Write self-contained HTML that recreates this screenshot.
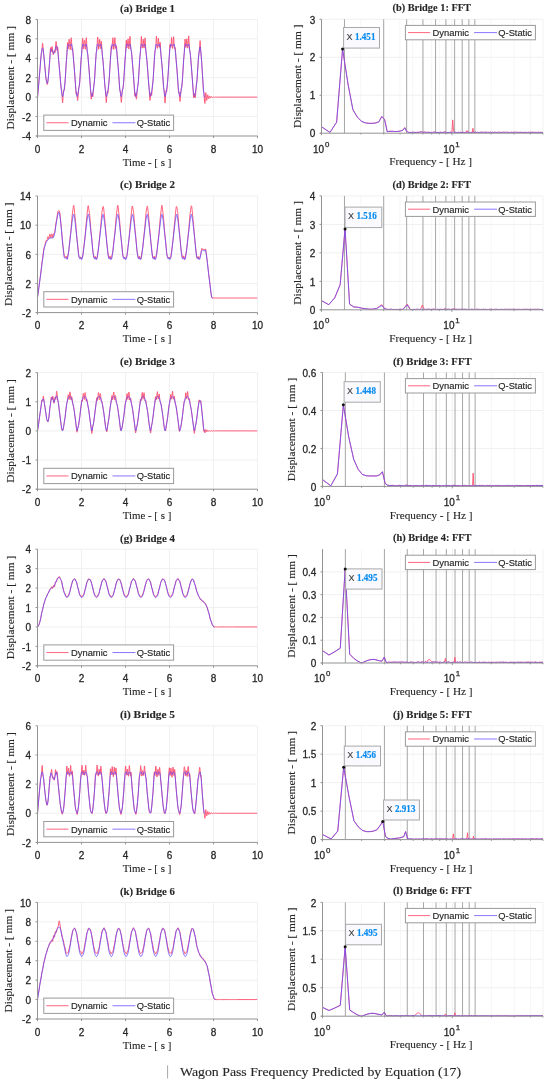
<!DOCTYPE html>
<html><head><meta charset="utf-8"><title>Bridge responses</title>
<style>html,body{margin:0;padding:0;background:#fff;}svg{display:block;}</style>
</head><body>
<svg width="550" height="1085" viewBox="0 0 550 1085">
<rect x="0" y="0" width="550" height="1085" fill="#ffffff"/>
<line x1="81.50" y1="19.40" x2="81.50" y2="136.00" stroke="#f0f0f0" stroke-width="1.0" />
<line x1="125.50" y1="19.40" x2="125.50" y2="136.00" stroke="#f0f0f0" stroke-width="1.0" />
<line x1="169.50" y1="19.40" x2="169.50" y2="136.00" stroke="#f0f0f0" stroke-width="1.0" />
<line x1="213.50" y1="19.40" x2="213.50" y2="136.00" stroke="#f0f0f0" stroke-width="1.0" />
<line x1="257.50" y1="19.40" x2="257.50" y2="136.00" stroke="#f0f0f0" stroke-width="1.0" />
<line x1="37.50" y1="116.57" x2="257.50" y2="116.57" stroke="#f0f0f0" stroke-width="1.0" />
<line x1="37.50" y1="97.13" x2="257.50" y2="97.13" stroke="#f0f0f0" stroke-width="1.0" />
<line x1="37.50" y1="77.70" x2="257.50" y2="77.70" stroke="#f0f0f0" stroke-width="1.0" />
<line x1="37.50" y1="58.27" x2="257.50" y2="58.27" stroke="#f0f0f0" stroke-width="1.0" />
<line x1="37.50" y1="38.83" x2="257.50" y2="38.83" stroke="#f0f0f0" stroke-width="1.0" />
<line x1="37.50" y1="19.40" x2="257.50" y2="19.40" stroke="#f0f0f0" stroke-width="1.0" />
<clipPath id="c1"><rect x="37.50" y="18.40" width="220.00" height="118.10"/></clipPath>
<polyline points="37.50,97.13 38.16,90.85 40.20,66.44 41.02,55.46 41.35,53.10 41.46,52.93 41.68,53.05 41.73,52.98 41.84,52.46 42.34,44.85 42.51,43.37 42.56,43.24 42.67,43.44 42.89,45.07 43.55,53.87 44.16,58.48 45.86,77.73 46.19,79.87 46.69,81.77 47.12,84.04 47.34,84.57 47.51,84.18 47.73,82.74 48.55,75.16 49.55,63.24 50.26,51.04 50.59,47.68 50.65,47.56 50.70,47.60 50.76,47.82 51.09,51.08 51.25,51.85 51.41,51.17 51.85,46.96 51.97,46.55 52.02,46.48 52.13,46.60 52.41,47.98 52.95,53.61 53.17,54.64 53.34,54.29 53.84,51.69 54.28,50.66 54.39,50.61 54.49,50.76 54.88,52.51 54.99,52.71 55.10,52.39 55.21,51.45 55.76,43.15 55.92,41.86 56.09,41.38 56.26,41.82 56.37,42.80 56.75,49.00 56.91,50.42 56.97,50.47 57.08,50.03 57.35,47.58 57.52,46.78 57.58,46.75 57.63,46.88 57.80,48.02 58.67,60.66 59.72,71.47 60.77,85.22 61.15,88.63 61.59,90.15 61.76,91.23 61.98,94.04 62.36,101.32 62.47,102.62 62.58,103.02 62.80,101.28 63.24,93.37 63.46,90.86 63.57,90.29 63.68,90.09 64.06,90.64 64.23,90.43 64.45,89.11 64.67,86.74 65.28,78.60 66.10,65.12 66.65,57.59 67.25,46.48 67.53,42.94 67.64,42.41 67.75,42.69 68.14,47.77 68.30,48.76 68.47,47.40 68.91,40.36 69.07,39.38 69.18,39.23 69.29,39.39 69.56,41.36 70.00,48.65 70.17,49.79 70.28,49.35 70.39,48.01 70.89,39.69 71.05,38.30 71.22,37.70 71.33,37.86 71.38,38.17 71.49,39.34 71.88,47.83 72.04,49.91 72.15,50.15 72.48,48.59 72.59,48.50 72.75,49.24 72.97,51.38 73.69,61.49 74.90,76.08 76.00,93.31 76.17,94.27 76.28,94.37 76.72,92.60 76.77,92.56 76.83,92.66 76.88,92.89 77.43,99.50 77.54,100.31 77.65,100.51 77.76,100.07 77.93,98.40 78.58,88.99 78.81,87.65 79.30,86.23 79.69,83.02 80.90,62.09 81.12,59.19 81.66,54.24 82.27,42.74 82.60,38.62 82.71,38.16 82.77,38.28 82.88,39.34 83.26,47.37 83.42,48.91 83.59,48.10 84.09,41.75 84.31,40.50 84.47,40.16 84.64,40.64 84.75,41.63 85.13,47.87 85.30,49.26 85.41,48.97 85.52,47.75 86.01,39.54 86.17,38.01 86.29,37.68 86.40,38.10 86.56,40.07 87.11,51.35 87.28,52.65 87.55,53.25 87.72,53.97 88.10,57.51 90.30,85.79 91.02,97.64 91.18,98.99 91.23,99.11 91.29,99.06 91.51,97.62 91.84,93.99 92.00,93.10 92.06,93.08 92.17,93.40 92.66,96.69 92.78,96.84 92.83,96.74 93.00,95.73 93.71,86.42 94.37,81.79 94.59,79.29 96.02,54.76 96.24,52.62 96.35,52.16 96.62,51.77 96.79,50.58 97.45,39.24 97.61,37.55 97.78,37.01 98.00,38.99 98.44,48.18 98.60,49.24 98.77,48.29 99.21,43.11 99.65,39.50 99.71,39.38 99.76,39.43 99.87,40.08 100.31,47.49 100.48,48.62 100.64,47.55 101.08,41.99 101.30,41.24 101.41,41.34 101.52,41.93 102.23,54.48 102.90,59.98 103.39,65.11 104.60,82.84 104.88,85.76 105.42,89.66 106.09,100.82 106.30,102.61 106.47,101.63 106.91,94.06 107.13,91.76 107.24,91.40 107.35,91.50 107.68,92.87 107.84,93.13 108.01,92.61 108.23,90.69 109.39,76.46 111.20,46.59 111.31,46.05 111.36,46.08 111.70,48.65 111.80,49.05 111.86,48.94 112.63,39.50 112.79,38.08 112.91,37.74 113.02,38.15 113.12,39.44 113.56,48.17 113.67,49.20 113.73,49.38 113.78,49.35 114.00,47.68 114.72,38.48 114.89,37.60 115.05,38.78 115.44,46.53 115.60,48.30 115.66,48.45 115.77,48.25 116.04,46.54 116.26,45.88 116.37,45.92 116.48,46.24 116.65,47.39 117.36,58.70 118.13,66.50 118.52,71.28 119.67,89.38 119.89,91.02 120.00,91.23 120.33,91.13 120.55,92.07 121.10,100.89 121.21,102.06 121.32,102.46 121.43,102.04 121.54,100.90 122.20,90.57 122.42,89.35 122.53,89.21 122.75,89.30 122.86,89.26 123.03,88.80 123.47,84.80 124.78,63.70 125.45,55.25 126.27,40.41 126.32,40.20 126.44,40.67 126.82,46.67 126.93,47.77 127.04,47.98 127.26,46.51 127.92,39.48 128.03,38.88 128.08,38.83 128.14,38.99 128.31,40.73 128.69,47.74 128.80,48.78 128.91,49.02 129.19,47.03 129.84,37.35 130.01,36.26 130.18,37.66 130.50,46.01 130.72,49.42 130.83,50.03 131.22,50.44 131.44,51.16 131.83,54.25 132.38,62.15 133.81,80.17 134.74,95.00 134.91,96.07 134.96,96.16 135.01,96.12 135.45,93.42 135.56,93.13 135.62,93.16 135.84,94.45 136.22,98.55 136.39,99.19 136.50,98.96 136.67,97.72 137.38,87.99 137.60,86.56 138.09,84.46 138.37,82.02 139.58,60.63 139.75,58.46 140.24,54.42 140.52,51.32 141.23,38.05 141.40,36.38 141.56,37.83 141.94,46.15 142.17,48.04 142.22,48.06 142.33,47.73 142.55,46.30 143.10,40.05 143.27,39.27 143.43,40.31 143.87,47.24 143.98,48.03 144.04,48.15 144.15,47.94 144.47,45.09 144.92,38.53 145.03,37.83 145.13,38.16 145.80,51.03 145.96,52.71 146.62,57.13 146.95,60.39 148.38,79.84 149.09,87.65 149.75,98.82 149.87,99.97 149.92,100.29 150.03,100.45 150.19,99.63 150.58,94.35 150.80,92.67 150.85,92.58 150.96,92.77 151.46,95.50 151.52,95.57 151.57,95.52 151.62,95.36 151.79,94.24 152.45,85.68 153.06,80.62 153.28,77.92 154.76,52.53 154.93,51.06 155.04,50.63 155.31,50.26 155.42,49.87 155.69,47.85 155.92,45.05 156.30,37.85 156.41,36.55 156.46,36.26 156.52,36.26 156.69,37.97 157.07,46.00 157.18,47.42 157.34,48.34 157.45,48.35 157.56,48.04 157.79,46.57 158.39,38.36 158.44,38.26 158.56,38.81 159.00,45.80 159.21,47.30 159.27,47.33 159.38,47.10 159.60,46.05 160.04,42.43 160.15,42.18 160.26,42.76 160.97,55.28 162.13,66.72 163.45,86.27 163.62,87.66 164.06,89.49 164.22,90.87 164.83,101.31 164.94,102.67 165.05,103.11 165.27,101.19 165.65,94.12 165.87,91.44 165.98,90.86 166.09,90.71 166.47,91.68 166.58,91.75 166.64,91.68 166.86,90.56 167.08,88.26 168.02,75.95 169.22,57.02 169.88,44.92 169.94,44.55 170.00,44.40 170.05,44.44 170.38,46.73 170.55,47.35 170.60,47.38 170.71,47.27 170.88,46.75 171.09,44.74 171.48,38.35 171.65,37.42 171.81,38.82 172.31,47.23 172.47,48.32 172.58,48.53 172.69,48.43 172.96,46.42 173.41,38.16 173.57,36.70 173.73,37.73 174.12,44.64 174.40,47.72 174.56,48.49 174.72,48.69 175.17,47.59 175.28,47.92 175.38,48.83 176.05,59.15 177.31,73.90 178.41,91.36 178.52,92.33 178.69,92.93 178.80,92.88 179.12,92.04 179.23,92.14 179.29,92.37 179.46,93.93 179.84,99.97 180.06,101.50 180.17,101.20 180.33,99.56 181.00,89.75 181.21,88.46 181.60,87.90 181.82,87.07 182.26,82.76 183.42,63.07 184.30,52.67 184.79,41.56 184.96,39.25 185.01,39.05 185.06,39.12 185.18,39.86 185.67,46.27 185.83,47.26 186.00,47.53 186.22,46.15 186.66,39.35 186.77,38.75 186.83,38.80 186.99,40.24 187.43,46.47 187.59,47.62 187.71,48.03 187.81,48.16 187.98,47.59 188.09,46.46 188.53,37.43 188.69,35.90 188.86,37.35 189.41,48.26 189.74,51.40 189.91,52.23 190.29,53.40 190.51,55.28 192.71,84.05 193.43,95.93 193.59,97.52 193.70,97.86 193.87,97.26 194.25,93.93 194.42,93.28 194.58,93.76 195.08,97.68 195.19,97.87 195.24,97.80 195.41,96.84 196.12,86.92 196.89,81.43 197.11,79.03 198.38,58.34 198.65,55.86 199.37,51.05 199.86,42.52 199.97,41.12 200.08,40.62 200.25,41.95 200.74,50.97 201.73,62.59 203.27,88.77 203.49,90.83 203.60,91.23 203.88,91.70 203.98,92.39 204.48,100.61 204.54,99.52 204.70,102.37 204.87,103.44 204.97,103.10 205.08,102.03 205.53,94.80 205.69,93.05 205.80,92.61 205.91,92.79 206.02,93.50 206.57,99.65 206.68,100.23 206.79,100.38 207.01,99.46 207.50,95.40 207.62,94.94 207.72,94.80 207.94,95.40 208.44,98.32 208.66,98.81 208.88,98.43 209.32,96.51 209.48,96.05 209.59,95.93 209.81,96.17 210.37,97.80 210.59,97.99 210.81,97.75 211.30,96.67 211.52,96.51 211.74,96.67 212.23,97.45 212.46,97.58 212.68,97.47 213.17,96.92 213.39,96.81 213.61,96.88 214.16,97.31 214.38,97.36 215.31,96.97 216.25,97.25 217.19,97.05 218.12,97.19 219.11,97.09 220.04,97.16 220.98,97.11 257.50,97.13" fill="none" stroke="#ff4a6a" stroke-opacity="0.85" stroke-width="1.0" stroke-linejoin="round" clip-path="url(#c1)"/>
<polyline points="37.50,97.13 38.66,84.86 41.13,55.52 41.57,51.73 42.01,49.29 42.28,48.19 42.51,47.89 42.73,48.18 43.05,49.30 43.38,50.92 43.72,53.80 44.59,64.18 46.02,78.88 46.47,81.59 46.96,82.99 47.12,83.26 47.29,83.36 47.51,83.00 47.73,82.07 48.11,79.84 48.34,77.95 50.26,53.43 50.53,50.64 50.76,49.28 50.87,48.98 51.14,49.01 51.47,49.30 52.08,50.08 52.41,50.76 53.28,53.12 53.56,53.58 53.84,53.70 54.05,53.43 54.33,52.70 55.98,46.78 56.20,46.24 56.42,46.03 56.59,46.14 56.75,46.46 57.08,47.53 57.58,49.74 57.85,51.58 58.34,56.36 60.55,81.51 61.48,91.21 61.81,93.85 62.20,95.86 62.41,96.54 62.52,96.60 62.64,96.47 63.02,95.13 63.90,90.68 64.45,86.99 64.94,82.83 65.39,77.35 66.32,61.40 67.03,52.42 67.64,46.65 68.03,44.70 68.25,44.18 68.63,44.40 69.51,45.70 69.73,45.93 69.95,46.03 70.11,45.99 70.33,45.77 71.22,44.36 71.38,44.22 71.55,44.19 71.71,44.62 72.09,46.52 72.86,52.56 74.08,65.43 75.45,84.16 75.89,89.24 76.55,94.34 76.94,96.16 77.16,96.60 77.32,96.40 77.54,95.70 78.47,91.12 79.08,87.16 79.63,82.51 80.02,77.69 81.12,59.42 81.89,50.22 82.38,46.11 82.71,44.57 82.88,44.19 83.04,44.21 83.26,44.38 84.19,45.74 84.41,45.96 84.64,46.03 85.02,45.73 85.84,44.38 86.06,44.20 86.23,44.23 86.67,46.09 87.00,48.16 87.83,55.65 88.87,67.11 90.08,83.88 90.58,89.55 91.23,94.52 91.62,96.27 91.73,96.55 91.84,96.59 92.00,96.32 92.23,95.57 93.10,91.25 93.66,87.73 94.21,83.23 94.65,78.02 95.64,61.24 96.35,52.29 96.96,46.58 97.34,44.65 97.56,44.18 97.95,44.42 98.83,45.71 99.04,45.94 99.27,46.03 99.43,45.98 99.65,45.76 100.53,44.35 100.70,44.21 100.86,44.20 101.03,44.67 101.41,46.58 102.18,52.67 103.39,65.56 105.15,88.80 105.81,94.08 106.20,95.98 106.42,96.59 106.58,96.49 106.80,95.87 107.68,91.67 108.28,87.88 108.84,83.43 109.33,77.52 110.32,60.76 110.98,52.54 111.59,46.73 111.97,44.74 112.19,44.18 112.35,44.21 112.58,44.39 113.51,45.75 113.73,45.96 113.95,46.03 114.34,45.71 115.16,44.37 115.49,44.18 115.71,44.81 116.09,46.77 116.86,52.99 118.08,65.93 119.40,84.02 119.84,89.13 120.50,94.28 120.88,96.11 121.10,96.60 121.27,96.43 121.48,95.75 122.36,91.49 122.97,87.65 123.52,83.13 123.96,77.85 124.95,61.08 125.56,53.45 126.16,47.29 126.38,45.87 126.77,44.29 126.88,44.18 127.15,44.31 128.14,45.73 128.36,45.95 128.58,46.03 128.75,45.97 128.97,45.74 129.79,44.40 130.12,44.18 130.34,44.71 130.72,46.64 131.50,52.78 132.70,65.68 134.47,88.91 135.12,94.15 135.51,96.03 135.73,96.60 135.84,96.55 135.95,96.35 136.17,95.61 137.05,91.31 137.66,87.41 138.26,82.31 138.65,77.35 139.69,59.85 140.46,50.57 140.95,46.30 141.29,44.70 141.50,44.18 141.89,44.40 142.77,45.70 142.99,45.93 143.21,46.03 143.38,45.99 143.59,45.77 144.47,44.36 144.64,44.22 144.81,44.19 145.08,45.12 145.58,47.93 146.40,55.31 147.50,67.38 148.71,84.16 149.20,89.76 149.81,94.34 150.19,96.16 150.42,96.60 150.58,96.40 150.80,95.70 151.73,91.12 152.29,87.57 152.83,83.03 153.28,77.69 154.27,60.92 154.87,53.32 155.47,47.20 155.69,45.82 156.08,44.26 156.19,44.18 156.46,44.32 157.45,45.74 157.68,45.96 157.90,46.03 158.28,45.73 159.10,44.38 159.44,44.18 159.66,44.76 160.04,46.71 160.81,52.88 162.02,65.81 163.78,89.02 164.44,94.21 164.83,96.07 165.05,96.60 165.27,96.32 165.48,95.57 166.42,90.93 167.03,86.91 167.58,82.20 167.96,77.17 169.00,59.70 169.78,50.45 170.27,46.24 170.60,44.65 170.82,44.18 171.21,44.42 172.08,45.71 172.31,45.94 172.53,46.03 172.69,45.98 172.91,45.76 173.79,44.35 174.06,44.18 174.18,44.30 174.62,46.27 174.94,48.41 175.77,56.00 176.81,67.52 177.97,83.59 178.46,89.34 179.12,94.40 179.51,96.20 179.62,96.51 179.73,96.60 179.90,96.38 180.12,95.66 181.05,91.06 181.66,87.08 182.21,82.41 182.59,77.52 183.63,60.00 184.41,50.69 184.90,46.37 185.23,44.74 185.45,44.18 185.62,44.21 185.83,44.39 186.77,45.75 186.99,45.96 187.21,46.03 187.54,45.78 188.31,44.51 188.69,44.18 188.81,44.25 188.92,44.58 189.35,46.77 190.02,51.94 191.39,66.58 193.04,88.57 193.70,93.95 194.14,96.11 194.36,96.60 194.53,96.43 194.75,95.76 195.41,92.60 195.84,89.89 196.34,86.08 197.06,79.17 198.27,60.76 199.04,52.21 199.37,49.28 199.64,47.69 200.03,46.88 200.13,46.83 200.25,47.05 200.85,51.48 201.29,56.56 203.66,92.53 204.04,95.45 204.31,96.85 204.48,97.13 204.92,97.13" fill="none" stroke="#6248ff" stroke-opacity="0.75" stroke-width="1.0" stroke-linejoin="round" clip-path="url(#c1)"/>
<line x1="37.50" y1="19.40" x2="37.50" y2="137.50" stroke="#939393" stroke-width="1.0" />
<line x1="36.00" y1="136.00" x2="257.50" y2="136.00" stroke="#939393" stroke-width="1.0" />
<line x1="35.50" y1="136.00" x2="37.50" y2="136.00" stroke="#939393" stroke-width="1.0" />
<text x="31.00" y="140.20" font-family="'Liberation Sans', Arial, Helvetica, sans-serif" font-size="10" text-anchor="end" fill="#262626" stroke="#262626" stroke-width="0.28" >-4</text>
<line x1="35.50" y1="116.57" x2="37.50" y2="116.57" stroke="#939393" stroke-width="1.0" />
<text x="31.00" y="120.77" font-family="'Liberation Sans', Arial, Helvetica, sans-serif" font-size="10" text-anchor="end" fill="#262626" stroke="#262626" stroke-width="0.28" >-2</text>
<line x1="35.50" y1="97.13" x2="37.50" y2="97.13" stroke="#939393" stroke-width="1.0" />
<text x="31.00" y="101.33" font-family="'Liberation Sans', Arial, Helvetica, sans-serif" font-size="10" text-anchor="end" fill="#262626" stroke="#262626" stroke-width="0.28" >0</text>
<line x1="35.50" y1="77.70" x2="37.50" y2="77.70" stroke="#939393" stroke-width="1.0" />
<text x="31.00" y="81.90" font-family="'Liberation Sans', Arial, Helvetica, sans-serif" font-size="10" text-anchor="end" fill="#262626" stroke="#262626" stroke-width="0.28" >2</text>
<line x1="35.50" y1="58.27" x2="37.50" y2="58.27" stroke="#939393" stroke-width="1.0" />
<text x="31.00" y="62.47" font-family="'Liberation Sans', Arial, Helvetica, sans-serif" font-size="10" text-anchor="end" fill="#262626" stroke="#262626" stroke-width="0.28" >4</text>
<line x1="35.50" y1="38.83" x2="37.50" y2="38.83" stroke="#939393" stroke-width="1.0" />
<text x="31.00" y="43.03" font-family="'Liberation Sans', Arial, Helvetica, sans-serif" font-size="10" text-anchor="end" fill="#262626" stroke="#262626" stroke-width="0.28" >6</text>
<line x1="35.50" y1="19.40" x2="37.50" y2="19.40" stroke="#939393" stroke-width="1.0" />
<text x="31.00" y="23.60" font-family="'Liberation Sans', Arial, Helvetica, sans-serif" font-size="10" text-anchor="end" fill="#262626" stroke="#262626" stroke-width="0.28" >8</text>
<line x1="37.50" y1="136.00" x2="37.50" y2="138.00" stroke="#939393" stroke-width="1.0" />
<text x="37.50" y="152.50" font-family="'Liberation Sans', Arial, Helvetica, sans-serif" font-size="10" text-anchor="middle" fill="#262626" stroke="#262626" stroke-width="0.28" >0</text>
<line x1="81.50" y1="136.00" x2="81.50" y2="138.00" stroke="#939393" stroke-width="1.0" />
<text x="81.50" y="152.50" font-family="'Liberation Sans', Arial, Helvetica, sans-serif" font-size="10" text-anchor="middle" fill="#262626" stroke="#262626" stroke-width="0.28" >2</text>
<line x1="125.50" y1="136.00" x2="125.50" y2="138.00" stroke="#939393" stroke-width="1.0" />
<text x="125.50" y="152.50" font-family="'Liberation Sans', Arial, Helvetica, sans-serif" font-size="10" text-anchor="middle" fill="#262626" stroke="#262626" stroke-width="0.28" >4</text>
<line x1="169.50" y1="136.00" x2="169.50" y2="138.00" stroke="#939393" stroke-width="1.0" />
<text x="169.50" y="152.50" font-family="'Liberation Sans', Arial, Helvetica, sans-serif" font-size="10" text-anchor="middle" fill="#262626" stroke="#262626" stroke-width="0.28" >6</text>
<line x1="213.50" y1="136.00" x2="213.50" y2="138.00" stroke="#939393" stroke-width="1.0" />
<text x="213.50" y="152.50" font-family="'Liberation Sans', Arial, Helvetica, sans-serif" font-size="10" text-anchor="middle" fill="#262626" stroke="#262626" stroke-width="0.28" >8</text>
<line x1="257.50" y1="136.00" x2="257.50" y2="138.00" stroke="#939393" stroke-width="1.0" />
<text x="257.50" y="152.50" font-family="'Liberation Sans', Arial, Helvetica, sans-serif" font-size="10" text-anchor="middle" fill="#262626" stroke="#262626" stroke-width="0.28" >10</text>
<text x="147.50" y="11.80" font-family="'Liberation Serif', 'Times New Roman', serif" font-size="10.5" text-anchor="middle" fill="#262626" stroke="#262626" font-weight="bold" stroke-width="0.12" textLength="54.9" lengthAdjust="spacingAndGlyphs">(a) Bridge 1</text>
<text x="147.00" y="165.50" font-family="'Liberation Serif', 'Times New Roman', serif" font-size="11" text-anchor="middle" fill="#262626" stroke="#262626" stroke-width="0.12" textLength="48.6" lengthAdjust="spacingAndGlyphs">Time - [ s ]</text>
<text transform="translate(13.90,77.70) rotate(-90)" x="0" y="0" font-family="'Liberation Serif', 'Times New Roman', serif" font-size="11" text-anchor="middle" fill="#262626" stroke="#262626" stroke-width="0.12" textLength="103.6" lengthAdjust="spacingAndGlyphs">Displacement - [ mm ]</text>
<rect x="43.80" y="115.10" width="129.80" height="15.30" fill="#ffffff" stroke="#9a9a9a" stroke-width="1"/>
<line x1="46.40" y1="122.75" x2="68.50" y2="122.75" stroke="#ff4a6a" stroke-width="1.0" stroke-opacity="0.85"/>
<text x="71.00" y="126.15" font-family="'Liberation Sans', Arial, Helvetica, sans-serif" font-size="9.4" text-anchor="start" fill="#262626" stroke="#262626" stroke-width="0.15" textLength="36.4" lengthAdjust="spacingAndGlyphs">Dynamic</text>
<line x1="112.50" y1="122.75" x2="135.40" y2="122.75" stroke="#6248ff" stroke-width="1.0" stroke-opacity="0.75"/>
<text x="136.70" y="126.15" font-family="'Liberation Sans', Arial, Helvetica, sans-serif" font-size="9.4" text-anchor="start" fill="#262626" stroke="#262626" stroke-width="0.15" textLength="33.6" lengthAdjust="spacingAndGlyphs">Q-Static</text>
<line x1="81.50" y1="196.00" x2="81.50" y2="312.60" stroke="#f0f0f0" stroke-width="1.0" />
<line x1="125.50" y1="196.00" x2="125.50" y2="312.60" stroke="#f0f0f0" stroke-width="1.0" />
<line x1="169.50" y1="196.00" x2="169.50" y2="312.60" stroke="#f0f0f0" stroke-width="1.0" />
<line x1="213.50" y1="196.00" x2="213.50" y2="312.60" stroke="#f0f0f0" stroke-width="1.0" />
<line x1="257.50" y1="196.00" x2="257.50" y2="312.60" stroke="#f0f0f0" stroke-width="1.0" />
<line x1="37.50" y1="283.45" x2="257.50" y2="283.45" stroke="#f0f0f0" stroke-width="1.0" />
<line x1="37.50" y1="254.30" x2="257.50" y2="254.30" stroke="#f0f0f0" stroke-width="1.0" />
<line x1="37.50" y1="225.15" x2="257.50" y2="225.15" stroke="#f0f0f0" stroke-width="1.0" />
<line x1="37.50" y1="196.00" x2="257.50" y2="196.00" stroke="#f0f0f0" stroke-width="1.0" />
<clipPath id="c2"><rect x="37.50" y="195.00" width="220.00" height="118.10"/></clipPath>
<polyline points="37.50,297.30 38.93,287.16 39.98,278.69 40.80,273.20 41.90,262.76 42.78,257.37 43.61,250.20 43.99,247.85 44.87,245.59 45.59,241.84 45.86,240.81 46.08,240.50 46.25,240.54 46.63,240.87 46.80,240.82 46.91,240.64 47.12,239.91 47.67,237.17 47.89,236.65 48.01,236.65 48.17,236.96 48.67,238.66 48.77,238.80 48.88,238.75 49.11,238.00 49.60,234.80 49.82,234.03 49.93,234.01 50.09,234.45 50.59,237.28 50.81,237.88 50.92,237.82 51.03,237.51 51.58,234.32 51.80,233.75 51.91,233.82 52.08,234.35 52.62,237.27 52.79,237.60 52.95,237.48 53.78,233.45 54.00,233.10 54.33,233.24 54.49,233.16 54.77,232.27 55.87,223.17 56.75,219.04 57.69,212.28 57.96,211.20 58.29,210.64 58.51,210.56 58.90,210.55 59.12,210.70 59.34,211.04 59.66,212.11 59.99,214.03 61.70,231.56 62.86,244.82 64.34,256.39 64.61,257.44 64.78,257.71 64.94,257.77 65.22,257.46 65.83,256.19 65.99,256.07 66.10,256.10 66.38,256.58 66.87,258.46 67.09,258.75 67.20,258.62 67.36,258.05 67.92,254.86 68.52,252.30 68.85,250.09 69.84,239.79 70.78,232.35 72.09,216.12 73.36,206.31 73.58,205.34 73.64,205.29 73.75,205.44 74.08,207.50 75.56,221.68 76.77,236.72 77.65,244.53 78.64,254.52 78.92,256.21 79.19,257.19 79.30,257.33 79.41,257.33 79.69,256.94 79.85,256.85 80.02,256.96 80.23,257.29 80.51,257.03 80.62,257.05 81.00,258.55 81.12,258.73 81.66,257.69 81.78,257.59 82.10,257.56 82.33,257.19 82.66,256.06 82.98,254.25 83.92,245.63 84.91,238.04 85.95,225.76 87.66,208.55 87.99,206.15 88.16,205.66 88.27,205.68 88.54,206.88 89.75,215.56 90.91,230.28 91.84,238.77 92.72,249.49 93.10,252.74 94.09,256.92 94.59,258.09 94.75,258.28 94.92,258.28 95.30,256.59 95.41,256.42 95.80,257.46 96.08,257.77 96.68,258.93 96.84,258.72 97.06,257.67 98.83,245.38 99.76,235.40 100.70,226.84 101.91,212.25 102.73,207.36 102.95,206.57 103.06,206.42 103.17,206.47 103.34,206.87 103.55,207.92 104.00,211.20 106.97,244.49 108.50,256.67 108.73,257.89 108.84,258.20 108.95,258.27 109.66,256.93 109.94,255.99 110.04,255.90 110.54,258.66 110.65,258.91 110.87,259.03 111.15,258.73 111.48,257.90 112.03,255.21 112.52,253.36 112.85,251.32 113.84,241.20 114.83,233.41 116.09,217.79 117.47,206.27 117.64,205.37 117.75,205.14 117.80,205.17 117.97,205.73 118.13,206.89 119.61,220.44 120.83,235.71 121.71,243.39 122.70,254.00 123.03,255.86 123.36,256.87 123.52,257.02 123.79,256.86 123.96,256.90 124.40,257.65 124.78,257.21 125.17,258.33 125.28,258.41 125.72,257.63 125.89,257.59 126.22,257.87 126.44,257.63 126.77,256.40 127.09,254.37 127.86,247.44 128.97,238.92 129.90,228.13 131.60,210.29 132.05,206.83 132.21,206.16 132.38,205.98 132.54,206.35 132.70,207.17 133.53,212.27 133.81,214.52 134.96,229.08 135.90,237.79 136.72,247.92 137.16,251.84 138.20,257.03 138.53,258.00 138.81,258.30 138.97,258.24 139.08,258.09 139.42,256.41 139.53,256.11 139.58,256.11 140.02,257.68 140.57,258.79 140.79,259.03 140.95,258.79 141.12,258.03 141.67,254.04 142.77,247.25 143.76,236.83 144.75,228.03 145.91,213.68 146.18,211.58 146.90,207.33 147.12,206.35 147.28,206.11 147.44,206.38 147.67,207.42 148.10,211.00 149.75,228.61 150.91,242.27 152.56,256.26 152.78,257.57 153.00,258.13 153.11,258.06 153.60,257.04 153.83,256.80 154.10,256.16 154.21,256.20 154.65,258.72 154.76,259.01 154.87,259.03 155.15,258.73 155.64,257.59 156.58,254.09 156.91,252.06 157.90,242.12 158.88,234.41 160.15,219.00 161.53,206.73 161.69,205.61 161.85,205.12 162.02,205.41 162.19,206.39 163.62,218.68 164.83,234.05 165.70,241.72 166.75,253.36 166.97,254.73 167.35,256.17 167.63,256.73 168.07,257.03 168.51,257.94 168.62,257.90 168.95,257.18 169.39,258.07 169.72,257.63 169.88,257.59 170.33,258.20 170.44,258.20 170.66,257.72 170.93,256.33 172.91,240.83 173.90,229.85 174.72,221.72 175.66,210.97 176.16,207.32 176.38,206.48 176.54,206.32 176.76,206.80 176.98,207.85 177.58,211.34 177.86,213.55 178.96,227.26 179.95,236.84 180.88,248.08 181.33,251.58 182.31,257.15 182.54,258.00 182.70,258.24 182.87,258.31 183.14,258.01 183.31,257.52 183.58,256.06 183.69,255.87 183.80,256.11 184.19,257.96 184.68,258.95 184.84,259.04 185.01,258.90 185.23,257.98 185.78,254.18 186.44,250.81 186.77,248.59 187.76,238.23 188.75,229.79 189.96,214.70 191.12,206.78 191.28,206.00 191.44,205.77 191.56,205.95 191.72,206.66 192.05,209.29 193.70,226.18 194.85,240.11 196.29,253.21 196.83,257.15 197.00,257.74 197.17,257.89 197.66,256.97 197.83,256.85 197.99,256.86 198.21,256.50 198.32,256.47 198.81,258.88 198.93,259.01 199.09,258.82 199.81,257.41 200.63,254.83 200.91,253.50 201.51,249.51 201.68,248.88 201.90,248.44 202.00,248.39 202.17,248.50 202.67,249.58 202.94,249.85 203.10,249.80 203.55,249.26 203.77,249.14 203.98,249.27 204.48,249.98 204.70,250.08 204.92,249.87 205.42,248.85 205.58,249.00 205.80,249.97 206.13,252.17 207.56,263.47 208.71,274.31 209.59,281.01 210.86,292.16 211.46,296.05 211.74,297.21 212.02,297.89 212.23,298.03 257.50,298.03" fill="none" stroke="#ff4a6a" stroke-opacity="0.85" stroke-width="1.0" stroke-linejoin="round" clip-path="url(#c2)"/>
<polyline points="37.50,297.30 40.25,277.64 43.27,254.15 43.88,250.29 44.54,247.33 45.20,244.96 45.86,243.12 46.74,241.42 47.62,240.18 49.16,238.74 50.20,238.07 50.81,237.91 53.01,237.88 53.34,237.52 53.73,236.71 54.33,235.00 54.72,233.24 56.97,218.86 57.47,216.10 58.34,212.84 58.62,212.21 58.84,212.03 58.95,212.10 59.12,212.44 59.45,213.74 60.05,217.04 60.38,219.46 60.93,224.77 62.30,240.08 63.62,252.76 64.12,256.48 64.34,257.48 64.56,257.94 65.06,258.23 65.50,258.30 66.16,257.65 66.38,257.60 66.54,257.86 66.98,259.12 67.20,259.40 67.42,259.05 67.64,258.16 68.52,253.00 72.09,221.85 72.48,219.13 73.08,215.74 73.36,214.57 73.58,214.22 73.80,214.57 74.13,216.03 74.73,219.48 75.23,223.13 76.99,239.29 78.09,250.76 78.58,254.71 79.08,257.46 79.41,258.58 79.52,258.67 80.18,258.67 80.62,257.58 80.73,257.77 81.06,259.21 81.17,259.40 81.94,259.40 82.10,259.14 82.38,258.05 83.04,254.35 83.75,248.88 86.84,221.68 87.22,219.00 87.83,215.63 88.10,214.51 88.21,214.28 88.32,214.22 88.54,214.64 88.76,215.57 89.36,218.93 89.75,221.58 91.67,238.97 93.00,252.45 93.27,254.51 93.77,257.30 93.98,258.23 94.21,258.66 94.92,258.66 95.25,257.69 95.36,257.59 95.85,259.38 96.62,259.40 96.84,259.08 97.12,257.94 97.78,254.20 98.28,250.54 101.63,221.10 102.56,215.52 102.78,214.61 103.00,214.22 103.23,214.54 103.50,215.68 104.10,219.06 104.60,222.60 106.42,239.18 107.62,251.68 107.96,254.29 108.40,256.83 108.67,258.11 108.89,258.64 109.66,258.64 110.04,257.58 110.16,257.74 110.59,259.40 111.36,259.40 111.48,259.29 111.75,258.37 112.30,255.40 112.85,251.68 116.42,220.54 117.30,215.41 117.53,214.54 117.75,214.22 117.97,214.60 118.24,215.80 118.84,219.20 119.28,222.34 121.16,239.39 122.36,251.88 122.70,254.44 123.14,256.95 123.41,258.19 123.63,258.66 124.34,258.67 124.78,257.58 125.28,259.37 126.05,259.40 126.16,259.34 126.38,258.74 126.66,257.41 127.15,254.62 127.59,251.51 131.11,220.78 131.99,215.57 132.21,214.64 132.43,214.22 132.54,214.28 132.65,214.51 132.93,215.63 133.53,219.00 134.03,222.51 135.90,239.61 137.05,251.58 137.38,254.22 137.88,257.07 138.09,258.07 138.31,258.63 139.08,258.65 139.42,257.67 139.53,257.60 140.02,259.39 140.84,259.38 141.06,258.87 141.34,257.59 141.89,254.49 142.28,251.77 145.85,220.62 146.73,215.46 146.95,214.57 147.17,214.22 147.39,214.57 147.61,215.46 148.60,221.41 150.58,239.29 151.90,252.73 152.62,257.18 152.83,258.15 153.06,258.65 153.83,258.63 154.21,257.58 154.32,257.77 154.70,259.35 155.53,259.40 155.75,258.98 155.97,258.05 156.63,254.35 157.12,250.72 160.54,220.86 161.47,215.36 161.69,214.51 161.80,214.28 161.91,214.22 162.13,214.64 162.41,215.85 163.01,219.27 163.45,222.43 165.32,239.50 166.47,251.48 166.81,254.14 167.30,257.01 167.58,258.23 167.80,258.66 168.51,258.66 168.84,257.69 168.95,257.59 169.44,259.38 170.21,259.40 170.38,259.22 170.66,258.21 171.21,255.21 171.75,251.43 175.28,220.70 176.16,215.52 176.38,214.61 176.59,214.22 176.81,214.54 177.09,215.68 177.69,219.06 178.19,222.60 180.00,239.18 181.21,251.68 181.55,254.29 181.98,256.83 182.26,258.11 182.48,258.64 183.25,258.64 183.63,257.58 183.80,257.93 184.13,259.33 184.19,259.40 184.96,259.40 185.18,259.01 185.40,258.10 186.00,254.76 186.38,252.11 190.02,220.54 190.90,215.41 191.12,214.54 191.33,214.22 191.56,214.60 191.83,215.80 192.44,219.20 192.88,222.34 194.75,239.39 195.96,251.88 196.34,254.78 196.94,257.99 197.22,258.66 197.94,258.67 198.38,257.58 198.87,259.37 199.69,259.39 199.86,259.08 200.03,258.44 201.34,251.58 201.56,250.82 201.79,250.42 202.12,250.01 202.44,249.95 202.83,250.16 203.66,250.87 204.09,251.02 204.37,250.87 205.19,249.99 205.42,249.94 205.53,250.15 206.24,253.98 206.84,258.25 208.60,273.55 211.08,293.76 211.46,296.05 211.85,297.55 212.12,298.00 212.62,298.03" fill="none" stroke="#6248ff" stroke-opacity="0.75" stroke-width="1.0" stroke-linejoin="round" clip-path="url(#c2)"/>
<line x1="37.50" y1="196.00" x2="37.50" y2="314.10" stroke="#939393" stroke-width="1.0" />
<line x1="36.00" y1="312.60" x2="257.50" y2="312.60" stroke="#939393" stroke-width="1.0" />
<line x1="35.50" y1="312.60" x2="37.50" y2="312.60" stroke="#939393" stroke-width="1.0" />
<text x="31.00" y="316.80" font-family="'Liberation Sans', Arial, Helvetica, sans-serif" font-size="10" text-anchor="end" fill="#262626" stroke="#262626" stroke-width="0.28" >-2</text>
<line x1="35.50" y1="283.45" x2="37.50" y2="283.45" stroke="#939393" stroke-width="1.0" />
<text x="31.00" y="287.65" font-family="'Liberation Sans', Arial, Helvetica, sans-serif" font-size="10" text-anchor="end" fill="#262626" stroke="#262626" stroke-width="0.28" >2</text>
<line x1="35.50" y1="254.30" x2="37.50" y2="254.30" stroke="#939393" stroke-width="1.0" />
<text x="31.00" y="258.50" font-family="'Liberation Sans', Arial, Helvetica, sans-serif" font-size="10" text-anchor="end" fill="#262626" stroke="#262626" stroke-width="0.28" >6</text>
<line x1="35.50" y1="225.15" x2="37.50" y2="225.15" stroke="#939393" stroke-width="1.0" />
<text x="31.00" y="229.35" font-family="'Liberation Sans', Arial, Helvetica, sans-serif" font-size="10" text-anchor="end" fill="#262626" stroke="#262626" stroke-width="0.28" >10</text>
<line x1="35.50" y1="196.00" x2="37.50" y2="196.00" stroke="#939393" stroke-width="1.0" />
<text x="31.00" y="200.20" font-family="'Liberation Sans', Arial, Helvetica, sans-serif" font-size="10" text-anchor="end" fill="#262626" stroke="#262626" stroke-width="0.28" >14</text>
<line x1="37.50" y1="312.60" x2="37.50" y2="314.60" stroke="#939393" stroke-width="1.0" />
<text x="37.50" y="329.10" font-family="'Liberation Sans', Arial, Helvetica, sans-serif" font-size="10" text-anchor="middle" fill="#262626" stroke="#262626" stroke-width="0.28" >0</text>
<line x1="81.50" y1="312.60" x2="81.50" y2="314.60" stroke="#939393" stroke-width="1.0" />
<text x="81.50" y="329.10" font-family="'Liberation Sans', Arial, Helvetica, sans-serif" font-size="10" text-anchor="middle" fill="#262626" stroke="#262626" stroke-width="0.28" >2</text>
<line x1="125.50" y1="312.60" x2="125.50" y2="314.60" stroke="#939393" stroke-width="1.0" />
<text x="125.50" y="329.10" font-family="'Liberation Sans', Arial, Helvetica, sans-serif" font-size="10" text-anchor="middle" fill="#262626" stroke="#262626" stroke-width="0.28" >4</text>
<line x1="169.50" y1="312.60" x2="169.50" y2="314.60" stroke="#939393" stroke-width="1.0" />
<text x="169.50" y="329.10" font-family="'Liberation Sans', Arial, Helvetica, sans-serif" font-size="10" text-anchor="middle" fill="#262626" stroke="#262626" stroke-width="0.28" >6</text>
<line x1="213.50" y1="312.60" x2="213.50" y2="314.60" stroke="#939393" stroke-width="1.0" />
<text x="213.50" y="329.10" font-family="'Liberation Sans', Arial, Helvetica, sans-serif" font-size="10" text-anchor="middle" fill="#262626" stroke="#262626" stroke-width="0.28" >8</text>
<line x1="257.50" y1="312.60" x2="257.50" y2="314.60" stroke="#939393" stroke-width="1.0" />
<text x="257.50" y="329.10" font-family="'Liberation Sans', Arial, Helvetica, sans-serif" font-size="10" text-anchor="middle" fill="#262626" stroke="#262626" stroke-width="0.28" >10</text>
<text x="147.50" y="188.40" font-family="'Liberation Serif', 'Times New Roman', serif" font-size="10.5" text-anchor="middle" fill="#262626" stroke="#262626" font-weight="bold" stroke-width="0.12" textLength="54.9" lengthAdjust="spacingAndGlyphs">(c) Bridge 2</text>
<text x="147.00" y="342.10" font-family="'Liberation Serif', 'Times New Roman', serif" font-size="11" text-anchor="middle" fill="#262626" stroke="#262626" stroke-width="0.12" textLength="48.6" lengthAdjust="spacingAndGlyphs">Time - [ s ]</text>
<text transform="translate(11.90,254.30) rotate(-90)" x="0" y="0" font-family="'Liberation Serif', 'Times New Roman', serif" font-size="11" text-anchor="middle" fill="#262626" stroke="#262626" stroke-width="0.12" textLength="103.6" lengthAdjust="spacingAndGlyphs">Displacement - [ mm ]</text>
<rect x="43.80" y="291.70" width="129.80" height="15.30" fill="#ffffff" stroke="#9a9a9a" stroke-width="1"/>
<line x1="46.40" y1="299.35" x2="68.50" y2="299.35" stroke="#ff4a6a" stroke-width="1.0" stroke-opacity="0.85"/>
<text x="71.00" y="302.75" font-family="'Liberation Sans', Arial, Helvetica, sans-serif" font-size="9.4" text-anchor="start" fill="#262626" stroke="#262626" stroke-width="0.15" textLength="36.4" lengthAdjust="spacingAndGlyphs">Dynamic</text>
<line x1="112.50" y1="299.35" x2="135.40" y2="299.35" stroke="#6248ff" stroke-width="1.0" stroke-opacity="0.75"/>
<text x="136.70" y="302.75" font-family="'Liberation Sans', Arial, Helvetica, sans-serif" font-size="9.4" text-anchor="start" fill="#262626" stroke="#262626" stroke-width="0.15" textLength="33.6" lengthAdjust="spacingAndGlyphs">Q-Static</text>
<line x1="81.50" y1="372.60" x2="81.50" y2="489.20" stroke="#f0f0f0" stroke-width="1.0" />
<line x1="125.50" y1="372.60" x2="125.50" y2="489.20" stroke="#f0f0f0" stroke-width="1.0" />
<line x1="169.50" y1="372.60" x2="169.50" y2="489.20" stroke="#f0f0f0" stroke-width="1.0" />
<line x1="213.50" y1="372.60" x2="213.50" y2="489.20" stroke="#f0f0f0" stroke-width="1.0" />
<line x1="257.50" y1="372.60" x2="257.50" y2="489.20" stroke="#f0f0f0" stroke-width="1.0" />
<line x1="37.50" y1="460.05" x2="257.50" y2="460.05" stroke="#f0f0f0" stroke-width="1.0" />
<line x1="37.50" y1="430.90" x2="257.50" y2="430.90" stroke="#f0f0f0" stroke-width="1.0" />
<line x1="37.50" y1="401.75" x2="257.50" y2="401.75" stroke="#f0f0f0" stroke-width="1.0" />
<line x1="37.50" y1="372.60" x2="257.50" y2="372.60" stroke="#f0f0f0" stroke-width="1.0" />
<clipPath id="c3"><rect x="37.50" y="371.60" width="220.00" height="118.10"/></clipPath>
<polyline points="37.50,430.90 38.71,423.30 39.92,414.08 40.85,408.04 41.62,401.15 41.79,400.42 41.95,400.14 42.12,400.22 42.51,401.03 42.62,401.05 42.67,400.94 43.27,396.25 43.33,396.16 43.38,396.20 43.55,396.96 44.38,403.72 45.09,407.69 46.52,418.15 46.85,419.54 47.73,421.60 47.95,421.86 48.11,421.62 48.28,421.03 48.88,417.43 49.88,408.27 50.42,404.52 50.98,398.59 51.20,397.28 51.36,396.99 51.53,397.16 51.97,399.53 52.13,399.91 52.30,399.16 52.62,396.35 52.73,395.98 52.84,396.07 53.12,397.63 53.73,402.48 53.89,403.25 54.00,403.41 54.05,403.35 54.28,402.27 54.72,398.19 54.94,397.12 55.10,397.01 55.32,397.34 55.76,399.27 55.87,399.44 55.92,399.32 56.09,397.80 56.42,392.70 56.64,391.18 56.75,391.35 56.91,392.43 57.69,400.79 57.85,401.34 58.12,401.15 58.23,401.25 58.45,402.42 59.28,410.35 60.77,421.85 61.59,428.88 61.86,429.86 61.98,429.87 62.25,429.58 62.41,429.53 62.58,429.64 62.97,430.15 63.19,429.77 63.41,428.77 64.18,422.86 65.06,417.62 66.16,407.60 66.54,404.75 66.81,403.30 67.20,402.51 67.36,401.78 68.03,395.19 68.14,394.80 68.25,394.69 68.47,395.08 68.69,396.34 69.02,399.20 69.12,399.60 69.18,399.55 69.34,398.37 69.73,393.05 69.95,391.87 70.11,392.19 70.33,393.51 71.00,399.91 71.05,400.01 71.16,399.77 71.55,396.92 71.66,396.59 71.77,396.68 72.04,398.15 72.81,404.13 72.97,404.84 73.42,405.93 73.69,407.21 74.19,410.46 75.89,423.50 76.61,430.60 76.77,431.68 76.94,432.23 77.10,431.90 77.65,428.28 77.81,427.77 78.25,427.05 78.58,425.50 79.96,415.37 81.39,402.81 81.72,400.60 81.83,400.24 81.94,400.17 82.33,401.23 82.49,400.86 83.04,394.72 83.20,393.65 83.37,393.29 83.54,393.48 83.70,394.29 84.14,398.87 84.31,399.52 84.47,398.56 84.91,393.19 85.02,392.64 85.08,392.54 85.19,392.60 85.41,393.44 85.57,394.63 86.12,400.59 86.17,400.80 86.23,400.87 86.29,400.83 86.73,399.17 86.84,399.18 86.94,399.44 87.28,401.13 87.94,406.04 88.81,410.22 90.19,421.59 91.02,426.54 91.67,432.86 91.84,433.44 92.06,432.43 92.66,426.81 92.89,425.77 93.44,423.88 93.82,421.55 95.20,410.18 95.85,405.68 96.62,398.41 96.79,397.71 96.90,397.61 96.96,397.66 97.12,398.29 97.40,400.09 97.50,400.43 97.56,400.40 97.73,399.44 98.16,394.15 98.33,393.04 98.50,392.57 98.60,392.52 98.66,392.60 98.83,393.34 99.27,398.55 99.43,399.52 99.59,398.89 100.09,394.08 100.25,393.66 100.36,393.75 100.48,394.10 100.70,395.60 101.25,401.59 101.41,402.08 101.74,401.58 101.91,401.57 102.07,401.98 102.29,403.00 104.00,414.12 105.37,425.96 105.65,427.34 106.09,428.53 106.53,431.23 106.75,431.88 106.85,431.74 107.02,430.97 107.79,424.70 108.89,418.58 110.04,408.19 110.38,406.04 110.92,403.43 111.70,396.55 111.92,395.56 112.03,395.47 112.08,395.58 112.58,399.55 112.69,399.87 112.74,399.78 113.34,393.77 113.67,392.08 113.78,392.00 113.84,392.09 113.95,392.64 114.39,398.41 114.55,399.65 114.61,399.72 114.72,399.36 115.22,395.74 115.33,395.53 115.44,395.57 115.66,396.25 116.37,402.81 116.53,403.45 116.92,403.86 117.09,404.28 117.64,407.15 119.40,420.11 120.39,429.27 120.55,430.16 120.77,430.44 120.94,430.27 121.32,429.30 121.71,429.15 121.87,428.92 122.20,427.66 122.97,421.76 123.85,416.12 125.28,403.44 125.50,402.38 125.61,402.22 125.89,402.18 126.05,401.63 126.98,393.92 127.09,393.62 127.15,393.64 127.26,394.08 127.70,398.94 127.86,399.50 128.03,398.62 128.58,393.28 128.75,392.34 128.91,391.97 129.02,392.26 129.13,393.10 129.51,398.46 129.68,399.87 129.74,400.04 129.79,400.06 129.84,399.96 130.18,398.41 130.34,397.97 130.45,397.90 130.56,397.98 130.72,398.37 130.95,399.55 131.55,404.64 132.16,406.79 132.59,409.03 133.92,419.52 134.69,424.75 135.40,431.82 135.56,432.85 135.68,432.99 135.84,432.19 136.39,427.71 136.56,427.05 137.05,425.97 137.44,423.89 139.53,407.47 140.35,399.82 140.46,399.24 140.57,399.09 140.95,400.72 141.06,400.89 141.18,400.65 142.00,393.42 142.22,392.32 142.33,392.54 142.44,393.39 142.77,397.82 142.94,399.12 142.99,399.23 143.10,398.98 143.76,393.79 143.93,392.90 144.04,392.64 144.09,392.67 144.25,393.59 144.64,398.94 144.86,400.72 144.92,400.86 145.03,400.89 145.35,400.36 145.58,400.33 145.80,400.63 145.96,401.26 146.62,406.29 147.67,411.92 148.98,423.18 149.81,427.60 150.36,432.57 150.53,433.14 150.63,432.95 150.75,432.34 151.46,426.00 152.23,422.67 152.62,420.23 153.88,409.41 154.59,404.81 155.42,397.07 155.58,396.54 155.69,396.75 156.08,399.49 156.19,399.89 156.25,399.92 156.30,399.83 156.58,398.14 157.18,392.51 157.29,391.79 157.40,391.60 157.56,392.58 157.95,397.90 158.12,399.01 158.17,399.07 158.22,399.01 158.33,398.59 159.05,394.15 159.16,393.95 159.27,394.22 159.93,401.45 160.15,402.22 160.54,402.46 160.81,402.92 161.14,404.28 162.79,415.62 164.17,427.52 164.38,428.48 164.77,428.97 165.27,430.62 165.38,430.88 165.48,430.94 165.65,430.57 165.81,429.71 166.58,423.72 167.58,418.00 168.79,407.04 169.06,405.28 169.50,403.52 169.72,402.26 170.60,394.68 170.71,394.42 170.82,394.75 171.26,398.74 171.37,399.15 171.48,399.10 171.81,397.33 172.36,391.87 172.53,391.19 172.69,392.14 173.08,397.66 173.24,398.97 173.35,399.20 173.46,399.05 174.12,396.40 174.23,396.15 174.34,396.26 174.50,397.22 175.11,403.02 175.28,403.70 175.88,405.40 176.21,406.87 178.30,422.41 179.12,430.34 179.29,431.16 179.46,431.47 179.62,431.14 180.06,428.87 180.22,428.47 180.72,427.76 181.00,426.49 182.54,415.40 183.96,402.57 184.19,401.52 184.30,401.39 184.57,401.43 184.68,401.29 184.96,400.28 185.23,398.29 185.72,392.99 185.83,392.73 185.94,393.16 186.38,397.93 186.50,398.54 186.55,398.68 186.66,398.68 186.99,397.28 187.48,392.20 187.65,391.52 187.81,392.45 188.20,397.68 188.42,399.40 188.53,399.72 188.69,399.82 188.92,399.60 189.30,398.70 189.41,398.70 189.52,399.00 190.23,404.69 191.33,409.88 192.66,420.69 193.48,425.99 194.14,432.55 194.31,433.41 194.42,433.24 194.53,432.59 195.13,427.16 195.30,426.43 195.84,424.84 196.18,423.00 197.77,410.11 198.43,405.59 198.93,401.05 199.09,400.05 199.20,399.86 199.31,400.05 199.64,401.40 199.81,401.71 199.92,401.74 200.08,401.59 200.52,400.73 200.63,400.64 200.74,400.77 200.91,401.48 202.83,420.15 203.71,430.48 203.88,431.33 204.04,431.56 204.21,431.26 204.48,430.09 204.54,431.66 204.70,432.57 204.87,432.92 204.97,432.81 205.08,432.47 205.53,430.15 205.69,429.59 205.80,429.45 205.91,429.51 206.02,429.74 206.57,431.70 206.79,431.94 207.01,431.64 207.50,430.34 207.72,430.15 207.94,430.34 208.44,431.28 208.66,431.44 208.88,431.31 209.32,430.70 209.59,430.52 209.81,430.59 210.37,431.11 210.59,431.18 211.30,430.75 211.52,430.70 212.46,431.04 213.39,430.80 214.38,430.97 215.31,430.85 216.25,430.94 217.19,430.87 257.50,430.90" fill="none" stroke="#ff4a6a" stroke-opacity="0.85" stroke-width="1.0" stroke-linejoin="round" clip-path="url(#c3)"/>
<polyline points="37.50,430.90 38.82,422.30 40.25,411.80 41.46,403.71 42.01,400.98 42.67,399.24 42.95,398.92 43.05,398.92 43.22,399.06 43.61,399.86 44.05,401.21 44.48,403.65 46.63,418.52 46.91,419.72 47.29,420.80 47.56,421.38 47.84,421.61 48.01,421.45 48.23,420.81 48.83,417.91 50.15,405.81 51.03,400.61 51.58,398.24 51.80,397.72 51.97,397.55 52.13,397.58 52.30,397.79 53.17,400.09 53.73,401.94 53.89,402.28 54.05,402.34 54.22,402.12 54.44,401.55 55.92,396.59 56.20,395.99 56.42,395.82 56.59,395.89 56.75,396.12 57.08,396.91 57.74,399.25 58.02,400.58 58.45,403.62 60.93,423.30 61.81,428.57 62.25,430.39 62.47,430.89 62.58,430.84 62.69,430.62 62.91,429.79 63.79,425.37 64.39,421.85 65.17,416.59 66.16,408.06 66.87,403.10 67.25,400.92 67.75,399.25 68.47,397.61 68.96,396.95 69.68,396.55 70.06,396.51 70.39,396.70 70.89,397.23 71.22,397.83 71.93,399.99 72.97,404.06 73.69,407.69 74.30,411.34 76.44,427.81 76.94,430.40 77.05,430.77 77.16,430.90 77.38,430.52 77.59,429.64 78.47,425.20 79.08,421.64 79.80,416.77 80.78,408.23 81.78,401.59 82.10,400.12 82.55,398.87 83.09,397.65 83.59,396.97 84.19,396.60 84.69,396.51 85.08,396.73 85.62,397.36 86.29,398.99 87.33,402.77 88.05,406.10 88.76,410.11 91.02,427.29 91.51,430.05 91.78,430.90 92.00,430.58 92.23,429.74 93.66,422.12 94.42,416.94 95.53,407.59 96.24,402.68 96.68,400.40 97.50,398.13 97.89,397.41 98.28,396.94 98.88,396.59 99.38,396.52 99.76,396.76 100.25,397.32 100.86,398.75 101.74,401.82 102.29,404.11 102.90,407.14 103.72,412.20 105.70,427.52 106.20,430.21 106.36,430.80 106.47,430.90 106.69,430.49 106.91,429.58 107.79,425.14 108.40,421.57 109.11,416.68 110.16,407.74 110.81,403.17 111.25,400.72 111.92,398.70 112.63,397.28 112.96,396.91 113.51,396.60 113.95,396.50 114.23,396.61 114.94,397.38 115.44,398.52 116.48,402.16 117.20,405.32 118.29,411.65 120.39,427.74 120.88,430.36 121.10,430.90 121.32,430.55 121.54,429.69 122.42,425.26 123.03,421.71 123.74,416.85 124.78,407.90 125.72,401.65 126.00,400.36 126.27,399.49 126.77,398.23 127.20,397.39 127.65,396.88 128.14,396.61 128.53,396.50 128.91,396.63 129.46,397.19 129.79,397.76 130.12,398.62 131.17,402.28 131.88,405.48 132.70,410.04 135.01,427.59 135.51,430.26 135.68,430.82 135.78,430.89 136.00,430.45 136.22,429.53 137.10,425.08 137.71,421.50 138.43,416.59 139.42,408.06 140.13,403.10 140.57,400.68 141.23,398.67 141.94,397.26 142.28,396.90 142.71,396.64 143.10,396.51 143.43,396.55 143.76,396.80 144.20,397.31 144.69,398.39 145.74,401.99 146.45,405.10 147.56,411.34 149.70,427.81 150.19,430.40 150.31,430.77 150.42,430.90 150.63,430.52 150.85,429.64 151.73,425.20 152.34,421.64 153.06,416.77 154.10,407.82 154.76,403.24 155.20,400.77 155.81,398.87 156.52,397.37 156.85,396.97 157.18,396.74 157.62,396.54 158.00,396.52 158.33,396.73 158.83,397.28 159.33,398.33 160.37,401.91 161.08,404.99 162.24,411.57 164.33,427.66 164.83,430.31 165.05,430.90 165.27,430.58 165.48,429.74 166.37,425.31 166.97,421.78 167.69,416.94 168.73,407.98 169.39,403.38 169.83,400.87 170.38,399.07 171.09,397.50 171.59,396.89 172.14,396.59 172.53,396.50 172.91,396.66 173.41,397.18 173.90,398.13 175.00,401.82 175.71,404.89 176.87,411.42 179.02,427.88 179.46,430.21 179.68,430.89 179.79,430.85 179.90,430.64 180.12,429.84 181.00,425.43 181.60,421.92 182.37,416.68 183.42,407.74 184.08,403.17 184.52,400.72 185.12,398.84 185.78,397.44 186.28,396.87 186.83,396.58 187.21,396.50 187.59,396.69 188.09,397.22 188.58,398.21 189.69,401.95 190.34,404.78 191.50,411.27 193.65,427.74 194.14,430.36 194.36,430.90 194.58,430.55 194.80,429.69 196.23,422.05 197.00,416.84 197.99,408.24 198.81,403.26 199.09,402.06 199.37,401.34 199.69,400.90 199.97,400.67 200.13,400.63 200.30,400.81 200.58,401.65 200.96,403.38 201.34,405.88 203.33,425.68 203.66,428.34 203.88,429.39 204.26,430.64 204.43,430.88 204.92,430.90" fill="none" stroke="#6248ff" stroke-opacity="0.75" stroke-width="1.0" stroke-linejoin="round" clip-path="url(#c3)"/>
<line x1="37.50" y1="372.60" x2="37.50" y2="490.70" stroke="#939393" stroke-width="1.0" />
<line x1="36.00" y1="489.20" x2="257.50" y2="489.20" stroke="#939393" stroke-width="1.0" />
<line x1="35.50" y1="489.20" x2="37.50" y2="489.20" stroke="#939393" stroke-width="1.0" />
<text x="31.00" y="493.40" font-family="'Liberation Sans', Arial, Helvetica, sans-serif" font-size="10" text-anchor="end" fill="#262626" stroke="#262626" stroke-width="0.28" >-2</text>
<line x1="35.50" y1="460.05" x2="37.50" y2="460.05" stroke="#939393" stroke-width="1.0" />
<text x="31.00" y="464.25" font-family="'Liberation Sans', Arial, Helvetica, sans-serif" font-size="10" text-anchor="end" fill="#262626" stroke="#262626" stroke-width="0.28" >-1</text>
<line x1="35.50" y1="430.90" x2="37.50" y2="430.90" stroke="#939393" stroke-width="1.0" />
<text x="31.00" y="435.10" font-family="'Liberation Sans', Arial, Helvetica, sans-serif" font-size="10" text-anchor="end" fill="#262626" stroke="#262626" stroke-width="0.28" >0</text>
<line x1="35.50" y1="401.75" x2="37.50" y2="401.75" stroke="#939393" stroke-width="1.0" />
<text x="31.00" y="405.95" font-family="'Liberation Sans', Arial, Helvetica, sans-serif" font-size="10" text-anchor="end" fill="#262626" stroke="#262626" stroke-width="0.28" >1</text>
<line x1="35.50" y1="372.60" x2="37.50" y2="372.60" stroke="#939393" stroke-width="1.0" />
<text x="31.00" y="376.80" font-family="'Liberation Sans', Arial, Helvetica, sans-serif" font-size="10" text-anchor="end" fill="#262626" stroke="#262626" stroke-width="0.28" >2</text>
<line x1="37.50" y1="489.20" x2="37.50" y2="491.20" stroke="#939393" stroke-width="1.0" />
<text x="37.50" y="505.70" font-family="'Liberation Sans', Arial, Helvetica, sans-serif" font-size="10" text-anchor="middle" fill="#262626" stroke="#262626" stroke-width="0.28" >0</text>
<line x1="81.50" y1="489.20" x2="81.50" y2="491.20" stroke="#939393" stroke-width="1.0" />
<text x="81.50" y="505.70" font-family="'Liberation Sans', Arial, Helvetica, sans-serif" font-size="10" text-anchor="middle" fill="#262626" stroke="#262626" stroke-width="0.28" >2</text>
<line x1="125.50" y1="489.20" x2="125.50" y2="491.20" stroke="#939393" stroke-width="1.0" />
<text x="125.50" y="505.70" font-family="'Liberation Sans', Arial, Helvetica, sans-serif" font-size="10" text-anchor="middle" fill="#262626" stroke="#262626" stroke-width="0.28" >4</text>
<line x1="169.50" y1="489.20" x2="169.50" y2="491.20" stroke="#939393" stroke-width="1.0" />
<text x="169.50" y="505.70" font-family="'Liberation Sans', Arial, Helvetica, sans-serif" font-size="10" text-anchor="middle" fill="#262626" stroke="#262626" stroke-width="0.28" >6</text>
<line x1="213.50" y1="489.20" x2="213.50" y2="491.20" stroke="#939393" stroke-width="1.0" />
<text x="213.50" y="505.70" font-family="'Liberation Sans', Arial, Helvetica, sans-serif" font-size="10" text-anchor="middle" fill="#262626" stroke="#262626" stroke-width="0.28" >8</text>
<line x1="257.50" y1="489.20" x2="257.50" y2="491.20" stroke="#939393" stroke-width="1.0" />
<text x="257.50" y="505.70" font-family="'Liberation Sans', Arial, Helvetica, sans-serif" font-size="10" text-anchor="middle" fill="#262626" stroke="#262626" stroke-width="0.28" >10</text>
<text x="147.50" y="365.00" font-family="'Liberation Serif', 'Times New Roman', serif" font-size="10.5" text-anchor="middle" fill="#262626" stroke="#262626" font-weight="bold" stroke-width="0.12" textLength="54.9" lengthAdjust="spacingAndGlyphs">(e) Bridge 3</text>
<text x="147.00" y="518.70" font-family="'Liberation Serif', 'Times New Roman', serif" font-size="11" text-anchor="middle" fill="#262626" stroke="#262626" stroke-width="0.12" textLength="48.6" lengthAdjust="spacingAndGlyphs">Time - [ s ]</text>
<text transform="translate(13.90,430.90) rotate(-90)" x="0" y="0" font-family="'Liberation Serif', 'Times New Roman', serif" font-size="11" text-anchor="middle" fill="#262626" stroke="#262626" stroke-width="0.12" textLength="103.6" lengthAdjust="spacingAndGlyphs">Displacement - [ mm ]</text>
<rect x="43.80" y="468.30" width="129.80" height="15.30" fill="#ffffff" stroke="#9a9a9a" stroke-width="1"/>
<line x1="46.40" y1="475.95" x2="68.50" y2="475.95" stroke="#ff4a6a" stroke-width="1.0" stroke-opacity="0.85"/>
<text x="71.00" y="479.35" font-family="'Liberation Sans', Arial, Helvetica, sans-serif" font-size="9.4" text-anchor="start" fill="#262626" stroke="#262626" stroke-width="0.15" textLength="36.4" lengthAdjust="spacingAndGlyphs">Dynamic</text>
<line x1="112.50" y1="475.95" x2="135.40" y2="475.95" stroke="#6248ff" stroke-width="1.0" stroke-opacity="0.75"/>
<text x="136.70" y="479.35" font-family="'Liberation Sans', Arial, Helvetica, sans-serif" font-size="9.4" text-anchor="start" fill="#262626" stroke="#262626" stroke-width="0.15" textLength="33.6" lengthAdjust="spacingAndGlyphs">Q-Static</text>
<line x1="81.50" y1="549.20" x2="81.50" y2="665.80" stroke="#f0f0f0" stroke-width="1.0" />
<line x1="125.50" y1="549.20" x2="125.50" y2="665.80" stroke="#f0f0f0" stroke-width="1.0" />
<line x1="169.50" y1="549.20" x2="169.50" y2="665.80" stroke="#f0f0f0" stroke-width="1.0" />
<line x1="213.50" y1="549.20" x2="213.50" y2="665.80" stroke="#f0f0f0" stroke-width="1.0" />
<line x1="257.50" y1="549.20" x2="257.50" y2="665.80" stroke="#f0f0f0" stroke-width="1.0" />
<line x1="37.50" y1="646.37" x2="257.50" y2="646.37" stroke="#f0f0f0" stroke-width="1.0" />
<line x1="37.50" y1="626.93" x2="257.50" y2="626.93" stroke="#f0f0f0" stroke-width="1.0" />
<line x1="37.50" y1="607.50" x2="257.50" y2="607.50" stroke="#f0f0f0" stroke-width="1.0" />
<line x1="37.50" y1="588.07" x2="257.50" y2="588.07" stroke="#f0f0f0" stroke-width="1.0" />
<line x1="37.50" y1="568.63" x2="257.50" y2="568.63" stroke="#f0f0f0" stroke-width="1.0" />
<line x1="37.50" y1="549.20" x2="257.50" y2="549.20" stroke="#f0f0f0" stroke-width="1.0" />
<clipPath id="c4"><rect x="37.50" y="548.20" width="220.00" height="118.10"/></clipPath>
<polyline points="37.50,626.79 37.94,626.00 38.55,625.70 38.71,625.53 39.09,624.57 39.87,621.53 40.69,618.73 41.73,612.60 42.73,609.32 43.72,604.23 43.99,603.32 44.70,601.63 45.70,597.91 45.91,597.50 46.41,597.05 46.69,596.60 47.40,594.27 47.67,593.59 47.89,593.32 48.39,593.03 48.61,592.69 49.60,589.66 49.88,589.36 50.37,589.42 50.65,589.21 51.53,586.93 51.63,586.84 51.80,586.94 52.35,588.28 52.52,588.47 52.62,588.43 52.84,587.89 53.34,585.73 53.51,585.34 53.62,585.29 53.78,585.53 54.22,586.90 54.33,587.04 54.44,587.01 54.66,586.34 55.21,582.87 55.48,581.79 55.59,581.64 55.70,581.62 56.15,582.11 56.26,582.10 56.37,581.98 56.59,581.37 57.08,579.20 57.35,578.35 57.58,578.07 58.07,578.07 58.29,577.93 58.95,576.66 59.23,576.43 59.39,576.54 59.55,576.86 60.33,579.10 60.55,579.42 61.04,579.86 61.37,580.54 61.76,581.96 62.47,585.67 64.06,591.95 64.39,592.76 64.94,593.42 65.17,593.83 65.88,596.04 66.16,596.57 66.43,596.64 66.93,596.20 67.14,596.11 67.86,596.39 68.03,596.27 68.19,596.01 69.02,593.60 69.89,591.46 71.00,586.27 71.88,583.72 72.75,580.38 73.08,579.79 73.25,579.70 73.86,579.66 74.52,578.78 74.73,578.64 74.90,578.73 75.06,578.99 75.83,581.07 76.44,581.80 76.77,582.59 77.76,587.45 78.69,590.10 79.47,593.75 79.74,594.71 79.96,595.05 80.45,595.14 80.68,595.29 81.44,596.86 81.72,597.10 82.00,596.85 82.71,595.44 82.93,595.29 83.42,595.20 83.70,594.80 84.69,590.50 85.68,587.60 86.67,582.76 86.94,582.09 87.60,581.15 88.32,579.15 88.48,578.86 88.65,578.74 88.87,578.82 89.53,579.56 90.14,579.54 90.30,579.62 90.63,580.19 91.51,583.37 92.39,585.89 93.49,591.07 94.31,593.18 95.20,595.83 95.36,596.12 95.58,596.26 96.13,596.06 96.35,596.10 96.90,596.68 97.12,596.77 97.28,596.66 97.45,596.39 98.16,594.44 98.83,593.53 99.10,592.88 99.38,591.80 100.15,587.81 101.08,585.15 102.07,580.81 102.34,580.36 102.84,580.23 103.06,580.08 103.83,578.62 104.00,578.47 104.16,578.51 104.38,578.84 105.04,580.46 105.26,580.73 105.75,580.96 106.03,581.53 107.08,586.45 107.73,588.12 108.01,589.05 108.73,592.76 109.05,593.99 109.33,594.45 109.72,594.60 109.94,594.84 110.65,596.59 110.81,596.87 110.98,596.99 111.25,596.82 111.92,595.85 112.14,595.78 112.52,595.82 112.74,595.70 113.07,595.08 113.90,591.92 114.78,589.36 115.88,584.18 116.75,582.02 117.58,579.55 117.91,579.12 118.08,579.12 118.68,579.42 119.28,579.08 119.50,579.08 119.84,579.58 120.60,581.91 121.48,584.02 122.59,589.19 123.47,591.77 124.34,595.13 124.56,595.56 124.73,595.73 125.28,595.73 125.50,595.83 126.16,596.87 126.38,597.02 126.55,596.93 126.71,596.68 127.48,594.83 127.70,594.63 128.08,594.47 128.36,593.96 128.63,592.93 129.46,588.79 130.12,587.14 130.40,586.19 131.33,581.66 131.66,580.98 132.10,580.80 132.32,580.55 132.98,578.94 133.25,578.51 133.42,578.50 133.58,578.66 134.30,580.00 134.52,580.17 135.01,580.30 135.29,580.71 136.28,584.98 137.27,587.86 138.26,592.74 138.53,593.42 139.25,594.47 139.96,596.41 140.13,596.65 140.30,596.73 140.46,596.66 141.06,596.11 141.29,596.11 141.83,596.31 142.17,595.93 143.05,593.30 143.87,591.23 144.97,586.06 145.91,583.34 146.73,580.29 147.12,579.65 147.83,579.61 148.49,578.81 148.77,578.70 149.09,579.17 149.75,581.06 150.42,581.98 150.75,582.79 151.73,587.66 152.67,590.33 153.66,594.70 153.94,595.15 154.48,595.25 154.70,595.43 155.42,596.88 155.69,597.10 155.97,596.83 156.69,595.37 156.91,595.20 157.40,595.10 157.68,594.68 158.67,590.27 159.66,587.40 160.65,582.55 160.92,581.90 161.58,581.05 162.24,579.22 162.57,578.70 162.84,578.78 163.50,579.60 163.72,579.67 164.11,579.64 164.28,579.72 164.60,580.28 165.48,583.58 166.37,586.11 167.52,591.49 168.34,593.49 169.17,595.91 169.33,596.20 169.56,596.34 170.10,596.10 170.33,596.12 171.04,596.71 171.26,596.60 171.43,596.33 172.14,594.35 172.80,593.34 173.08,592.67 174.12,587.61 175.06,584.92 176.05,580.69 176.32,580.26 176.87,580.12 177.04,580.01 177.81,578.62 177.97,578.49 178.13,578.54 178.35,578.88 179.02,580.55 179.23,580.83 179.73,581.11 180.00,581.70 181.00,586.46 181.93,589.05 182.70,592.95 182.97,594.01 183.25,594.54 183.69,594.70 183.91,594.92 184.62,596.63 184.79,596.91 184.96,597.02 185.23,596.83 185.89,595.78 186.11,595.67 186.60,595.64 186.83,595.40 186.99,595.05 187.87,591.64 188.81,588.93 189.91,583.85 190.79,581.84 191.56,579.45 191.78,579.07 192.00,578.97 192.66,579.46 193.31,579.71 193.65,580.29 194.53,583.74 194.80,584.49 195.35,585.61 195.57,586.28 196.62,591.16 196.89,591.85 197.55,592.93 198.32,595.63 198.59,596.31 198.81,596.58 199.25,596.83 199.47,597.10 200.25,599.20 200.52,599.66 200.74,599.74 201.23,599.52 201.46,599.61 201.68,599.92 202.17,600.96 202.44,601.28 202.67,601.28 203.10,600.99 203.33,601.01 203.60,601.39 204.09,602.61 204.37,603.08 204.59,603.20 205.08,603.14 205.31,603.31 205.58,603.87 206.30,605.93 207.12,607.09 207.45,608.10 208.22,611.45 208.94,613.18 209.21,614.08 209.98,618.08 210.31,619.42 210.53,619.96 211.19,621.12 212.18,624.65 212.40,625.02 212.90,625.36 213.12,625.63 213.77,627.10 214.00,627.39 214.32,627.35 214.88,626.67 215.15,626.52 215.37,626.63 215.87,627.18 216.08,627.29 216.31,627.22 216.80,626.75 217.07,626.63 217.35,626.73 217.84,627.14 218.06,627.20 218.28,627.13 218.83,626.75 219.06,626.71 219.99,627.13 220.98,626.76 221.97,627.08 222.91,626.81 223.90,627.04 224.88,626.84 225.82,627.01 226.81,626.86 227.80,626.99 228.79,626.88 229.73,626.98 230.72,626.89 231.71,626.97 232.64,626.90 233.63,626.96 257.50,626.93" fill="none" stroke="#ff4a6a" stroke-opacity="0.85" stroke-width="1.0" stroke-linejoin="round" clip-path="url(#c4)"/>
<polyline points="37.50,626.93 37.99,626.41 38.55,625.45 39.26,623.80 39.76,622.41 40.36,619.90 41.73,613.08 43.77,604.50 44.87,600.63 46.14,597.34 49.16,591.06 50.15,589.25 50.70,588.49 51.20,588.03 51.74,587.67 53.28,586.90 54.11,586.19 54.60,585.26 55.81,582.18 57.41,578.95 58.18,577.76 58.51,577.48 58.84,577.38 59.12,577.44 59.39,577.61 59.99,578.31 60.66,579.47 61.53,581.40 61.98,583.06 63.02,588.64 63.46,590.40 64.72,594.04 65.55,596.01 66.32,597.22 66.65,597.49 66.98,597.59 67.36,597.45 67.81,597.02 68.41,596.11 68.96,595.06 69.51,593.26 71.82,583.71 72.31,581.94 72.65,581.09 73.42,579.76 73.91,579.15 74.30,578.94 74.73,579.08 75.18,579.57 76.00,580.99 76.33,581.78 76.88,583.72 79.19,593.27 79.74,595.07 80.23,596.01 80.90,596.99 81.33,597.43 81.78,597.59 82.16,597.45 82.60,597.01 83.26,596.00 83.75,595.03 84.31,593.22 86.61,583.67 87.11,581.90 87.44,581.07 88.21,579.74 88.71,579.14 89.09,578.94 89.53,579.09 89.97,579.58 90.79,581.01 91.12,581.81 91.67,583.77 93.98,593.31 94.53,595.10 95.09,596.12 95.69,597.01 96.13,597.44 96.57,597.59 96.96,597.44 97.40,596.99 98.05,595.98 98.55,595.01 99.10,593.17 101.35,583.85 101.91,581.87 102.23,581.05 102.95,579.81 103.45,579.18 103.83,578.95 104.05,578.95 104.27,579.05 104.71,579.52 105.59,581.03 105.92,581.84 106.47,583.81 108.73,593.14 109.33,595.12 109.88,596.13 110.48,597.02 110.92,597.45 111.31,597.59 111.75,597.43 112.25,596.90 113.12,595.48 113.46,594.67 113.95,592.91 116.26,583.37 116.92,581.26 117.64,579.96 118.19,579.22 118.68,578.94 119.12,579.10 119.50,579.54 120.00,580.34 120.44,581.16 120.77,582.05 123.52,593.18 124.07,595.01 124.51,595.88 125.23,596.97 125.67,597.41 126.10,597.59 126.49,597.46 126.93,597.03 127.53,596.13 128.08,595.09 128.63,593.30 130.95,583.76 131.50,581.80 131.83,581.01 132.65,579.61 133.09,579.11 133.53,578.93 133.92,579.11 134.41,579.71 135.18,581.07 135.51,581.91 136.06,583.90 138.31,593.23 138.87,595.04 139.85,596.76 140.30,597.28 140.68,597.55 141.12,597.54 141.62,597.15 142.22,596.29 142.88,595.06 143.43,593.26 145.74,583.71 146.23,581.94 146.56,581.09 147.39,579.67 147.83,579.15 148.27,578.93 148.66,579.08 149.09,579.57 149.92,580.99 150.19,581.62 150.75,583.50 153.44,594.44 153.71,595.20 154.05,595.82 154.65,596.78 155.15,597.34 155.42,597.53 155.69,597.59 156.19,597.36 156.80,596.62 157.62,595.17 158.22,593.22 160.54,583.67 161.03,581.90 161.36,581.07 162.19,579.66 162.62,579.14 163.06,578.93 163.45,579.09 163.89,579.58 164.71,581.01 165.05,581.81 165.59,583.77 167.91,593.31 168.45,595.10 169.12,596.29 169.78,597.20 170.27,597.55 170.49,597.59 170.77,597.51 171.21,597.13 171.70,596.43 172.31,595.39 172.63,594.54 175.38,583.41 175.94,581.56 176.32,580.75 177.04,579.56 177.47,579.09 177.86,578.93 178.25,579.09 178.69,579.60 179.51,581.03 179.84,581.84 180.39,583.81 182.65,593.14 183.25,595.12 183.85,596.22 184.46,597.09 184.96,597.51 185.40,597.57 185.78,597.33 186.22,596.79 186.99,595.49 187.27,594.88 187.81,593.05 190.07,583.90 190.62,581.95 190.95,581.11 191.78,579.57 192.21,579.05 192.60,578.95 192.93,579.24 193.31,579.97 194.63,583.60 196.94,591.78 197.38,593.01 198.48,595.60 199.53,597.69 200.46,599.11 201.23,599.91 203.05,601.25 203.98,602.16 205.19,603.64 206.24,605.33 207.12,607.51 208.44,611.67 210.25,618.76 210.97,621.05 212.29,624.43 213.06,626.02 213.39,626.50 213.72,626.81 214.00,626.93 214.49,626.93" fill="none" stroke="#6248ff" stroke-opacity="0.75" stroke-width="1.0" stroke-linejoin="round" clip-path="url(#c4)"/>
<line x1="37.50" y1="549.20" x2="37.50" y2="667.30" stroke="#939393" stroke-width="1.0" />
<line x1="36.00" y1="665.80" x2="257.50" y2="665.80" stroke="#939393" stroke-width="1.0" />
<line x1="35.50" y1="665.80" x2="37.50" y2="665.80" stroke="#939393" stroke-width="1.0" />
<text x="31.00" y="670.00" font-family="'Liberation Sans', Arial, Helvetica, sans-serif" font-size="10" text-anchor="end" fill="#262626" stroke="#262626" stroke-width="0.28" >-2</text>
<line x1="35.50" y1="646.37" x2="37.50" y2="646.37" stroke="#939393" stroke-width="1.0" />
<text x="31.00" y="650.57" font-family="'Liberation Sans', Arial, Helvetica, sans-serif" font-size="10" text-anchor="end" fill="#262626" stroke="#262626" stroke-width="0.28" >-1</text>
<line x1="35.50" y1="626.93" x2="37.50" y2="626.93" stroke="#939393" stroke-width="1.0" />
<text x="31.00" y="631.13" font-family="'Liberation Sans', Arial, Helvetica, sans-serif" font-size="10" text-anchor="end" fill="#262626" stroke="#262626" stroke-width="0.28" >0</text>
<line x1="35.50" y1="607.50" x2="37.50" y2="607.50" stroke="#939393" stroke-width="1.0" />
<text x="31.00" y="611.70" font-family="'Liberation Sans', Arial, Helvetica, sans-serif" font-size="10" text-anchor="end" fill="#262626" stroke="#262626" stroke-width="0.28" >1</text>
<line x1="35.50" y1="588.07" x2="37.50" y2="588.07" stroke="#939393" stroke-width="1.0" />
<text x="31.00" y="592.27" font-family="'Liberation Sans', Arial, Helvetica, sans-serif" font-size="10" text-anchor="end" fill="#262626" stroke="#262626" stroke-width="0.28" >2</text>
<line x1="35.50" y1="568.63" x2="37.50" y2="568.63" stroke="#939393" stroke-width="1.0" />
<text x="31.00" y="572.83" font-family="'Liberation Sans', Arial, Helvetica, sans-serif" font-size="10" text-anchor="end" fill="#262626" stroke="#262626" stroke-width="0.28" >3</text>
<line x1="35.50" y1="549.20" x2="37.50" y2="549.20" stroke="#939393" stroke-width="1.0" />
<text x="31.00" y="553.40" font-family="'Liberation Sans', Arial, Helvetica, sans-serif" font-size="10" text-anchor="end" fill="#262626" stroke="#262626" stroke-width="0.28" >4</text>
<line x1="37.50" y1="665.80" x2="37.50" y2="667.80" stroke="#939393" stroke-width="1.0" />
<text x="37.50" y="682.30" font-family="'Liberation Sans', Arial, Helvetica, sans-serif" font-size="10" text-anchor="middle" fill="#262626" stroke="#262626" stroke-width="0.28" >0</text>
<line x1="81.50" y1="665.80" x2="81.50" y2="667.80" stroke="#939393" stroke-width="1.0" />
<text x="81.50" y="682.30" font-family="'Liberation Sans', Arial, Helvetica, sans-serif" font-size="10" text-anchor="middle" fill="#262626" stroke="#262626" stroke-width="0.28" >2</text>
<line x1="125.50" y1="665.80" x2="125.50" y2="667.80" stroke="#939393" stroke-width="1.0" />
<text x="125.50" y="682.30" font-family="'Liberation Sans', Arial, Helvetica, sans-serif" font-size="10" text-anchor="middle" fill="#262626" stroke="#262626" stroke-width="0.28" >4</text>
<line x1="169.50" y1="665.80" x2="169.50" y2="667.80" stroke="#939393" stroke-width="1.0" />
<text x="169.50" y="682.30" font-family="'Liberation Sans', Arial, Helvetica, sans-serif" font-size="10" text-anchor="middle" fill="#262626" stroke="#262626" stroke-width="0.28" >6</text>
<line x1="213.50" y1="665.80" x2="213.50" y2="667.80" stroke="#939393" stroke-width="1.0" />
<text x="213.50" y="682.30" font-family="'Liberation Sans', Arial, Helvetica, sans-serif" font-size="10" text-anchor="middle" fill="#262626" stroke="#262626" stroke-width="0.28" >8</text>
<line x1="257.50" y1="665.80" x2="257.50" y2="667.80" stroke="#939393" stroke-width="1.0" />
<text x="257.50" y="682.30" font-family="'Liberation Sans', Arial, Helvetica, sans-serif" font-size="10" text-anchor="middle" fill="#262626" stroke="#262626" stroke-width="0.28" >10</text>
<text x="147.50" y="541.60" font-family="'Liberation Serif', 'Times New Roman', serif" font-size="10.5" text-anchor="middle" fill="#262626" stroke="#262626" font-weight="bold" stroke-width="0.12" textLength="54.9" lengthAdjust="spacingAndGlyphs">(g) Bridge 4</text>
<text x="147.00" y="695.30" font-family="'Liberation Serif', 'Times New Roman', serif" font-size="11" text-anchor="middle" fill="#262626" stroke="#262626" stroke-width="0.12" textLength="48.6" lengthAdjust="spacingAndGlyphs">Time - [ s ]</text>
<text transform="translate(13.90,607.50) rotate(-90)" x="0" y="0" font-family="'Liberation Serif', 'Times New Roman', serif" font-size="11" text-anchor="middle" fill="#262626" stroke="#262626" stroke-width="0.12" textLength="103.6" lengthAdjust="spacingAndGlyphs">Displacement - [ mm ]</text>
<rect x="43.80" y="644.90" width="129.80" height="15.30" fill="#ffffff" stroke="#9a9a9a" stroke-width="1"/>
<line x1="46.40" y1="652.55" x2="68.50" y2="652.55" stroke="#ff4a6a" stroke-width="1.0" stroke-opacity="0.85"/>
<text x="71.00" y="655.95" font-family="'Liberation Sans', Arial, Helvetica, sans-serif" font-size="9.4" text-anchor="start" fill="#262626" stroke="#262626" stroke-width="0.15" textLength="36.4" lengthAdjust="spacingAndGlyphs">Dynamic</text>
<line x1="112.50" y1="652.55" x2="135.40" y2="652.55" stroke="#6248ff" stroke-width="1.0" stroke-opacity="0.75"/>
<text x="136.70" y="655.95" font-family="'Liberation Sans', Arial, Helvetica, sans-serif" font-size="9.4" text-anchor="start" fill="#262626" stroke="#262626" stroke-width="0.15" textLength="33.6" lengthAdjust="spacingAndGlyphs">Q-Static</text>
<line x1="81.50" y1="725.80" x2="81.50" y2="842.40" stroke="#f0f0f0" stroke-width="1.0" />
<line x1="125.50" y1="725.80" x2="125.50" y2="842.40" stroke="#f0f0f0" stroke-width="1.0" />
<line x1="169.50" y1="725.80" x2="169.50" y2="842.40" stroke="#f0f0f0" stroke-width="1.0" />
<line x1="213.50" y1="725.80" x2="213.50" y2="842.40" stroke="#f0f0f0" stroke-width="1.0" />
<line x1="257.50" y1="725.80" x2="257.50" y2="842.40" stroke="#f0f0f0" stroke-width="1.0" />
<line x1="37.50" y1="813.25" x2="257.50" y2="813.25" stroke="#f0f0f0" stroke-width="1.0" />
<line x1="37.50" y1="784.10" x2="257.50" y2="784.10" stroke="#f0f0f0" stroke-width="1.0" />
<line x1="37.50" y1="754.95" x2="257.50" y2="754.95" stroke="#f0f0f0" stroke-width="1.0" />
<line x1="37.50" y1="725.80" x2="257.50" y2="725.80" stroke="#f0f0f0" stroke-width="1.0" />
<clipPath id="c5"><rect x="37.50" y="724.80" width="220.00" height="118.10"/></clipPath>
<polyline points="37.50,813.25 40.41,780.49 40.63,778.67 40.74,778.24 41.02,777.73 41.24,776.43 41.57,772.92 42.01,766.47 42.17,765.33 42.34,766.43 42.89,775.94 43.00,776.52 43.27,776.91 43.44,777.37 43.72,779.01 44.54,788.43 45.20,794.66 45.75,798.96 46.63,804.14 46.85,805.03 47.07,805.38 47.23,805.21 47.45,804.32 48.11,800.27 48.34,798.42 49.98,777.01 50.15,776.21 50.20,776.16 50.48,776.30 50.65,775.79 51.53,769.35 51.58,769.30 51.63,769.40 51.74,770.12 52.19,776.17 52.41,777.87 52.57,778.23 52.73,778.20 52.95,777.92 53.34,777.05 53.45,776.97 53.51,777.01 53.67,777.50 54.05,779.76 54.22,780.21 54.33,780.16 54.44,779.84 54.72,778.18 55.38,770.71 55.54,769.64 55.59,769.62 55.70,770.10 56.03,773.64 56.20,774.60 56.26,774.66 56.37,774.47 56.97,771.82 57.08,771.72 57.14,771.83 57.35,773.51 58.07,783.43 59.01,792.00 60.16,803.83 60.44,805.73 61.15,809.22 61.81,813.25 62.03,814.10 62.20,814.30 62.30,814.21 62.47,813.76 63.02,811.05 63.52,809.36 63.95,806.02 65.17,791.02 66.27,775.62 66.81,766.08 66.87,765.99 66.98,766.69 67.36,772.53 67.58,774.28 67.64,774.39 67.75,774.34 67.97,773.52 68.47,769.04 68.63,768.31 68.74,768.66 68.85,769.67 69.29,775.41 69.40,776.10 69.45,776.28 69.56,776.36 69.78,775.66 69.95,774.44 70.44,766.85 70.56,765.67 70.61,765.41 70.67,765.42 70.83,766.96 71.16,772.56 71.38,774.44 71.55,774.72 71.77,774.21 72.26,770.88 72.37,771.10 72.43,771.52 73.31,785.55 75.28,806.94 75.61,809.25 76.33,811.09 76.94,814.04 77.16,814.66 77.32,814.41 77.48,813.54 78.53,806.06 78.86,803.08 79.74,792.14 80.45,780.55 80.68,778.49 81.06,776.37 81.28,774.51 81.89,765.58 82.00,765.26 82.10,765.89 82.55,772.45 82.82,774.54 82.93,774.83 83.04,774.90 83.20,774.48 83.65,770.78 83.75,770.18 83.86,770.08 84.03,770.86 84.47,774.66 84.58,775.12 84.75,775.28 84.97,774.69 85.13,773.37 85.57,766.30 85.73,765.18 85.90,766.22 86.29,772.41 86.50,774.56 86.84,775.74 86.94,775.88 87.16,775.94 87.28,776.14 87.44,777.15 88.48,791.71 90.30,809.61 90.52,810.98 90.74,811.79 90.91,812.01 91.29,811.92 91.40,812.00 91.90,813.39 92.00,813.57 92.11,813.57 92.39,812.63 92.78,809.78 94.21,794.83 94.65,788.64 95.41,774.50 95.58,773.89 96.24,774.68 96.41,774.20 96.57,772.52 96.96,766.06 97.12,765.09 97.28,766.39 97.78,773.91 98.00,775.54 98.22,776.15 98.33,775.93 98.44,775.28 98.88,770.24 99.04,769.29 99.10,769.27 99.21,769.65 99.76,773.77 99.98,774.46 100.09,774.47 100.15,774.33 100.36,772.42 100.70,767.27 100.80,766.34 100.86,766.21 100.91,766.30 101.08,767.78 101.63,775.71 102.46,782.81 103.17,791.70 104.16,802.33 105.42,811.91 105.65,813.06 105.86,813.51 105.98,813.48 106.14,813.26 107.19,811.17 107.46,810.03 107.68,808.24 109.17,790.71 109.77,781.39 110.32,770.65 110.54,768.79 110.71,769.38 111.20,773.79 111.36,774.59 111.48,774.69 111.70,773.07 112.08,767.10 112.19,766.53 112.25,766.59 112.91,774.51 113.12,776.11 113.23,776.57 113.34,776.72 113.51,776.08 113.62,774.97 114.00,768.69 114.17,767.16 114.23,767.04 114.28,767.11 114.39,767.73 114.94,773.27 115.10,774.45 115.27,774.90 115.49,773.51 115.88,768.35 115.98,767.93 116.04,768.12 116.98,782.29 119.06,805.22 119.45,807.98 120.00,810.14 120.66,813.86 120.83,814.40 120.94,814.53 121.10,814.31 121.21,813.87 121.76,810.43 122.25,808.26 122.64,805.17 123.69,792.15 124.40,781.64 124.90,776.91 125.34,767.99 125.50,766.12 125.56,766.05 125.61,766.18 125.72,766.89 126.27,772.72 126.55,774.88 126.66,775.08 126.77,774.62 127.15,769.97 127.26,769.17 127.32,769.01 127.37,769.03 127.53,769.93 128.03,774.35 128.31,775.89 128.47,776.30 128.58,776.02 128.69,775.10 129.13,767.13 129.24,765.87 129.35,765.54 129.51,766.58 130.06,773.10 130.34,775.45 130.45,775.64 130.56,775.19 130.89,772.30 130.95,772.13 131.00,772.15 131.11,772.80 132.21,789.11 134.13,808.94 134.47,810.45 134.96,811.20 135.18,811.72 135.68,814.01 135.84,814.44 136.00,814.24 136.22,813.06 137.49,802.64 138.37,791.99 139.20,778.17 139.42,776.35 139.53,776.12 139.80,776.19 139.96,775.55 140.46,767.44 140.57,766.18 140.68,765.72 140.79,765.99 140.95,767.29 141.56,774.54 141.78,776.07 141.83,776.07 141.94,775.59 142.33,771.56 142.55,770.54 142.66,770.62 142.83,771.17 143.16,772.79 143.54,775.32 143.65,775.60 143.70,775.51 143.87,774.02 144.25,767.15 144.37,766.14 144.42,765.95 144.53,766.14 145.46,776.39 145.63,777.25 145.69,777.33 145.85,777.33 145.96,777.51 146.12,778.55 147.17,792.47 148.77,808.01 149.20,811.34 149.43,812.30 149.59,812.59 149.70,812.60 149.97,812.32 150.14,812.27 150.63,812.92 150.80,812.92 151.08,812.12 151.35,810.42 153.06,791.78 154.10,773.38 154.32,772.02 154.43,771.78 154.48,771.80 154.65,772.59 154.93,775.17 155.04,775.53 155.09,775.40 155.25,773.75 155.64,767.04 155.81,766.00 155.92,766.29 156.03,767.12 156.74,775.90 156.85,776.76 156.96,777.03 157.12,776.23 157.56,770.75 157.79,769.35 157.90,769.21 158.00,769.32 158.22,770.19 158.67,774.61 158.83,775.44 159.00,774.41 159.44,767.87 159.55,767.32 159.60,767.31 159.71,767.69 160.04,770.81 160.59,779.19 161.14,784.02 162.84,803.27 163.18,805.97 164.22,812.65 164.38,813.45 164.60,813.91 164.77,813.87 164.94,813.52 165.48,811.49 165.98,810.12 166.37,807.57 167.74,791.00 168.45,780.71 169.00,770.53 169.28,767.94 169.33,767.84 169.39,767.89 169.56,768.85 170.00,774.30 170.16,775.52 170.21,775.52 170.33,774.82 170.77,768.52 170.88,767.96 170.93,767.93 170.98,768.04 171.31,770.33 171.87,776.22 171.97,776.99 172.08,777.20 172.31,775.58 172.75,768.73 172.96,767.21 173.08,767.09 173.19,767.32 173.35,768.35 173.79,774.47 173.96,775.74 174.01,775.75 174.12,775.13 174.56,769.70 174.62,769.46 174.67,769.42 174.72,769.58 175.00,772.45 175.77,784.50 177.81,806.53 178.13,808.75 178.74,810.59 179.40,814.01 179.56,814.57 179.68,814.68 179.90,814.06 180.44,810.13 180.94,807.41 181.38,803.67 182.31,791.89 183.03,780.76 183.58,777.00 184.02,768.90 184.19,767.24 184.30,766.78 184.35,766.69 184.46,766.73 184.68,767.74 185.29,775.66 185.34,775.82 185.45,775.50 185.83,771.37 185.94,770.66 186.11,770.37 186.33,770.85 186.60,772.05 187.05,775.89 187.21,776.57 187.32,776.14 187.43,774.93 187.87,767.70 187.98,766.77 188.15,766.36 188.31,766.74 188.47,767.93 188.92,774.61 189.08,776.15 189.13,776.28 189.25,775.96 189.58,773.83 189.63,773.80 189.69,773.92 189.80,774.60 190.95,790.63 192.82,809.45 193.15,811.08 193.37,811.48 193.70,811.61 193.87,811.80 194.53,814.03 194.63,813.99 194.75,813.69 194.96,812.45 196.01,802.96 197.00,792.12 197.99,779.19 198.21,777.95 198.32,777.91 198.54,778.11 198.65,777.75 199.31,769.29 199.53,767.70 199.69,767.29 199.86,767.86 199.97,768.96 200.46,776.24 200.58,776.42 200.91,775.38 201.02,775.66 201.12,776.45 202.28,793.37 203.44,807.58 203.98,812.71 204.26,814.33 204.37,814.56 204.48,814.48 204.70,817.44 204.87,818.30 204.97,818.03 205.08,817.17 205.53,811.39 205.69,809.99 205.80,809.64 205.91,809.77 206.02,810.35 206.57,815.26 206.68,815.73 206.79,815.85 207.01,815.11 207.50,811.86 207.62,811.50 207.72,811.38 207.94,811.86 208.44,814.20 208.66,814.59 208.88,814.28 209.32,812.75 209.59,812.29 209.81,812.48 210.37,813.79 210.59,813.94 210.81,813.74 211.30,812.88 211.52,812.75 211.74,812.88 212.23,813.50 212.46,813.61 212.68,813.52 213.17,813.08 213.39,813.00 213.61,813.05 214.16,813.39 214.38,813.43 215.31,813.12 216.25,813.34 217.19,813.18 218.12,813.30 219.11,813.22 220.04,813.28 257.50,813.25" fill="none" stroke="#ff4a6a" stroke-opacity="0.85" stroke-width="1.0" stroke-linejoin="round" clip-path="url(#c5)"/>
<polyline points="37.50,813.25 39.59,789.81 40.80,777.97 41.35,773.98 41.79,772.39 41.95,772.00 42.12,771.86 42.34,772.08 42.62,772.83 43.05,774.59 43.27,775.95 44.43,787.43 45.48,796.94 45.97,800.76 46.25,802.26 46.69,803.98 46.96,804.75 47.18,804.97 47.34,804.75 47.56,803.91 48.17,800.00 49.33,785.65 50.20,776.64 50.70,773.31 50.92,772.89 51.09,772.98 51.25,773.24 53.28,778.76 53.67,779.49 54.00,779.72 54.16,779.56 54.39,778.96 55.98,772.61 56.26,771.98 56.42,771.86 56.53,771.96 56.91,773.63 57.74,779.80 59.72,799.46 60.33,804.59 60.98,808.90 61.43,811.12 61.64,811.87 61.98,812.62 62.25,813.09 62.47,813.25 62.58,813.20 62.74,812.86 63.08,811.50 63.52,809.09 63.84,806.47 65.06,792.70 66.10,777.22 66.65,773.06 66.81,772.40 67.03,772.15 67.64,771.87 67.81,771.86 67.97,771.99 68.25,772.51 68.96,774.37 69.29,774.75 69.45,774.68 69.68,774.35 70.44,772.36 70.78,771.88 71.11,771.94 71.44,772.26 71.93,773.06 72.09,773.52 72.37,775.10 72.70,778.05 73.86,791.70 75.40,807.18 75.72,809.28 76.22,811.43 76.77,812.82 76.99,813.16 77.16,813.25 77.32,813.05 77.48,812.57 78.03,809.88 78.58,805.64 79.74,792.27 80.68,778.09 80.90,775.91 81.33,772.89 81.50,772.33 81.66,772.17 82.16,771.90 82.55,771.91 82.88,772.46 83.59,774.32 83.81,774.67 83.97,774.75 84.14,774.65 84.31,774.39 85.08,772.41 85.35,771.94 85.52,771.86 85.79,771.96 86.34,772.63 86.61,773.12 86.78,773.66 87.22,776.76 88.54,792.05 90.08,807.43 90.41,809.45 90.91,811.55 91.40,812.78 91.62,813.14 91.78,813.25 91.90,813.19 92.06,812.83 92.45,811.16 92.83,809.02 93.22,805.85 94.37,792.56 95.36,777.70 95.69,774.81 96.02,772.74 96.13,772.38 96.35,772.14 96.79,771.90 97.17,771.89 97.50,772.41 98.28,774.39 98.50,774.70 98.66,774.75 98.99,774.32 99.92,772.03 100.20,771.86 100.59,772.09 101.03,772.69 101.35,773.36 101.79,776.07 103.17,791.81 104.33,803.85 104.77,807.67 105.09,809.61 105.59,811.66 106.14,812.94 106.30,813.17 106.47,813.25 106.64,813.03 106.80,812.53 107.35,809.82 107.90,805.53 109.05,792.12 109.99,777.96 110.27,775.40 110.65,772.84 110.81,772.31 110.98,772.16 111.48,771.89 111.75,771.86 111.86,771.92 112.19,772.48 112.91,774.35 113.12,774.68 113.29,774.75 113.46,774.64 113.67,774.25 114.55,772.07 114.78,771.86 115.00,771.90 115.44,772.32 115.93,773.14 116.15,773.98 116.37,775.44 116.81,779.72 117.85,792.16 118.96,803.64 119.45,807.91 119.84,810.03 120.28,811.76 120.77,812.90 120.94,813.15 121.10,813.25 121.27,813.08 121.43,812.61 121.98,809.94 122.59,805.21 123.69,792.41 124.46,780.45 124.78,776.46 125.34,772.70 125.50,772.27 125.89,771.99 126.38,771.86 126.60,772.02 127.53,774.30 127.86,774.74 128.03,774.71 128.25,774.41 129.07,772.31 129.41,771.87 129.74,771.95 130.06,772.29 130.56,773.10 130.72,773.61 131.00,775.27 131.28,777.72 132.43,791.34 133.97,806.92 134.30,809.11 134.80,811.32 135.18,812.42 135.51,813.05 135.73,813.25 135.84,813.20 136.00,812.86 136.33,811.50 136.78,809.09 137.10,806.47 138.31,792.70 139.31,777.83 139.80,773.71 140.13,772.30 140.73,771.91 141.01,771.86 141.18,771.93 141.50,772.51 142.22,774.37 142.55,774.75 142.71,774.68 142.94,774.35 143.70,772.36 144.04,771.88 144.37,771.94 144.69,772.26 145.19,773.06 145.35,773.52 145.63,775.10 145.96,778.05 147.12,791.70 148.66,807.18 148.98,809.28 149.48,811.43 150.03,812.82 150.25,813.16 150.42,813.25 150.58,813.05 150.75,812.57 151.30,809.88 151.84,805.64 153.00,792.27 153.94,778.09 154.16,775.91 154.59,772.89 154.76,772.33 154.93,772.17 155.42,771.90 155.81,771.91 156.13,772.46 156.85,774.32 157.07,774.67 157.23,774.75 157.40,774.65 157.62,774.28 158.28,772.54 158.56,772.00 158.83,771.86 159.21,772.11 159.71,772.82 159.98,773.44 160.43,776.26 161.80,792.05 162.90,803.53 163.40,807.83 163.78,809.98 164.22,811.73 164.71,812.88 165.05,813.25 165.16,813.19 165.32,812.83 165.70,811.16 166.09,809.02 166.47,805.85 167.63,792.56 168.62,777.70 169.22,773.00 169.44,772.28 170.00,771.92 170.44,771.89 170.77,772.41 171.54,774.39 171.75,774.70 171.92,774.75 172.25,774.32 173.19,772.03 173.41,771.86 173.73,771.99 174.12,772.43 174.56,773.20 174.78,774.10 175.00,775.61 175.44,779.97 176.43,791.81 177.58,803.85 178.08,808.06 178.46,810.13 178.91,811.83 179.40,812.94 179.56,813.17 179.73,813.25 179.90,813.03 180.06,812.53 180.61,809.82 181.16,805.53 182.31,792.12 183.25,777.96 183.53,775.40 183.91,772.84 184.08,772.31 184.24,772.16 184.73,771.89 185.01,771.86 185.12,771.92 185.45,772.48 186.17,774.35 186.38,774.68 186.55,774.75 186.71,774.64 186.94,774.25 187.81,772.07 188.04,771.86 188.31,771.93 188.75,772.40 189.25,773.29 189.69,775.88 191.12,792.16 192.21,803.64 192.71,807.91 193.09,810.03 193.54,811.76 194.03,812.90 194.19,813.15 194.36,813.25 194.47,813.17 194.63,812.79 194.91,811.66 195.35,809.29 195.62,807.13 197.88,781.48 198.32,777.33 198.65,775.50 199.20,773.50 199.64,772.45 199.97,771.95 200.13,771.86 200.35,772.43 200.74,774.75 201.18,778.64 203.21,805.42 203.60,809.70 203.82,811.18 204.26,812.94 204.43,813.23 204.92,813.25" fill="none" stroke="#6248ff" stroke-opacity="0.75" stroke-width="1.0" stroke-linejoin="round" clip-path="url(#c5)"/>
<line x1="37.50" y1="725.80" x2="37.50" y2="843.90" stroke="#939393" stroke-width="1.0" />
<line x1="36.00" y1="842.40" x2="257.50" y2="842.40" stroke="#939393" stroke-width="1.0" />
<line x1="35.50" y1="842.40" x2="37.50" y2="842.40" stroke="#939393" stroke-width="1.0" />
<text x="31.00" y="846.60" font-family="'Liberation Sans', Arial, Helvetica, sans-serif" font-size="10" text-anchor="end" fill="#262626" stroke="#262626" stroke-width="0.28" >-2</text>
<line x1="35.50" y1="813.25" x2="37.50" y2="813.25" stroke="#939393" stroke-width="1.0" />
<text x="31.00" y="817.45" font-family="'Liberation Sans', Arial, Helvetica, sans-serif" font-size="10" text-anchor="end" fill="#262626" stroke="#262626" stroke-width="0.28" >0</text>
<line x1="35.50" y1="784.10" x2="37.50" y2="784.10" stroke="#939393" stroke-width="1.0" />
<text x="31.00" y="788.30" font-family="'Liberation Sans', Arial, Helvetica, sans-serif" font-size="10" text-anchor="end" fill="#262626" stroke="#262626" stroke-width="0.28" >2</text>
<line x1="35.50" y1="754.95" x2="37.50" y2="754.95" stroke="#939393" stroke-width="1.0" />
<text x="31.00" y="759.15" font-family="'Liberation Sans', Arial, Helvetica, sans-serif" font-size="10" text-anchor="end" fill="#262626" stroke="#262626" stroke-width="0.28" >4</text>
<line x1="35.50" y1="725.80" x2="37.50" y2="725.80" stroke="#939393" stroke-width="1.0" />
<text x="31.00" y="730.00" font-family="'Liberation Sans', Arial, Helvetica, sans-serif" font-size="10" text-anchor="end" fill="#262626" stroke="#262626" stroke-width="0.28" >6</text>
<line x1="37.50" y1="842.40" x2="37.50" y2="844.40" stroke="#939393" stroke-width="1.0" />
<text x="37.50" y="858.90" font-family="'Liberation Sans', Arial, Helvetica, sans-serif" font-size="10" text-anchor="middle" fill="#262626" stroke="#262626" stroke-width="0.28" >0</text>
<line x1="81.50" y1="842.40" x2="81.50" y2="844.40" stroke="#939393" stroke-width="1.0" />
<text x="81.50" y="858.90" font-family="'Liberation Sans', Arial, Helvetica, sans-serif" font-size="10" text-anchor="middle" fill="#262626" stroke="#262626" stroke-width="0.28" >2</text>
<line x1="125.50" y1="842.40" x2="125.50" y2="844.40" stroke="#939393" stroke-width="1.0" />
<text x="125.50" y="858.90" font-family="'Liberation Sans', Arial, Helvetica, sans-serif" font-size="10" text-anchor="middle" fill="#262626" stroke="#262626" stroke-width="0.28" >4</text>
<line x1="169.50" y1="842.40" x2="169.50" y2="844.40" stroke="#939393" stroke-width="1.0" />
<text x="169.50" y="858.90" font-family="'Liberation Sans', Arial, Helvetica, sans-serif" font-size="10" text-anchor="middle" fill="#262626" stroke="#262626" stroke-width="0.28" >6</text>
<line x1="213.50" y1="842.40" x2="213.50" y2="844.40" stroke="#939393" stroke-width="1.0" />
<text x="213.50" y="858.90" font-family="'Liberation Sans', Arial, Helvetica, sans-serif" font-size="10" text-anchor="middle" fill="#262626" stroke="#262626" stroke-width="0.28" >8</text>
<line x1="257.50" y1="842.40" x2="257.50" y2="844.40" stroke="#939393" stroke-width="1.0" />
<text x="257.50" y="858.90" font-family="'Liberation Sans', Arial, Helvetica, sans-serif" font-size="10" text-anchor="middle" fill="#262626" stroke="#262626" stroke-width="0.28" >10</text>
<text x="147.50" y="718.20" font-family="'Liberation Serif', 'Times New Roman', serif" font-size="10.5" text-anchor="middle" fill="#262626" stroke="#262626" font-weight="bold" stroke-width="0.12" textLength="54.9" lengthAdjust="spacingAndGlyphs">(i) Bridge 5</text>
<text x="147.00" y="871.90" font-family="'Liberation Serif', 'Times New Roman', serif" font-size="11" text-anchor="middle" fill="#262626" stroke="#262626" stroke-width="0.12" textLength="48.6" lengthAdjust="spacingAndGlyphs">Time - [ s ]</text>
<text transform="translate(13.90,784.10) rotate(-90)" x="0" y="0" font-family="'Liberation Serif', 'Times New Roman', serif" font-size="11" text-anchor="middle" fill="#262626" stroke="#262626" stroke-width="0.12" textLength="103.6" lengthAdjust="spacingAndGlyphs">Displacement - [ mm ]</text>
<rect x="43.80" y="821.50" width="129.80" height="15.30" fill="#ffffff" stroke="#9a9a9a" stroke-width="1"/>
<line x1="46.40" y1="829.15" x2="68.50" y2="829.15" stroke="#ff4a6a" stroke-width="1.0" stroke-opacity="0.85"/>
<text x="71.00" y="832.55" font-family="'Liberation Sans', Arial, Helvetica, sans-serif" font-size="9.4" text-anchor="start" fill="#262626" stroke="#262626" stroke-width="0.15" textLength="36.4" lengthAdjust="spacingAndGlyphs">Dynamic</text>
<line x1="112.50" y1="829.15" x2="135.40" y2="829.15" stroke="#6248ff" stroke-width="1.0" stroke-opacity="0.75"/>
<text x="136.70" y="832.55" font-family="'Liberation Sans', Arial, Helvetica, sans-serif" font-size="9.4" text-anchor="start" fill="#262626" stroke="#262626" stroke-width="0.15" textLength="33.6" lengthAdjust="spacingAndGlyphs">Q-Static</text>
<line x1="81.50" y1="902.40" x2="81.50" y2="1019.00" stroke="#f0f0f0" stroke-width="1.0" />
<line x1="125.50" y1="902.40" x2="125.50" y2="1019.00" stroke="#f0f0f0" stroke-width="1.0" />
<line x1="169.50" y1="902.40" x2="169.50" y2="1019.00" stroke="#f0f0f0" stroke-width="1.0" />
<line x1="213.50" y1="902.40" x2="213.50" y2="1019.00" stroke="#f0f0f0" stroke-width="1.0" />
<line x1="257.50" y1="902.40" x2="257.50" y2="1019.00" stroke="#f0f0f0" stroke-width="1.0" />
<line x1="37.50" y1="999.57" x2="257.50" y2="999.57" stroke="#f0f0f0" stroke-width="1.0" />
<line x1="37.50" y1="980.13" x2="257.50" y2="980.13" stroke="#f0f0f0" stroke-width="1.0" />
<line x1="37.50" y1="960.70" x2="257.50" y2="960.70" stroke="#f0f0f0" stroke-width="1.0" />
<line x1="37.50" y1="941.27" x2="257.50" y2="941.27" stroke="#f0f0f0" stroke-width="1.0" />
<line x1="37.50" y1="921.83" x2="257.50" y2="921.83" stroke="#f0f0f0" stroke-width="1.0" />
<line x1="37.50" y1="902.40" x2="257.50" y2="902.40" stroke="#f0f0f0" stroke-width="1.0" />
<clipPath id="c6"><rect x="37.50" y="901.40" width="220.00" height="118.10"/></clipPath>
<polyline points="37.50,999.37 37.99,995.66 38.93,990.99 39.81,984.26 40.80,979.82 41.79,972.91 42.78,968.93 43.72,962.93 43.99,961.89 44.48,960.71 44.70,959.95 45.70,954.66 45.91,954.03 46.41,953.26 46.69,952.54 47.67,948.11 47.89,947.67 48.39,947.23 48.67,946.64 49.33,943.83 49.60,942.97 49.71,942.80 49.88,942.73 50.37,943.12 50.53,943.11 50.65,942.98 50.87,942.41 51.41,940.16 51.63,939.74 51.74,939.75 51.85,939.91 52.35,941.34 52.46,941.47 52.57,941.40 52.84,940.25 53.40,936.20 53.62,935.51 53.73,935.52 53.84,935.75 54.28,937.24 54.39,937.33 54.49,937.19 54.72,936.19 55.16,932.85 55.38,931.71 55.48,931.44 55.59,931.38 56.15,932.44 56.31,932.46 56.42,932.27 57.30,928.02 57.52,927.49 58.02,926.85 58.23,926.16 58.95,921.80 59.12,921.11 59.28,920.84 59.45,921.08 59.61,921.81 60.44,927.95 61.21,931.42 61.70,934.62 61.76,934.28 62.20,936.90 62.47,937.88 63.02,938.93 63.24,939.61 64.23,945.26 65.11,947.95 65.99,952.49 66.21,953.10 66.43,953.28 67.14,952.71 67.31,952.75 67.69,953.06 67.86,953.08 68.03,952.92 68.19,952.54 69.02,949.15 69.89,946.10 71.00,938.76 71.88,935.13 72.75,930.40 73.08,929.57 73.25,929.43 73.69,929.46 73.86,929.37 74.52,928.12 74.73,927.94 74.90,928.06 75.06,928.43 75.78,931.21 75.94,931.62 76.44,932.42 76.77,933.53 77.76,940.41 78.69,944.19 79.47,949.35 79.74,950.70 79.96,951.19 80.45,951.33 80.68,951.54 81.44,953.76 81.66,954.08 81.83,954.03 82.71,951.76 82.93,951.54 83.42,951.40 83.70,950.83 83.97,949.45 84.69,944.74 85.68,940.63 86.67,933.77 86.94,932.82 87.66,931.30 88.38,928.50 88.54,928.16 88.71,928.07 88.92,928.26 89.53,929.22 89.70,929.29 90.14,929.21 90.30,929.33 90.63,930.14 91.51,934.63 92.39,938.21 93.54,945.81 94.31,948.55 95.20,952.29 95.36,952.69 95.53,952.89 95.69,952.90 96.13,952.63 96.29,952.66 96.96,953.56 97.17,953.60 97.50,952.91 98.16,950.33 98.83,949.03 99.10,948.11 99.38,946.57 100.15,940.94 101.08,937.15 102.07,931.02 102.34,930.37 102.84,930.18 103.06,929.97 103.78,928.02 103.94,927.74 104.05,927.69 104.22,927.83 104.38,928.22 105.09,930.62 105.31,930.94 105.70,931.15 105.98,931.81 106.25,933.23 107.08,939.00 107.73,941.37 108.01,942.70 108.73,947.93 109.00,949.47 109.28,950.26 109.44,950.44 109.72,950.56 109.94,950.90 110.65,953.37 110.87,953.84 111.03,953.93 111.20,953.78 111.92,952.33 112.14,952.23 112.52,952.28 112.69,952.18 113.07,951.22 113.90,946.76 114.78,943.12 115.88,935.79 116.75,932.71 117.58,929.23 117.75,928.82 117.91,928.62 118.08,928.62 118.52,928.98 118.68,929.03 119.40,928.52 119.61,928.70 119.84,929.27 120.60,932.55 121.43,935.31 122.59,942.88 123.47,946.55 124.34,951.29 124.56,951.91 124.73,952.15 124.90,952.21 125.28,952.16 125.50,952.31 126.16,953.76 126.32,953.96 126.44,953.96 126.71,953.49 127.43,951.02 127.65,950.64 128.08,950.37 128.42,949.41 129.41,942.63 130.34,938.94 131.11,933.46 131.38,931.98 131.66,931.25 132.10,930.98 132.32,930.63 133.03,928.19 133.20,927.83 133.37,927.71 133.64,928.08 134.30,929.85 134.52,930.09 135.01,930.29 135.29,930.87 135.56,932.24 136.28,936.91 137.27,941.01 138.26,947.90 138.53,948.88 139.20,950.22 139.85,952.77 140.19,953.51 140.30,953.56 140.46,953.47 140.90,952.84 141.12,952.68 141.29,952.69 141.67,952.96 141.83,952.97 142.00,952.80 142.17,952.43 143.05,948.72 143.87,945.77 145.03,938.16 145.85,934.83 146.73,930.28 146.95,929.63 147.12,929.37 147.28,929.29 147.67,929.36 147.83,929.30 148.05,929.02 148.49,928.17 148.71,928.00 148.88,928.14 149.04,928.52 149.75,931.35 150.42,932.67 150.75,933.82 151.73,940.70 152.67,944.51 153.66,950.69 153.94,951.32 154.43,951.46 154.65,951.65 155.47,953.89 155.64,954.08 155.81,954.02 156.69,951.65 156.91,951.41 157.40,951.26 157.68,950.65 158.67,944.42 159.66,940.34 160.65,933.48 160.92,932.55 161.58,931.34 162.35,928.41 162.52,928.08 162.68,928.00 162.90,928.21 163.50,929.29 163.72,929.38 164.11,929.35 164.28,929.47 164.66,930.47 165.48,934.92 166.37,938.52 167.52,946.14 168.34,948.99 169.17,952.40 169.33,952.81 169.50,953.00 169.67,953.00 170.05,952.71 170.27,952.69 170.49,952.88 170.88,953.44 171.09,953.54 171.26,953.38 171.43,952.99 172.14,950.21 172.80,948.76 173.08,947.81 174.12,940.65 175.06,936.83 176.05,930.84 176.32,930.23 176.48,930.11 176.87,930.02 177.09,929.77 177.75,928.01 177.92,927.75 178.03,927.71 178.19,927.87 178.35,928.28 179.07,930.75 179.29,931.09 179.56,931.23 179.73,931.43 180.00,932.28 181.00,939.01 181.93,942.70 182.70,948.21 183.03,949.92 183.25,950.46 183.69,950.70 183.91,951.02 184.68,953.58 184.84,953.89 185.01,953.97 185.23,953.71 185.83,952.33 186.06,952.13 186.60,952.10 186.83,951.77 186.99,951.29 187.87,946.45 188.81,942.52 189.91,935.30 190.79,932.43 191.56,929.08 191.78,928.54 191.88,928.43 192.05,928.42 192.71,929.10 193.21,929.11 193.37,929.20 193.70,929.96 194.53,934.21 195.52,937.72 196.67,945.70 196.94,946.65 197.38,947.58 197.60,948.24 198.27,951.42 198.54,952.41 198.76,952.81 199.25,953.08 199.47,953.41 200.25,956.17 200.52,956.79 200.74,956.88 201.18,956.58 201.40,956.63 201.62,956.98 202.17,958.58 202.39,958.98 202.61,959.05 203.10,958.61 203.33,958.63 203.60,959.13 204.09,960.76 204.37,961.35 204.59,961.46 205.08,961.21 205.31,961.37 205.58,962.04 206.30,964.59 206.52,964.93 206.96,965.27 207.18,965.74 207.50,967.19 208.28,971.96 209.05,974.63 209.32,975.93 210.20,981.96 211.19,986.62 212.12,993.03 212.46,994.09 212.90,994.60 213.12,995.07 213.88,998.36 214.22,999.16 214.44,999.23 214.88,998.90 215.21,998.90 215.43,999.15 215.87,999.97 216.08,1000.15 216.31,1000.05 216.80,999.27 217.07,999.06 217.35,999.23 217.84,999.90 218.06,1000.01 218.28,999.90 218.83,999.27 219.06,999.19 219.27,999.29 219.77,999.80 219.99,999.89 220.21,999.83 220.71,999.39 220.98,999.28 221.20,999.35 221.75,999.76 221.97,999.81 222.91,999.36 223.90,999.75 224.88,999.41 225.82,999.70 226.81,999.45 227.80,999.67 228.79,999.48 229.73,999.64 230.72,999.50 231.71,999.62 232.64,999.52 233.63,999.61 234.62,999.53 235.56,999.60 236.54,999.54 257.50,999.57" fill="none" stroke="#ff4a6a" stroke-opacity="0.85" stroke-width="1.0" stroke-linejoin="round" clip-path="url(#c6)"/>
<polyline points="37.50,999.57 40.03,983.62 42.73,968.53 44.48,960.20 45.53,955.97 46.52,952.40 48.34,946.85 49.05,944.97 49.66,943.62 50.42,942.34 51.97,940.60 52.68,939.52 53.28,938.23 54.83,934.45 56.97,929.82 57.69,928.43 58.51,927.28 58.90,926.99 59.28,926.89 59.55,927.03 59.89,927.55 60.60,929.73 62.52,938.78 63.57,943.27 65.55,953.14 65.94,954.61 66.32,955.72 66.65,956.31 66.98,956.52 67.36,956.32 67.81,955.66 68.41,954.28 68.96,952.71 69.51,949.98 71.82,935.56 72.31,932.88 72.65,931.60 73.42,929.59 73.91,928.67 74.30,928.35 74.52,928.38 74.73,928.56 75.18,929.30 76.00,931.44 76.33,932.64 76.88,935.58 79.19,950.00 79.74,952.71 80.23,954.13 80.90,955.62 81.33,956.28 81.56,956.46 81.78,956.52 82.16,956.30 82.60,955.64 83.26,954.12 83.75,952.66 84.31,949.92 86.61,935.50 87.11,932.83 87.44,931.57 88.21,929.56 88.71,928.65 89.09,928.35 89.31,928.38 89.53,928.57 89.97,929.33 90.79,931.47 91.12,932.69 91.67,935.64 93.98,950.06 94.53,952.76 95.09,954.30 95.69,955.64 96.13,956.29 96.35,956.47 96.57,956.52 96.96,956.29 97.40,955.62 98.05,954.09 98.55,952.62 99.10,949.85 101.35,935.77 101.91,932.78 102.23,931.54 102.95,929.66 103.45,928.71 103.83,928.36 104.05,928.36 104.27,928.53 104.71,929.23 105.59,931.51 105.92,932.74 106.47,935.71 108.73,949.80 109.33,952.80 109.88,954.32 110.48,955.66 110.92,956.30 111.31,956.52 111.53,956.47 111.75,956.28 112.25,955.49 113.12,953.33 113.46,952.11 113.95,949.46 116.26,935.04 116.92,931.85 117.64,929.90 118.19,928.78 118.46,928.45 118.68,928.35 118.90,928.40 119.12,928.60 119.50,929.26 120.00,930.47 120.44,931.71 120.77,933.05 123.52,949.87 124.07,952.63 124.51,953.93 125.23,955.58 125.67,956.26 125.89,956.45 126.10,956.52 126.49,956.33 126.93,955.68 127.53,954.31 128.08,952.75 128.69,949.72 130.95,935.63 131.44,932.93 131.77,931.64 132.49,929.74 132.98,928.76 133.37,928.38 133.58,928.35 133.81,928.49 134.25,929.16 135.12,931.41 135.45,932.59 136.00,935.51 138.31,949.93 138.87,952.67 139.36,954.10 140.02,955.60 140.46,956.27 140.68,956.46 140.90,956.52 141.12,956.45 141.34,956.26 141.78,955.55 142.66,953.42 142.94,952.49 143.48,949.66 146.18,933.14 146.51,931.78 146.95,930.55 147.44,929.34 147.88,928.60 148.10,928.40 148.33,928.35 148.55,928.45 148.82,928.79 149.37,929.95 150.08,931.98 150.69,934.92 153.00,949.34 153.55,952.27 153.88,953.42 154.76,955.52 155.25,956.28 155.47,956.46 155.69,956.52 155.92,956.45 156.13,956.24 156.63,955.42 157.45,953.39 157.79,952.21 158.33,949.26 160.59,935.17 161.19,932.13 161.85,930.23 162.41,929.00 162.84,928.43 163.06,928.34 163.29,928.42 163.67,928.90 164.11,929.84 164.77,931.64 165.10,932.94 165.59,935.64 167.85,949.74 168.40,952.54 168.73,953.59 169.56,955.54 170.05,956.29 170.27,956.47 170.49,956.52 170.71,956.44 170.93,956.23 171.43,955.40 172.25,953.36 172.58,952.16 173.13,949.19 175.38,935.10 175.99,932.09 176.59,930.34 177.15,929.08 177.58,928.46 177.81,928.35 177.97,928.36 178.35,928.74 178.85,929.73 179.56,931.67 179.90,932.99 182.65,949.80 183.19,952.59 183.58,953.76 184.35,955.56 184.79,956.25 185.01,956.44 185.23,956.52 185.62,956.34 186.06,955.70 186.66,954.33 187.21,952.78 187.76,950.10 190.07,935.83 190.62,932.88 190.95,931.62 191.78,929.30 192.21,928.52 192.44,928.36 192.60,928.36 192.98,928.79 193.37,929.69 194.63,934.01 195.24,936.85 196.50,944.17 197.06,946.92 197.83,949.61 198.87,952.62 199.75,954.69 200.58,956.21 201.40,957.30 203.27,959.23 204.87,961.37 206.02,963.33 206.90,965.44 207.84,969.16 209.59,977.93 211.58,989.53 212.40,993.52 213.44,996.68 214.27,998.65 214.60,999.17 214.88,999.46 215.09,999.56 215.59,999.57" fill="none" stroke="#6248ff" stroke-opacity="0.75" stroke-width="1.0" stroke-linejoin="round" clip-path="url(#c6)"/>
<line x1="37.50" y1="902.40" x2="37.50" y2="1020.50" stroke="#939393" stroke-width="1.0" />
<line x1="36.00" y1="1019.00" x2="257.50" y2="1019.00" stroke="#939393" stroke-width="1.0" />
<line x1="35.50" y1="1019.00" x2="37.50" y2="1019.00" stroke="#939393" stroke-width="1.0" />
<text x="31.00" y="1023.20" font-family="'Liberation Sans', Arial, Helvetica, sans-serif" font-size="10" text-anchor="end" fill="#262626" stroke="#262626" stroke-width="0.28" >-2</text>
<line x1="35.50" y1="999.57" x2="37.50" y2="999.57" stroke="#939393" stroke-width="1.0" />
<text x="31.00" y="1003.77" font-family="'Liberation Sans', Arial, Helvetica, sans-serif" font-size="10" text-anchor="end" fill="#262626" stroke="#262626" stroke-width="0.28" >0</text>
<line x1="35.50" y1="980.13" x2="37.50" y2="980.13" stroke="#939393" stroke-width="1.0" />
<text x="31.00" y="984.33" font-family="'Liberation Sans', Arial, Helvetica, sans-serif" font-size="10" text-anchor="end" fill="#262626" stroke="#262626" stroke-width="0.28" >2</text>
<line x1="35.50" y1="960.70" x2="37.50" y2="960.70" stroke="#939393" stroke-width="1.0" />
<text x="31.00" y="964.90" font-family="'Liberation Sans', Arial, Helvetica, sans-serif" font-size="10" text-anchor="end" fill="#262626" stroke="#262626" stroke-width="0.28" >4</text>
<line x1="35.50" y1="941.27" x2="37.50" y2="941.27" stroke="#939393" stroke-width="1.0" />
<text x="31.00" y="945.47" font-family="'Liberation Sans', Arial, Helvetica, sans-serif" font-size="10" text-anchor="end" fill="#262626" stroke="#262626" stroke-width="0.28" >6</text>
<line x1="35.50" y1="921.83" x2="37.50" y2="921.83" stroke="#939393" stroke-width="1.0" />
<text x="31.00" y="926.03" font-family="'Liberation Sans', Arial, Helvetica, sans-serif" font-size="10" text-anchor="end" fill="#262626" stroke="#262626" stroke-width="0.28" >8</text>
<line x1="35.50" y1="902.40" x2="37.50" y2="902.40" stroke="#939393" stroke-width="1.0" />
<text x="31.00" y="906.60" font-family="'Liberation Sans', Arial, Helvetica, sans-serif" font-size="10" text-anchor="end" fill="#262626" stroke="#262626" stroke-width="0.28" >10</text>
<line x1="37.50" y1="1019.00" x2="37.50" y2="1021.00" stroke="#939393" stroke-width="1.0" />
<text x="37.50" y="1035.50" font-family="'Liberation Sans', Arial, Helvetica, sans-serif" font-size="10" text-anchor="middle" fill="#262626" stroke="#262626" stroke-width="0.28" >0</text>
<line x1="81.50" y1="1019.00" x2="81.50" y2="1021.00" stroke="#939393" stroke-width="1.0" />
<text x="81.50" y="1035.50" font-family="'Liberation Sans', Arial, Helvetica, sans-serif" font-size="10" text-anchor="middle" fill="#262626" stroke="#262626" stroke-width="0.28" >2</text>
<line x1="125.50" y1="1019.00" x2="125.50" y2="1021.00" stroke="#939393" stroke-width="1.0" />
<text x="125.50" y="1035.50" font-family="'Liberation Sans', Arial, Helvetica, sans-serif" font-size="10" text-anchor="middle" fill="#262626" stroke="#262626" stroke-width="0.28" >4</text>
<line x1="169.50" y1="1019.00" x2="169.50" y2="1021.00" stroke="#939393" stroke-width="1.0" />
<text x="169.50" y="1035.50" font-family="'Liberation Sans', Arial, Helvetica, sans-serif" font-size="10" text-anchor="middle" fill="#262626" stroke="#262626" stroke-width="0.28" >6</text>
<line x1="213.50" y1="1019.00" x2="213.50" y2="1021.00" stroke="#939393" stroke-width="1.0" />
<text x="213.50" y="1035.50" font-family="'Liberation Sans', Arial, Helvetica, sans-serif" font-size="10" text-anchor="middle" fill="#262626" stroke="#262626" stroke-width="0.28" >8</text>
<line x1="257.50" y1="1019.00" x2="257.50" y2="1021.00" stroke="#939393" stroke-width="1.0" />
<text x="257.50" y="1035.50" font-family="'Liberation Sans', Arial, Helvetica, sans-serif" font-size="10" text-anchor="middle" fill="#262626" stroke="#262626" stroke-width="0.28" >10</text>
<text x="147.50" y="894.80" font-family="'Liberation Serif', 'Times New Roman', serif" font-size="10.5" text-anchor="middle" fill="#262626" stroke="#262626" font-weight="bold" stroke-width="0.12" textLength="54.9" lengthAdjust="spacingAndGlyphs">(k) Bridge 6</text>
<text x="147.00" y="1048.50" font-family="'Liberation Serif', 'Times New Roman', serif" font-size="11" text-anchor="middle" fill="#262626" stroke="#262626" stroke-width="0.12" textLength="48.6" lengthAdjust="spacingAndGlyphs">Time - [ s ]</text>
<text transform="translate(11.90,960.70) rotate(-90)" x="0" y="0" font-family="'Liberation Serif', 'Times New Roman', serif" font-size="11" text-anchor="middle" fill="#262626" stroke="#262626" stroke-width="0.12" textLength="103.6" lengthAdjust="spacingAndGlyphs">Displacement - [ mm ]</text>
<rect x="43.80" y="998.10" width="129.80" height="15.30" fill="#ffffff" stroke="#9a9a9a" stroke-width="1"/>
<line x1="46.40" y1="1005.75" x2="68.50" y2="1005.75" stroke="#ff4a6a" stroke-width="1.0" stroke-opacity="0.85"/>
<text x="71.00" y="1009.15" font-family="'Liberation Sans', Arial, Helvetica, sans-serif" font-size="9.4" text-anchor="start" fill="#262626" stroke="#262626" stroke-width="0.15" textLength="36.4" lengthAdjust="spacingAndGlyphs">Dynamic</text>
<line x1="112.50" y1="1005.75" x2="135.40" y2="1005.75" stroke="#6248ff" stroke-width="1.0" stroke-opacity="0.75"/>
<text x="136.70" y="1009.15" font-family="'Liberation Sans', Arial, Helvetica, sans-serif" font-size="9.4" text-anchor="start" fill="#262626" stroke="#262626" stroke-width="0.15" textLength="33.6" lengthAdjust="spacingAndGlyphs">Q-Static</text>
<line x1="360.75" y1="19.30" x2="360.75" y2="133.20" stroke="#f6f6f6" stroke-width="1.0" />
<line x1="383.70" y1="19.30" x2="383.70" y2="133.20" stroke="#f6f6f6" stroke-width="1.0" />
<line x1="399.99" y1="19.30" x2="399.99" y2="133.20" stroke="#f6f6f6" stroke-width="1.0" />
<line x1="412.63" y1="19.30" x2="412.63" y2="133.20" stroke="#f6f6f6" stroke-width="1.0" />
<line x1="422.95" y1="19.30" x2="422.95" y2="133.20" stroke="#f6f6f6" stroke-width="1.0" />
<line x1="431.68" y1="19.30" x2="431.68" y2="133.20" stroke="#f6f6f6" stroke-width="1.0" />
<line x1="439.24" y1="19.30" x2="439.24" y2="133.20" stroke="#f6f6f6" stroke-width="1.0" />
<line x1="445.91" y1="19.30" x2="445.91" y2="133.20" stroke="#f6f6f6" stroke-width="1.0" />
<line x1="491.12" y1="19.30" x2="491.12" y2="133.20" stroke="#f6f6f6" stroke-width="1.0" />
<line x1="514.08" y1="19.30" x2="514.08" y2="133.20" stroke="#f6f6f6" stroke-width="1.0" />
<line x1="530.37" y1="19.30" x2="530.37" y2="133.20" stroke="#f6f6f6" stroke-width="1.0" />
<line x1="543.00" y1="19.30" x2="543.00" y2="133.20" stroke="#f6f6f6" stroke-width="1.0" />
<line x1="543.00" y1="19.30" x2="543.00" y2="133.20" stroke="#f6f6f6" stroke-width="1.0" />
<line x1="451.87" y1="19.30" x2="451.87" y2="133.20" stroke="#f0f0f0" stroke-width="1.0" />
<line x1="321.50" y1="95.23" x2="543.00" y2="95.23" stroke="#f0f0f0" stroke-width="1.0" />
<line x1="321.50" y1="57.27" x2="543.00" y2="57.27" stroke="#f0f0f0" stroke-width="1.0" />
<line x1="321.50" y1="19.30" x2="543.00" y2="19.30" stroke="#f0f0f0" stroke-width="1.0" />
<line x1="344.46" y1="19.30" x2="344.46" y2="133.20" stroke="#a6a6a6" stroke-width="1.0" />
<line x1="383.70" y1="19.30" x2="383.70" y2="133.20" stroke="#a6a6a6" stroke-width="1.0" />
<line x1="406.66" y1="19.30" x2="406.66" y2="133.20" stroke="#a6a6a6" stroke-width="1.0" />
<line x1="422.95" y1="19.30" x2="422.95" y2="133.20" stroke="#a6a6a6" stroke-width="1.0" />
<line x1="435.58" y1="19.30" x2="435.58" y2="133.20" stroke="#a6a6a6" stroke-width="1.0" />
<line x1="445.91" y1="19.30" x2="445.91" y2="133.20" stroke="#a6a6a6" stroke-width="1.0" />
<line x1="454.64" y1="19.30" x2="454.64" y2="133.20" stroke="#a6a6a6" stroke-width="1.0" />
<line x1="462.20" y1="19.30" x2="462.20" y2="133.20" stroke="#a6a6a6" stroke-width="1.0" />
<line x1="468.87" y1="19.30" x2="468.87" y2="133.20" stroke="#a6a6a6" stroke-width="1.0" />
<line x1="474.83" y1="19.30" x2="474.83" y2="133.20" stroke="#a6a6a6" stroke-width="1.0" />
<clipPath id="c7"><rect x="321.50" y="18.30" width="221.50" height="115.40"/></clipPath>
<polyline points="313.65,123.71 322.38,127.32 329.94,132.44 336.61,122.19 342.58,49.03 347.97,83.84 352.90,109.66 357.43,117.25 361.63,121.43 365.53,122.95 369.19,123.33 372.62,123.33 375.86,122.95 378.92,121.81 381.82,116.49 384.59,119.53 387.22,131.68 389.74,131.30 392.15,131.30 394.46,131.49 396.68,131.49 398.82,131.30 400.87,130.92 402.86,130.16 404.78,127.51 406.64,131.30 408.44,132.35 410.18,132.59 411.87,132.34 413.51,132.25 415.10,132.38 419.64,132.23 421.07,131.68 422.47,132.32 425.16,132.06 426.47,132.34 427.74,132.22 428.98,132.22 430.20,132.57 431.39,132.50 432.56,132.60 433.70,132.06 434.83,132.13 435.92,132.56 437.00,132.37 438.06,132.37 439.10,132.71 440.12,132.12 441.12,132.56 442.11,132.62 443.08,132.20 444.03,132.43 444.96,131.30 445.88,132.57 446.79,132.46 447.68,132.58 448.56,132.61 451.11,132.16 451.94,132.58 452.76,119.91 453.56,130.92 454.35,132.21 455.13,132.35 455.90,132.35 456.66,132.61 457.41,132.72 458.15,132.25 458.88,132.50 459.60,132.55 460.32,132.06 461.02,132.63 462.40,132.52 463.08,132.07 463.75,132.45 464.41,132.58 465.07,132.18 466.35,132.52 466.98,130.54 467.61,132.30 468.23,132.49 468.84,132.15 469.45,132.36 470.64,132.61 471.23,132.59 471.81,132.12 472.38,132.30 472.95,128.26 473.51,132.43 474.62,132.53 475.17,132.12 475.71,132.17 476.25,132.36 476.78,132.23 477.31,132.32 477.83,132.29 478.35,132.62 478.86,132.41 479.37,132.45 480.86,132.27 481.35,132.34 481.84,132.18 482.32,132.14 482.80,132.36 483.27,132.13 483.74,132.48 485.13,132.37 485.58,132.07 486.04,132.30 486.48,132.24 486.93,132.64 487.37,132.38 487.81,132.48 488.24,132.13 488.67,132.59 489.10,132.48 489.94,132.42 490.36,132.21 490.77,132.31 491.19,132.61 492.00,132.39 492.80,132.35 493.20,132.54 493.60,132.36 493.99,132.46 494.38,132.14 494.76,132.35 495.15,132.27 495.91,132.45 496.28,132.47 497.03,132.28 497.40,132.71 498.13,132.35 498.49,132.01 498.85,132.27 499.21,132.16 499.56,132.38 499.91,132.08 500.27,132.11 500.61,132.65 500.96,132.50 501.30,132.67 501.65,132.28 501.99,132.41 502.32,132.35 502.66,132.42 503.33,132.28 503.99,132.55 504.31,132.33 504.64,132.25 504.96,132.50 505.28,132.30 505.92,132.56 506.23,132.41 506.54,132.50 506.86,132.32 507.17,132.43 507.48,132.29 507.78,132.47 508.09,132.22 508.39,132.46 508.99,132.64 509.29,132.01 509.59,132.50 510.18,132.18 510.47,132.68 510.76,132.37 511.34,132.23 511.63,132.24 511.91,132.07 512.20,132.34 512.48,132.46 513.04,132.51 513.32,132.08 513.87,132.49 514.14,132.09 514.42,132.13 514.69,132.31 514.96,132.16 515.23,132.25 515.50,132.51 515.76,132.32 516.03,132.53 516.29,132.27 516.55,132.16 516.82,132.44 517.08,132.18 517.33,132.21 517.59,132.13 517.85,132.37 518.11,132.19 518.36,132.31 518.61,132.68 518.87,132.17 519.12,132.41 519.37,132.26 519.62,132.27 519.86,132.48 520.11,132.19 520.36,132.33 520.84,132.19 521.09,132.68 521.33,132.50 521.57,132.18 522.28,132.63 522.52,132.53 522.75,132.17 522.99,132.58 523.22,132.15 523.46,132.30 523.69,132.62 523.92,132.26 524.15,132.58 524.38,132.41 524.83,132.30 525.06,132.60 525.51,132.09 525.73,132.45 525.95,132.28 526.17,132.42 526.39,132.01 526.61,132.65 526.83,132.64 527.27,132.18 527.49,132.39 527.70,132.48 528.13,132.24 528.34,132.24 528.56,132.44 528.77,132.45 528.98,132.61 529.40,132.19 529.81,132.60 530.02,132.27 530.23,132.13 530.43,132.32 530.64,132.09 530.84,132.31 531.04,132.36 531.25,132.28 531.45,132.47 531.65,132.26 531.85,132.38 532.25,132.29 532.45,132.65 532.65,132.08 533.04,132.33 533.43,132.31 533.62,132.58 533.82,132.60 534.01,132.53 534.20,132.32 534.58,132.40 534.96,132.35 535.15,131.99 535.34,132.66 535.53,132.52 535.72,132.63 535.90,132.27 536.28,132.60 536.46,132.62 536.64,132.42 536.83,132.42 537.19,132.63 537.74,132.44 538.27,132.03 538.45,132.15 538.63,132.48 538.98,132.57 539.16,132.43 539.34,132.62 539.51,132.16 539.69,132.63 539.86,132.67 540.03,132.31 540.21,132.24 540.38,132.39 540.55,132.28 540.89,132.63 541.06,132.56 541.23,132.30 541.57,132.02 541.74,132.37 541.91,132.14 542.24,132.71 542.41,132.28 542.57,132.56 542.90,132.66 543.07,132.60" fill="none" stroke="#ff4a6a" stroke-opacity="0.85" stroke-width="1.0" stroke-linejoin="round" clip-path="url(#c7)"/>
<polyline points="313.65,123.71 322.38,127.32 329.94,132.44 336.61,122.19 342.58,49.03 347.97,83.84 352.90,109.66 357.43,117.25 361.63,121.43 365.53,122.95 369.19,123.33 372.62,123.33 375.86,122.95 378.92,121.81 381.82,116.49 384.59,119.53 387.22,131.68 389.74,131.30 392.15,131.30 394.46,131.49 396.68,131.49 398.82,131.30 400.87,130.92 402.86,130.16 404.78,127.88 406.64,131.30 408.44,132.31 410.18,132.42 413.51,132.29 415.10,132.47 416.66,132.53 418.17,132.23 419.64,132.29 421.07,131.87 422.47,132.22 423.83,132.34 425.16,132.15 426.47,132.50 427.74,132.34 430.20,132.43 431.39,132.32 432.56,132.49 433.70,132.23 434.83,132.20 435.92,132.53 437.00,132.38 439.10,132.55 440.12,132.18 442.11,132.53 443.08,132.29 444.03,132.50 444.96,132.18 445.88,132.49 446.79,132.58 449.42,132.38 450.28,132.18 452.76,132.58 453.56,132.52 454.35,132.14 455.13,132.38 455.90,132.28 456.66,132.57 457.41,132.58 458.15,132.21 459.60,132.45 462.40,132.58 463.08,132.21 464.41,132.53 465.07,132.26 465.71,132.50 466.35,132.56 466.98,132.32 467.61,132.18 468.23,132.58 468.84,132.23 469.45,132.51 470.64,132.58 471.81,132.26 472.38,132.37 472.95,132.20 473.51,132.49 474.62,132.47 475.17,132.15 475.71,132.16 476.25,132.44 477.31,132.45 477.83,132.25 478.35,132.57 478.86,132.56 479.37,132.41 479.87,132.48 480.37,132.21 481.35,132.34 483.27,132.17 483.74,132.52 484.21,132.31 484.67,132.53 485.58,132.23 486.04,132.18 486.48,132.25 486.93,132.58 487.37,132.43 487.81,132.52 488.24,132.14 488.67,132.53 489.52,132.43 489.94,132.56 490.36,132.20 490.77,132.30 491.19,132.52 491.60,132.37 492.00,132.56 492.40,132.31 493.20,132.57 493.60,132.54 493.99,132.34 494.38,132.30 494.76,132.44 495.15,132.30 495.91,132.53 496.66,132.41 497.03,132.18 497.40,132.54 497.76,132.55 498.49,132.15 499.21,132.27 499.56,132.56 499.91,132.23 500.27,132.28 500.61,132.53 500.96,132.38 501.30,132.57 501.65,132.23 502.66,132.25 502.99,132.47 503.33,132.23 503.66,132.48 503.99,132.53 504.64,132.37 504.96,132.46 505.28,132.32 505.60,132.32 505.92,132.48 506.23,132.31 506.54,132.43 506.86,132.26 507.17,132.46 507.48,132.23 507.78,132.40 508.39,132.29 508.99,132.48 509.29,132.15 509.59,132.55 510.18,132.34 510.47,132.58 510.76,132.52 511.05,132.23 511.63,132.30 511.91,132.18 512.20,132.25 512.48,132.46 512.76,132.30 513.04,132.44 513.32,132.25 513.87,132.52 514.14,132.19 514.96,132.34 515.23,132.24 515.50,132.39 515.76,132.33 516.03,132.56 516.55,132.22 517.08,132.23 517.33,132.37 517.59,132.19 517.85,132.54 518.11,132.19 518.61,132.55 518.87,132.31 519.37,132.40 519.62,132.20 519.86,132.53 520.11,132.31 520.36,132.40 520.84,132.37 521.09,132.53 521.57,132.20 521.81,132.51 522.05,132.59 522.28,132.56 522.75,132.15 522.99,132.57 523.22,132.14 523.69,132.54 523.92,132.40 524.15,132.50 524.38,132.27 524.83,132.46 525.06,132.48 525.28,132.20 525.73,132.39 525.95,132.41 526.39,132.15 526.61,132.56 527.27,132.36 527.49,132.56 527.70,132.57 528.13,132.42 528.34,132.26 528.56,132.31 528.77,132.58 528.98,132.57 529.40,132.19 529.61,132.18 529.81,132.43 530.02,132.19 530.23,132.17 530.43,132.41 530.64,132.25 531.04,132.52 531.25,132.33 531.45,132.55 531.65,132.29 532.05,132.18 532.45,132.54 532.65,132.18 533.04,132.15 533.23,132.32 533.43,132.29 533.82,132.51 534.01,132.46 534.20,132.26 534.39,132.44 534.58,132.28 534.96,132.39 535.15,132.15 535.34,132.52 535.53,132.37 535.72,132.52 535.90,132.17 536.09,132.37 536.46,132.52 536.64,132.32 537.19,132.58 537.56,132.33 537.74,132.36 537.92,132.18 538.27,132.17 538.63,132.37 539.16,132.41 539.34,132.57 539.51,132.23 539.69,132.48 539.86,132.58 540.21,132.27 540.55,132.43 540.72,132.29 540.89,132.52 541.06,132.59 541.23,132.32 541.40,132.35 541.57,132.20 541.74,132.40 541.91,132.23 542.07,132.58 542.24,132.58 542.41,132.32 542.74,132.56 543.07,132.42" fill="none" stroke="#6248ff" stroke-opacity="0.75" stroke-width="1.0" stroke-linejoin="round" clip-path="url(#c7)"/>
<line x1="321.50" y1="19.30" x2="321.50" y2="134.70" stroke="#939393" stroke-width="1.0" />
<line x1="320.00" y1="133.20" x2="543.00" y2="133.20" stroke="#939393" stroke-width="1.0" />
<line x1="319.50" y1="133.20" x2="321.50" y2="133.20" stroke="#939393" stroke-width="1.0" />
<text x="315.30" y="137.40" font-family="'Liberation Sans', Arial, Helvetica, sans-serif" font-size="10" text-anchor="end" fill="#262626" stroke="#262626" stroke-width="0.28" >0</text>
<line x1="319.50" y1="95.23" x2="321.50" y2="95.23" stroke="#939393" stroke-width="1.0" />
<text x="315.30" y="99.43" font-family="'Liberation Sans', Arial, Helvetica, sans-serif" font-size="10" text-anchor="end" fill="#262626" stroke="#262626" stroke-width="0.28" >1</text>
<line x1="319.50" y1="57.27" x2="321.50" y2="57.27" stroke="#939393" stroke-width="1.0" />
<text x="315.30" y="61.47" font-family="'Liberation Sans', Arial, Helvetica, sans-serif" font-size="10" text-anchor="end" fill="#262626" stroke="#262626" stroke-width="0.28" >2</text>
<line x1="319.50" y1="19.30" x2="321.50" y2="19.30" stroke="#939393" stroke-width="1.0" />
<text x="315.30" y="23.50" font-family="'Liberation Sans', Arial, Helvetica, sans-serif" font-size="10" text-anchor="end" fill="#262626" stroke="#262626" stroke-width="0.28" >3</text>
<line x1="360.75" y1="133.20" x2="360.75" y2="134.50" stroke="#939393" stroke-width="1.0" />
<line x1="383.70" y1="133.20" x2="383.70" y2="134.50" stroke="#939393" stroke-width="1.0" />
<line x1="399.99" y1="133.20" x2="399.99" y2="134.50" stroke="#939393" stroke-width="1.0" />
<line x1="412.63" y1="133.20" x2="412.63" y2="134.50" stroke="#939393" stroke-width="1.0" />
<line x1="422.95" y1="133.20" x2="422.95" y2="134.50" stroke="#939393" stroke-width="1.0" />
<line x1="431.68" y1="133.20" x2="431.68" y2="134.50" stroke="#939393" stroke-width="1.0" />
<line x1="439.24" y1="133.20" x2="439.24" y2="134.50" stroke="#939393" stroke-width="1.0" />
<line x1="445.91" y1="133.20" x2="445.91" y2="134.50" stroke="#939393" stroke-width="1.0" />
<line x1="491.12" y1="133.20" x2="491.12" y2="134.50" stroke="#939393" stroke-width="1.0" />
<line x1="514.08" y1="133.20" x2="514.08" y2="134.50" stroke="#939393" stroke-width="1.0" />
<line x1="530.37" y1="133.20" x2="530.37" y2="134.50" stroke="#939393" stroke-width="1.0" />
<line x1="543.00" y1="133.20" x2="543.00" y2="134.50" stroke="#939393" stroke-width="1.0" />
<line x1="321.50" y1="133.20" x2="321.50" y2="135.20" stroke="#939393" stroke-width="1.0" />
<text x="313.00" y="152.50" font-family="'Liberation Sans', Arial, Helvetica, sans-serif" font-size="10" fill="#262626" stroke="#262626" stroke-width="0.28">10</text>
<text x="324.90" y="146.50" font-family="'Liberation Sans', Arial, Helvetica, sans-serif" font-size="7.9" fill="#262626" stroke="#262626" stroke-width="0.25">0</text>
<line x1="451.87" y1="133.20" x2="451.87" y2="135.20" stroke="#939393" stroke-width="1.0" />
<text x="443.37" y="152.50" font-family="'Liberation Sans', Arial, Helvetica, sans-serif" font-size="10" fill="#262626" stroke="#262626" stroke-width="0.28">10</text>
<text x="455.27" y="146.50" font-family="'Liberation Sans', Arial, Helvetica, sans-serif" font-size="7.9" fill="#262626" stroke="#262626" stroke-width="0.25">1</text>
<text x="431.75" y="11.30" font-family="'Liberation Serif', 'Times New Roman', serif" font-size="10.5" text-anchor="middle" fill="#262626" stroke="#262626" font-weight="bold" stroke-width="0.12" textLength="78.6" lengthAdjust="spacingAndGlyphs">(b) Bridge 1: FFT</text>
<text x="430.65" y="165.30" font-family="'Liberation Serif', 'Times New Roman', serif" font-size="11" text-anchor="middle" fill="#262626" stroke="#262626" stroke-width="0.12" textLength="82.8" lengthAdjust="spacingAndGlyphs">Frequency - [ Hz ]</text>
<text transform="translate(301.10,76.25) rotate(-90)" x="0" y="0" font-family="'Liberation Serif', 'Times New Roman', serif" font-size="11" text-anchor="middle" fill="#262626" stroke="#262626" stroke-width="0.12" textLength="103.6" lengthAdjust="spacingAndGlyphs">Displacement - [ mm ]</text>
<rect x="405.40" y="25.40" width="130.00" height="14.40" fill="#ffffff" stroke="#9a9a9a" stroke-width="1"/>
<line x1="408.00" y1="32.60" x2="430.10" y2="32.60" stroke="#ff4a6a" stroke-width="1.0" stroke-opacity="0.85"/>
<text x="432.60" y="36.00" font-family="'Liberation Sans', Arial, Helvetica, sans-serif" font-size="9.4" text-anchor="start" fill="#262626" stroke="#262626" stroke-width="0.15" textLength="36.4" lengthAdjust="spacingAndGlyphs">Dynamic</text>
<line x1="474.10" y1="32.60" x2="497.00" y2="32.60" stroke="#6248ff" stroke-width="1.0" stroke-opacity="0.75"/>
<text x="498.30" y="36.00" font-family="'Liberation Sans', Arial, Helvetica, sans-serif" font-size="9.4" text-anchor="start" fill="#262626" stroke="#262626" stroke-width="0.15" textLength="33.6" lengthAdjust="spacingAndGlyphs">Q-Static</text>
<rect x="343.60" y="27.50" width="35.90" height="20.60" fill="#fafafe" stroke="#a8a8a8" stroke-width="1"/>
<text x="346.60" y="39.50" font-family="'Liberation Sans', Arial, Helvetica, sans-serif" font-size="9" fill="#404040" stroke="#404040" stroke-width="0.1">X</text>
<text x="355.10" y="39.50" font-family="'Liberation Serif', 'Times New Roman', serif" font-size="9.6" font-weight="bold" fill="#0a8cf0" stroke="#0a8cf0" stroke-width="0.2" textLength="20.3" lengthAdjust="spacingAndGlyphs">1.451</text>
<circle cx="342.58" cy="49.03" r="1.5" fill="#111"/>
<line x1="360.75" y1="195.90" x2="360.75" y2="309.80" stroke="#f6f6f6" stroke-width="1.0" />
<line x1="383.70" y1="195.90" x2="383.70" y2="309.80" stroke="#f6f6f6" stroke-width="1.0" />
<line x1="399.99" y1="195.90" x2="399.99" y2="309.80" stroke="#f6f6f6" stroke-width="1.0" />
<line x1="412.63" y1="195.90" x2="412.63" y2="309.80" stroke="#f6f6f6" stroke-width="1.0" />
<line x1="422.95" y1="195.90" x2="422.95" y2="309.80" stroke="#f6f6f6" stroke-width="1.0" />
<line x1="431.68" y1="195.90" x2="431.68" y2="309.80" stroke="#f6f6f6" stroke-width="1.0" />
<line x1="439.24" y1="195.90" x2="439.24" y2="309.80" stroke="#f6f6f6" stroke-width="1.0" />
<line x1="445.91" y1="195.90" x2="445.91" y2="309.80" stroke="#f6f6f6" stroke-width="1.0" />
<line x1="491.12" y1="195.90" x2="491.12" y2="309.80" stroke="#f6f6f6" stroke-width="1.0" />
<line x1="514.08" y1="195.90" x2="514.08" y2="309.80" stroke="#f6f6f6" stroke-width="1.0" />
<line x1="530.37" y1="195.90" x2="530.37" y2="309.80" stroke="#f6f6f6" stroke-width="1.0" />
<line x1="543.00" y1="195.90" x2="543.00" y2="309.80" stroke="#f6f6f6" stroke-width="1.0" />
<line x1="543.00" y1="195.90" x2="543.00" y2="309.80" stroke="#f6f6f6" stroke-width="1.0" />
<line x1="451.87" y1="195.90" x2="451.87" y2="309.80" stroke="#f0f0f0" stroke-width="1.0" />
<line x1="321.50" y1="281.32" x2="543.00" y2="281.32" stroke="#f0f0f0" stroke-width="1.0" />
<line x1="321.50" y1="252.85" x2="543.00" y2="252.85" stroke="#f0f0f0" stroke-width="1.0" />
<line x1="321.50" y1="224.38" x2="543.00" y2="224.38" stroke="#f0f0f0" stroke-width="1.0" />
<line x1="321.50" y1="195.90" x2="543.00" y2="195.90" stroke="#f0f0f0" stroke-width="1.0" />
<line x1="344.46" y1="195.90" x2="344.46" y2="309.80" stroke="#a6a6a6" stroke-width="1.0" />
<line x1="383.70" y1="195.90" x2="383.70" y2="309.80" stroke="#a6a6a6" stroke-width="1.0" />
<line x1="406.66" y1="195.90" x2="406.66" y2="309.80" stroke="#a6a6a6" stroke-width="1.0" />
<line x1="422.95" y1="195.90" x2="422.95" y2="309.80" stroke="#a6a6a6" stroke-width="1.0" />
<line x1="435.58" y1="195.90" x2="435.58" y2="309.80" stroke="#a6a6a6" stroke-width="1.0" />
<line x1="445.91" y1="195.90" x2="445.91" y2="309.80" stroke="#a6a6a6" stroke-width="1.0" />
<line x1="454.64" y1="195.90" x2="454.64" y2="309.80" stroke="#a6a6a6" stroke-width="1.0" />
<line x1="462.20" y1="195.90" x2="462.20" y2="309.80" stroke="#a6a6a6" stroke-width="1.0" />
<line x1="468.87" y1="195.90" x2="468.87" y2="309.80" stroke="#a6a6a6" stroke-width="1.0" />
<line x1="474.83" y1="195.90" x2="474.83" y2="309.80" stroke="#a6a6a6" stroke-width="1.0" />
<clipPath id="c8"><rect x="321.50" y="194.90" width="221.50" height="115.40"/></clipPath>
<polyline points="305.81,298.41 322.10,300.97 328.77,304.67 334.73,297.84 340.13,284.74 345.06,228.93 349.59,304.11 353.78,306.95 357.69,307.24 361.35,308.09 364.78,308.66 368.01,309.09 371.08,309.23 373.98,308.95 376.74,308.38 379.38,306.38 381.89,304.67 384.30,308.38 386.61,309.23 388.84,309.52 390.97,309.20 393.03,309.56 395.02,309.59 396.94,309.43 398.79,309.43 400.59,309.24 402.33,309.39 404.02,308.38 405.67,305.81 407.26,304.11 408.81,306.38 410.32,309.55 411.79,309.58 417.32,309.32 419.90,309.53 421.14,308.09 422.36,304.96 423.55,308.38 424.72,309.30 425.86,309.61 426.98,309.18 428.08,309.32 429.16,309.19 430.22,309.51 432.28,309.26 434.26,309.14 435.23,309.61 437.12,309.35 438.04,309.48 438.95,309.32 439.84,309.48 440.72,309.27 442.43,309.49 443.27,309.42 444.10,309.16 444.91,308.38 445.71,309.40 447.29,309.33 448.06,309.39 448.82,309.23 449.57,309.30 450.31,309.57 451.04,309.60 451.76,309.22 453.18,309.38 453.87,308.38 454.56,309.34 455.23,309.32 455.90,309.40 456.57,309.32 457.87,309.52 458.51,309.28 459.14,309.40 459.77,309.33 460.39,309.46 461.00,309.14 462.80,309.52 463.38,309.32 464.54,309.24 465.11,309.54 465.67,309.30 466.23,309.18 466.78,309.63 467.87,309.37 468.41,309.53 468.94,309.32 469.46,309.43 469.99,309.41 470.50,309.60 471.02,309.19 472.03,309.35 473.02,309.25 473.51,309.56 474.00,309.14 474.48,309.37 474.96,309.35 475.43,309.59 475.90,309.51 476.37,309.23 476.83,309.20 477.29,309.29 477.74,309.27 478.64,309.49 479.08,309.20 479.52,309.43 480.40,309.38 480.83,309.50 481.25,309.49 481.68,309.21 482.10,309.32 482.52,309.56 482.93,309.26 484.56,309.48 484.96,309.21 485.36,309.55 485.75,309.25 486.14,309.57 486.53,309.63 486.92,309.35 487.30,309.55 487.69,309.38 488.44,309.53 489.19,309.19 489.55,309.18 489.92,309.48 490.29,309.61 490.65,309.32 491.01,309.29 491.36,309.13 492.07,309.39 492.42,309.65 492.77,309.37 493.12,309.56 493.80,309.44 494.48,309.54 494.82,309.27 495.15,309.34 495.48,309.12 495.81,309.61 496.14,309.31 496.47,309.31 496.79,309.42 497.12,309.17 497.44,309.49 498.07,309.28 498.39,309.55 499.01,309.43 499.63,309.63 500.55,309.31 500.85,309.41 501.15,309.30 501.45,309.34 501.75,309.57 502.04,309.31 502.34,309.38 502.63,309.58 502.92,309.20 503.21,309.30 503.50,309.58 503.78,309.56 504.07,309.36 504.64,309.31 504.92,309.57 505.20,309.42 505.47,309.53 505.75,309.11 506.03,309.25 506.30,309.25 506.57,309.38 506.85,309.27 507.65,309.46 507.92,309.41 508.18,309.60 508.45,309.61 508.71,309.31 508.97,309.39 509.23,309.25 509.49,309.31 509.75,309.53 510.26,309.21 510.52,309.16 510.77,309.45 511.02,309.22 511.52,309.35 511.77,309.59 512.02,309.35 512.27,309.24 512.51,309.43 512.76,309.18 513.00,309.28 513.24,309.16 513.48,309.47 513.72,309.26 513.96,309.25 514.44,309.39 514.91,309.13 515.15,309.19 515.38,309.62 515.61,309.36 515.84,309.63 516.07,309.32 516.30,309.48 516.53,309.49 516.76,309.29 517.21,309.23 517.44,309.45 517.66,309.39 517.89,309.56 518.11,309.53 518.33,309.15 518.55,309.48 518.77,309.27 519.43,309.34 519.64,309.27 519.86,309.46 520.07,309.53 520.29,309.22 520.50,309.45 520.92,309.52 521.13,309.36 521.35,309.64 521.97,309.19 522.18,309.13 522.38,309.43 522.59,309.43 522.79,309.19 523.00,309.63 523.20,309.25 523.40,309.20 523.61,309.25 523.81,309.45 524.21,309.25 524.41,309.48 524.60,309.56 524.80,309.27 525.20,309.41 525.39,309.22 525.59,309.40 525.78,309.42 525.97,309.16 526.17,309.16 526.36,309.31 526.55,309.16 527.12,309.37 527.31,309.66 527.50,309.14 527.69,309.20 527.87,309.63 528.06,309.21 528.25,309.43 528.43,309.27 528.62,309.44 529.35,309.32 529.53,309.20 529.71,309.37 530.07,309.16 530.25,309.15 530.61,309.52 530.96,309.26 531.14,309.46 531.32,309.50 531.49,309.47 531.84,309.24 532.19,309.38 532.54,309.24 532.71,309.46 532.88,309.51 533.05,309.32 533.39,309.50 533.56,309.20 533.73,309.13 533.90,309.55 534.06,309.28 534.23,309.20 534.40,309.43 534.56,309.25 534.73,309.40 534.89,309.20 535.39,309.39 535.55,309.26 536.04,309.52 536.36,309.43 536.52,309.49 536.68,309.26 537.00,309.41 537.16,309.27 537.32,309.45 537.48,309.25 537.63,309.30 537.79,309.55 537.95,309.51 538.26,309.22 538.57,309.27 538.72,309.49 538.88,309.16 539.19,309.33 539.64,309.41 540.10,309.23 540.25,309.44 540.40,309.35 540.55,309.42 540.84,309.27 541.14,309.61 541.29,309.23 541.44,309.47 541.58,309.28 541.73,309.38 541.87,309.20 542.02,309.42 542.17,309.37 542.31,309.48 542.46,309.32 542.74,309.36 542.89,309.51 543.03,309.20" fill="none" stroke="#ff4a6a" stroke-opacity="0.85" stroke-width="1.0" stroke-linejoin="round" clip-path="url(#c8)"/>
<polyline points="305.81,298.41 322.10,300.97 328.77,304.67 334.73,297.84 340.13,284.74 345.06,228.93 349.59,304.11 353.78,306.95 357.69,307.24 361.35,308.09 364.78,308.66 368.01,309.09 371.08,309.23 373.98,308.95 376.74,308.38 381.89,305.53 384.30,308.38 386.61,309.23 388.84,309.46 390.97,309.22 393.03,309.48 398.79,309.46 400.59,309.31 402.33,309.50 404.02,308.38 405.67,306.38 407.26,304.96 408.81,307.81 410.32,309.51 415.99,309.38 417.32,309.23 418.62,309.46 419.90,309.48 422.36,309.22 424.72,309.24 425.86,309.52 426.98,309.22 428.08,309.32 429.16,309.25 431.26,309.47 432.28,309.27 434.26,309.28 435.23,309.47 436.18,309.50 437.12,309.28 438.04,309.54 438.95,309.22 439.84,309.50 440.72,309.34 443.27,309.49 444.10,309.28 444.91,309.23 448.06,309.36 448.82,309.35 449.57,309.23 450.31,309.45 451.04,309.47 451.76,309.22 452.47,309.22 453.18,309.38 453.87,309.27 455.23,309.22 455.90,309.52 456.57,309.24 457.22,309.37 458.51,309.31 460.39,309.44 461.00,309.23 461.60,309.26 462.20,309.51 463.38,309.28 464.54,309.21 465.11,309.46 465.67,309.24 466.23,309.31 466.78,309.52 468.41,309.52 468.94,309.31 469.46,309.44 469.99,309.31 470.50,309.52 471.02,309.25 472.03,309.28 473.51,309.48 474.00,309.22 474.48,309.49 474.96,309.37 475.43,309.50 475.90,309.51 476.37,309.31 476.83,309.24 477.29,309.39 478.19,309.25 478.64,309.36 479.08,309.28 479.52,309.44 480.83,309.54 481.25,309.52 481.68,309.29 482.10,309.24 482.52,309.52 482.93,309.30 483.34,309.28 484.16,309.37 484.96,309.31 485.36,309.46 485.75,309.29 486.14,309.48 486.53,309.53 486.92,309.22 487.30,309.51 488.44,309.54 488.81,309.50 489.19,309.23 490.29,309.54 490.65,309.26 491.01,309.38 491.36,309.25 492.07,309.52 492.42,309.52 492.77,309.27 493.12,309.47 493.46,309.49 493.80,309.40 494.48,309.45 494.82,309.27 495.15,309.38 495.48,309.20 495.81,309.51 496.14,309.44 496.47,309.24 496.79,309.39 497.12,309.28 497.44,309.40 497.75,309.41 498.07,309.24 498.39,309.44 499.01,309.35 499.32,309.53 499.94,309.46 500.24,309.54 500.55,309.31 501.15,309.43 501.45,309.40 501.75,309.53 502.34,309.26 502.63,309.53 502.92,309.32 503.21,309.31 503.50,309.47 504.07,309.48 504.35,309.35 504.92,309.50 505.47,309.46 505.75,309.21 506.30,309.38 506.85,309.35 507.12,309.21 507.65,309.52 507.92,309.48 508.18,309.54 508.71,309.34 508.97,309.46 509.23,309.26 509.49,309.22 509.75,309.50 510.01,309.27 510.26,309.32 510.52,309.20 510.77,309.48 511.02,309.28 511.52,309.48 511.77,309.46 512.02,309.22 512.27,309.38 512.51,309.40 512.76,309.25 513.24,309.24 513.48,309.54 513.72,309.20 513.96,309.31 514.20,309.24 514.91,309.24 515.38,309.50 515.61,309.31 515.84,309.53 516.07,309.42 516.53,309.44 516.76,309.27 517.21,309.24 517.44,309.33 517.66,309.28 517.89,309.50 518.33,309.27 518.55,309.39 518.99,309.28 519.21,309.47 519.43,309.25 519.64,309.29 519.86,309.52 520.29,309.23 520.50,309.45 520.71,309.54 521.13,309.36 521.35,309.51 521.76,309.50 521.97,309.26 522.18,309.21 522.38,309.50 522.79,309.31 523.00,309.52 523.20,309.24 523.81,309.38 524.21,309.26 524.41,309.45 524.60,309.46 524.80,309.21 525.00,309.38 525.20,309.40 525.39,309.22 525.59,309.30 526.36,309.31 526.55,309.20 526.74,309.27 527.12,309.26 527.31,309.53 527.50,309.21 527.69,309.28 527.87,309.51 528.06,309.30 528.62,309.44 528.80,309.36 528.98,309.49 529.35,309.33 529.71,309.36 529.89,309.24 530.25,309.23 530.79,309.53 530.96,309.35 531.14,309.37 531.32,309.54 531.49,309.50 531.67,309.21 531.84,309.29 532.02,309.23 532.19,309.43 532.54,309.34 532.88,309.53 533.22,309.32 533.39,309.42 533.56,309.23 533.73,309.23 533.90,309.53 534.23,309.34 534.40,309.40 534.56,309.21 534.73,309.44 534.89,309.24 535.06,309.43 535.22,309.24 535.39,309.51 535.55,309.25 536.36,309.50 536.68,309.37 537.00,309.38 537.16,309.25 537.32,309.47 537.48,309.28 537.63,309.25 537.95,309.52 538.10,309.26 538.41,309.38 538.57,309.23 538.72,309.45 538.88,309.30 539.19,309.41 539.34,309.28 539.49,309.51 539.79,309.37 539.95,309.21 540.10,309.28 540.25,309.52 540.40,309.33 540.55,309.50 540.84,309.21 540.99,309.45 541.14,309.51 541.29,309.23 541.44,309.47 541.58,309.34 541.73,309.45 541.87,309.22 542.17,309.27 542.31,309.51 542.60,309.25 542.89,309.51 543.03,309.25" fill="none" stroke="#6248ff" stroke-opacity="0.75" stroke-width="1.0" stroke-linejoin="round" clip-path="url(#c8)"/>
<line x1="321.50" y1="195.90" x2="321.50" y2="311.30" stroke="#939393" stroke-width="1.0" />
<line x1="320.00" y1="309.80" x2="543.00" y2="309.80" stroke="#939393" stroke-width="1.0" />
<line x1="319.50" y1="309.80" x2="321.50" y2="309.80" stroke="#939393" stroke-width="1.0" />
<text x="315.30" y="314.00" font-family="'Liberation Sans', Arial, Helvetica, sans-serif" font-size="10" text-anchor="end" fill="#262626" stroke="#262626" stroke-width="0.28" >0</text>
<line x1="319.50" y1="281.32" x2="321.50" y2="281.32" stroke="#939393" stroke-width="1.0" />
<text x="315.30" y="285.52" font-family="'Liberation Sans', Arial, Helvetica, sans-serif" font-size="10" text-anchor="end" fill="#262626" stroke="#262626" stroke-width="0.28" >1</text>
<line x1="319.50" y1="252.85" x2="321.50" y2="252.85" stroke="#939393" stroke-width="1.0" />
<text x="315.30" y="257.05" font-family="'Liberation Sans', Arial, Helvetica, sans-serif" font-size="10" text-anchor="end" fill="#262626" stroke="#262626" stroke-width="0.28" >2</text>
<line x1="319.50" y1="224.38" x2="321.50" y2="224.38" stroke="#939393" stroke-width="1.0" />
<text x="315.30" y="228.57" font-family="'Liberation Sans', Arial, Helvetica, sans-serif" font-size="10" text-anchor="end" fill="#262626" stroke="#262626" stroke-width="0.28" >3</text>
<line x1="319.50" y1="195.90" x2="321.50" y2="195.90" stroke="#939393" stroke-width="1.0" />
<text x="315.30" y="200.10" font-family="'Liberation Sans', Arial, Helvetica, sans-serif" font-size="10" text-anchor="end" fill="#262626" stroke="#262626" stroke-width="0.28" >4</text>
<line x1="360.75" y1="309.80" x2="360.75" y2="311.10" stroke="#939393" stroke-width="1.0" />
<line x1="383.70" y1="309.80" x2="383.70" y2="311.10" stroke="#939393" stroke-width="1.0" />
<line x1="399.99" y1="309.80" x2="399.99" y2="311.10" stroke="#939393" stroke-width="1.0" />
<line x1="412.63" y1="309.80" x2="412.63" y2="311.10" stroke="#939393" stroke-width="1.0" />
<line x1="422.95" y1="309.80" x2="422.95" y2="311.10" stroke="#939393" stroke-width="1.0" />
<line x1="431.68" y1="309.80" x2="431.68" y2="311.10" stroke="#939393" stroke-width="1.0" />
<line x1="439.24" y1="309.80" x2="439.24" y2="311.10" stroke="#939393" stroke-width="1.0" />
<line x1="445.91" y1="309.80" x2="445.91" y2="311.10" stroke="#939393" stroke-width="1.0" />
<line x1="491.12" y1="309.80" x2="491.12" y2="311.10" stroke="#939393" stroke-width="1.0" />
<line x1="514.08" y1="309.80" x2="514.08" y2="311.10" stroke="#939393" stroke-width="1.0" />
<line x1="530.37" y1="309.80" x2="530.37" y2="311.10" stroke="#939393" stroke-width="1.0" />
<line x1="543.00" y1="309.80" x2="543.00" y2="311.10" stroke="#939393" stroke-width="1.0" />
<line x1="321.50" y1="309.80" x2="321.50" y2="311.80" stroke="#939393" stroke-width="1.0" />
<text x="313.00" y="329.10" font-family="'Liberation Sans', Arial, Helvetica, sans-serif" font-size="10" fill="#262626" stroke="#262626" stroke-width="0.28">10</text>
<text x="324.90" y="323.10" font-family="'Liberation Sans', Arial, Helvetica, sans-serif" font-size="7.9" fill="#262626" stroke="#262626" stroke-width="0.25">0</text>
<line x1="451.87" y1="309.80" x2="451.87" y2="311.80" stroke="#939393" stroke-width="1.0" />
<text x="443.37" y="329.10" font-family="'Liberation Sans', Arial, Helvetica, sans-serif" font-size="10" fill="#262626" stroke="#262626" stroke-width="0.28">10</text>
<text x="455.27" y="323.10" font-family="'Liberation Sans', Arial, Helvetica, sans-serif" font-size="7.9" fill="#262626" stroke="#262626" stroke-width="0.25">1</text>
<text x="431.75" y="187.90" font-family="'Liberation Serif', 'Times New Roman', serif" font-size="10.5" text-anchor="middle" fill="#262626" stroke="#262626" font-weight="bold" stroke-width="0.12" textLength="78.6" lengthAdjust="spacingAndGlyphs">(d) Bridge 2: FFT</text>
<text x="430.65" y="341.90" font-family="'Liberation Serif', 'Times New Roman', serif" font-size="11" text-anchor="middle" fill="#262626" stroke="#262626" stroke-width="0.12" textLength="82.8" lengthAdjust="spacingAndGlyphs">Frequency - [ Hz ]</text>
<text transform="translate(301.10,252.85) rotate(-90)" x="0" y="0" font-family="'Liberation Serif', 'Times New Roman', serif" font-size="11" text-anchor="middle" fill="#262626" stroke="#262626" stroke-width="0.12" textLength="103.6" lengthAdjust="spacingAndGlyphs">Displacement - [ mm ]</text>
<rect x="405.40" y="202.00" width="130.00" height="14.40" fill="#ffffff" stroke="#9a9a9a" stroke-width="1"/>
<line x1="408.00" y1="209.20" x2="430.10" y2="209.20" stroke="#ff4a6a" stroke-width="1.0" stroke-opacity="0.85"/>
<text x="432.60" y="212.60" font-family="'Liberation Sans', Arial, Helvetica, sans-serif" font-size="9.4" text-anchor="start" fill="#262626" stroke="#262626" stroke-width="0.15" textLength="36.4" lengthAdjust="spacingAndGlyphs">Dynamic</text>
<line x1="474.10" y1="209.20" x2="497.00" y2="209.20" stroke="#6248ff" stroke-width="1.0" stroke-opacity="0.75"/>
<text x="498.30" y="212.60" font-family="'Liberation Sans', Arial, Helvetica, sans-serif" font-size="9.4" text-anchor="start" fill="#262626" stroke="#262626" stroke-width="0.15" textLength="33.6" lengthAdjust="spacingAndGlyphs">Q-Static</text>
<rect x="345.00" y="207.10" width="36.80" height="20.50" fill="#fafafe" stroke="#a8a8a8" stroke-width="1"/>
<text x="348.00" y="219.10" font-family="'Liberation Sans', Arial, Helvetica, sans-serif" font-size="9" fill="#404040" stroke="#404040" stroke-width="0.1">X</text>
<text x="356.50" y="219.10" font-family="'Liberation Serif', 'Times New Roman', serif" font-size="9.6" font-weight="bold" fill="#0a8cf0" stroke="#0a8cf0" stroke-width="0.2" textLength="20.3" lengthAdjust="spacingAndGlyphs">1.516</text>
<circle cx="345.06" cy="228.93" r="1.5" fill="#111"/>
<line x1="361.57" y1="372.50" x2="361.57" y2="486.40" stroke="#f6f6f6" stroke-width="1.0" />
<line x1="384.42" y1="372.50" x2="384.42" y2="486.40" stroke="#f6f6f6" stroke-width="1.0" />
<line x1="400.64" y1="372.50" x2="400.64" y2="486.40" stroke="#f6f6f6" stroke-width="1.0" />
<line x1="413.22" y1="372.50" x2="413.22" y2="486.40" stroke="#f6f6f6" stroke-width="1.0" />
<line x1="423.49" y1="372.50" x2="423.49" y2="486.40" stroke="#f6f6f6" stroke-width="1.0" />
<line x1="432.18" y1="372.50" x2="432.18" y2="486.40" stroke="#f6f6f6" stroke-width="1.0" />
<line x1="439.71" y1="372.50" x2="439.71" y2="486.40" stroke="#f6f6f6" stroke-width="1.0" />
<line x1="446.35" y1="372.50" x2="446.35" y2="486.40" stroke="#f6f6f6" stroke-width="1.0" />
<line x1="491.35" y1="372.50" x2="491.35" y2="486.40" stroke="#f6f6f6" stroke-width="1.0" />
<line x1="514.21" y1="372.50" x2="514.21" y2="486.40" stroke="#f6f6f6" stroke-width="1.0" />
<line x1="530.42" y1="372.50" x2="530.42" y2="486.40" stroke="#f6f6f6" stroke-width="1.0" />
<line x1="543.00" y1="372.50" x2="543.00" y2="486.40" stroke="#f6f6f6" stroke-width="1.0" />
<line x1="543.00" y1="372.50" x2="543.00" y2="486.40" stroke="#f6f6f6" stroke-width="1.0" />
<line x1="452.28" y1="372.50" x2="452.28" y2="486.40" stroke="#f0f0f0" stroke-width="1.0" />
<line x1="322.50" y1="448.43" x2="543.00" y2="448.43" stroke="#f0f0f0" stroke-width="1.0" />
<line x1="322.50" y1="410.47" x2="543.00" y2="410.47" stroke="#f0f0f0" stroke-width="1.0" />
<line x1="322.50" y1="372.50" x2="543.00" y2="372.50" stroke="#f0f0f0" stroke-width="1.0" />
<line x1="345.35" y1="372.50" x2="345.35" y2="486.40" stroke="#a6a6a6" stroke-width="1.0" />
<line x1="384.42" y1="372.50" x2="384.42" y2="486.40" stroke="#a6a6a6" stroke-width="1.0" />
<line x1="407.28" y1="372.50" x2="407.28" y2="486.40" stroke="#a6a6a6" stroke-width="1.0" />
<line x1="423.49" y1="372.50" x2="423.49" y2="486.40" stroke="#a6a6a6" stroke-width="1.0" />
<line x1="436.07" y1="372.50" x2="436.07" y2="486.40" stroke="#a6a6a6" stroke-width="1.0" />
<line x1="446.35" y1="372.50" x2="446.35" y2="486.40" stroke="#a6a6a6" stroke-width="1.0" />
<line x1="455.03" y1="372.50" x2="455.03" y2="486.40" stroke="#a6a6a6" stroke-width="1.0" />
<line x1="462.56" y1="372.50" x2="462.56" y2="486.40" stroke="#a6a6a6" stroke-width="1.0" />
<line x1="469.20" y1="372.50" x2="469.20" y2="486.40" stroke="#a6a6a6" stroke-width="1.0" />
<line x1="475.14" y1="372.50" x2="475.14" y2="486.40" stroke="#a6a6a6" stroke-width="1.0" />
<clipPath id="c9"><rect x="322.50" y="371.50" width="220.50" height="115.40"/></clipPath>
<polyline points="314.57,478.81 323.26,480.14 330.79,485.83 337.43,473.87 343.37,404.77 348.74,437.04 353.64,459.06 358.15,469.31 362.33,474.44 366.22,475.77 369.86,475.96 376.50,475.96 379.54,475.01 382.43,471.78 385.18,483.55 387.81,485.22 390.31,485.63 392.71,485.26 395.01,485.88 397.22,485.74 399.35,485.22 401.40,485.72 403.38,486.00 405.29,485.20 407.14,485.24 408.93,485.67 410.66,485.58 413.98,485.89 415.56,485.57 417.11,485.81 420.08,485.87 422.90,485.42 424.25,485.79 425.58,485.36 426.88,485.35 428.14,485.79 429.38,485.53 430.59,485.58 431.78,486.00 432.94,485.52 434.08,485.52 437.37,485.83 438.42,485.55 439.45,485.43 441.47,486.07 442.45,485.61 444.36,485.93 445.29,485.50 447.11,485.67 447.99,485.42 448.87,485.43 449.73,485.79 450.58,485.77 452.23,485.59 453.05,484.88 453.85,485.60 454.63,485.32 455.41,485.47 456.18,485.83 457.68,485.51 458.42,485.43 459.15,485.96 459.86,485.75 460.57,485.82 461.27,486.05 463.32,485.46 463.99,485.84 464.65,485.18 465.30,485.28 465.94,485.77 467.21,485.53 467.83,485.98 469.06,485.75 469.66,485.78 470.26,485.68 470.85,485.93 471.43,485.69 472.01,485.75 472.58,485.44 473.15,473.11 473.71,485.69 474.27,485.45 475.36,485.93 475.90,485.29 476.96,485.80 477.49,485.65 478.01,485.30 478.52,485.64 479.03,485.66 479.54,485.32 480.04,485.51 480.54,485.48 481.03,485.57 481.52,485.26 482.00,485.60 482.48,485.70 482.95,485.47 483.43,485.54 483.89,485.62 484.36,485.94 484.82,485.44 485.27,485.64 485.73,485.66 486.18,485.53 486.62,485.90 487.06,485.49 487.50,485.43 487.94,485.64 488.37,485.55 488.80,485.97 489.22,485.74 489.65,485.16 490.07,485.35 490.48,485.35 490.89,485.75 491.71,485.87 492.11,485.87 492.52,485.28 492.91,485.77 493.31,485.71 494.09,485.89 494.48,485.60 494.86,485.79 495.25,485.52 495.63,485.55 496.00,485.79 496.38,485.54 496.75,485.66 497.12,485.36 497.49,486.05 497.85,485.43 498.57,485.86 498.93,485.79 499.29,485.48 499.64,485.44 499.99,485.45 500.34,485.76 501.03,485.70 501.38,485.76 501.72,485.96 502.05,485.85 502.39,485.60 502.73,485.57 503.06,485.84 503.72,485.96 504.04,485.57 504.37,485.97 505.01,485.99 505.33,485.48 505.65,485.44 505.97,485.92 506.59,485.44 506.90,485.57 507.21,485.90 507.52,485.62 508.43,485.21 509.03,485.81 509.33,485.66 509.62,485.67 509.92,485.54 510.21,485.56 510.50,485.80 510.79,485.80 511.08,485.46 511.37,485.65 512.22,485.47 512.50,485.88 512.78,485.53 513.61,486.09 513.88,485.75 514.16,485.76 514.43,486.02 514.70,485.63 515.24,485.32 515.50,485.53 515.77,485.44 516.03,485.68 516.56,485.30 516.82,485.65 517.08,485.72 517.59,485.50 517.85,485.29 518.35,486.03 518.86,485.40 519.11,485.75 519.36,485.39 519.60,485.78 519.85,485.27 520.10,486.06 520.34,485.29 520.58,485.88 520.83,485.41 521.07,485.78 521.31,485.92 521.55,485.62 521.79,485.89 522.02,485.73 522.26,485.71 522.50,485.51 522.73,486.04 523.20,485.56 523.43,485.83 523.66,485.74 523.89,485.80 524.34,485.68 524.57,485.77 524.80,485.99 525.02,485.55 525.25,485.46 525.47,485.46 525.69,485.96 525.91,485.58 526.13,485.54 526.57,485.73 526.79,485.95 527.01,485.35 527.22,485.42 527.44,485.28 527.65,485.75 527.87,485.46 528.08,485.37 528.29,485.68 528.50,485.59 528.72,485.86 528.92,485.66 529.13,485.92 529.34,485.76 529.76,485.73 529.96,485.40 530.17,485.82 530.37,486.05 530.58,485.32 530.98,485.71 531.18,486.05 531.38,485.51 531.59,485.44 531.98,485.80 532.18,485.73 532.38,485.43 532.58,485.91 532.77,485.59 532.97,485.68 533.16,485.20 533.36,485.70 533.55,485.89 533.74,485.74 533.93,485.35 534.32,485.86 534.51,485.32 534.88,486.08 535.07,485.71 535.26,485.65 535.45,485.77 535.82,485.47 536.19,485.82 536.37,485.89 536.56,485.29 536.74,485.37 537.10,485.74 537.28,485.36 537.46,485.66 537.64,485.22 538.00,486.00 538.18,485.74 538.36,485.72 538.53,485.96 538.71,485.58 538.89,485.41 539.24,485.66 539.41,485.98 539.58,485.57 539.76,485.77 539.93,485.45 540.10,485.60 540.27,485.62 540.44,485.91 540.62,485.56 540.79,485.86 540.95,485.24 541.12,485.83 541.29,485.59 541.46,485.65 541.79,485.44 541.96,485.59 542.13,485.39 542.29,485.42 542.62,485.88 542.79,485.45 542.95,485.82 543.11,485.38" fill="none" stroke="#ff4a6a" stroke-opacity="0.85" stroke-width="1.0" stroke-linejoin="round" clip-path="url(#c9)"/>
<polyline points="314.57,478.81 323.26,480.14 330.79,485.83 337.43,473.87 343.37,404.77 348.74,437.04 353.64,459.06 358.15,469.31 362.33,474.44 366.22,475.77 369.86,475.96 376.50,475.96 379.54,475.01 382.43,471.78 385.18,483.55 387.81,485.43 392.71,485.46 395.01,485.78 397.22,485.88 399.35,485.39 401.40,485.58 403.38,485.92 405.29,485.41 407.14,485.36 408.93,485.76 410.66,485.46 412.34,485.88 415.56,485.46 417.11,485.69 418.61,485.63 420.08,485.86 421.50,485.46 424.25,485.78 425.58,485.48 426.88,485.37 428.14,485.62 430.59,485.36 431.78,485.91 432.94,485.58 434.08,485.37 435.20,485.86 436.29,485.80 438.42,485.51 440.47,485.61 441.47,485.90 442.45,485.50 444.36,485.88 445.29,485.38 447.11,485.67 447.99,485.51 449.73,485.85 450.58,485.58 451.41,485.50 452.23,485.50 453.05,485.61 453.85,485.40 454.63,485.39 455.41,485.43 456.18,485.71 456.93,485.77 458.42,485.55 459.15,485.83 459.86,485.61 460.57,485.68 461.27,485.92 461.96,485.69 462.65,485.70 463.32,485.38 463.99,485.89 464.65,485.40 465.30,485.41 466.58,485.82 467.21,485.47 467.83,485.83 468.45,485.74 469.06,485.55 469.66,485.68 470.26,485.66 471.43,485.90 472.58,485.45 473.15,485.45 473.71,485.88 474.27,485.61 474.82,485.72 475.36,485.70 475.90,485.36 476.96,485.64 477.49,485.64 478.01,485.40 478.52,485.71 479.03,485.48 480.04,485.51 480.54,485.67 481.52,485.45 482.00,485.76 482.48,485.49 482.95,485.65 483.43,485.62 484.36,485.71 484.82,485.50 485.73,485.82 486.18,485.48 486.62,485.70 487.06,485.60 487.50,485.37 487.94,485.56 488.80,485.76 489.65,485.38 490.07,485.52 490.48,485.49 490.89,485.74 492.11,485.65 492.52,485.42 493.31,485.82 493.70,485.62 494.09,485.78 494.48,485.56 494.86,485.73 495.25,485.38 495.63,485.68 496.38,485.59 496.75,485.69 497.12,485.37 497.49,485.90 497.85,485.50 498.21,485.77 498.57,485.89 498.93,485.82 499.29,485.50 499.64,485.41 499.99,485.48 500.34,485.76 500.69,485.64 501.03,485.86 501.38,485.69 502.05,485.91 502.39,485.76 502.73,485.40 503.06,485.62 503.72,485.86 504.04,485.41 504.37,485.87 504.69,485.90 505.01,485.86 505.33,485.50 505.65,485.39 505.97,485.87 506.28,485.56 506.59,485.55 506.90,485.63 507.21,485.92 507.52,485.53 507.82,485.68 508.13,485.39 508.43,485.36 509.03,485.86 509.92,485.43 510.21,485.69 510.50,485.72 511.08,485.44 511.37,485.81 511.65,485.59 511.94,485.57 512.50,485.72 512.78,485.39 513.06,485.46 513.33,485.84 513.61,485.92 514.16,485.68 514.43,485.83 514.97,485.54 515.50,485.46 515.77,485.46 516.03,485.74 516.56,485.51 517.08,485.60 517.59,485.39 517.85,485.41 518.10,485.77 518.35,485.86 518.61,485.76 518.86,485.47 519.11,485.75 519.36,485.50 519.60,485.59 519.85,485.36 520.10,485.86 520.34,485.45 520.58,485.90 520.83,485.56 521.31,485.79 522.02,485.65 522.26,485.84 522.50,485.67 522.73,485.88 522.96,485.64 523.20,485.62 523.43,485.70 523.89,485.60 524.12,485.63 524.34,485.82 524.80,485.77 525.02,485.36 525.25,485.64 525.47,485.52 525.69,485.81 525.91,485.63 526.35,485.81 526.79,485.79 527.01,485.50 527.44,485.43 527.65,485.73 528.08,485.51 528.29,485.61 528.50,485.44 528.72,485.91 528.92,485.53 529.13,485.85 529.34,485.63 529.55,485.70 529.76,485.67 529.96,485.49 530.17,485.87 530.37,485.90 530.58,485.39 530.78,485.65 531.18,485.84 531.78,485.42 532.18,485.85 532.38,485.49 532.58,485.75 532.77,485.52 533.16,485.38 533.36,485.83 533.74,485.70 533.93,485.46 534.13,485.68 534.32,485.68 534.51,485.45 534.70,485.86 535.07,485.87 535.26,485.64 535.45,485.81 536.00,485.62 536.37,485.85 536.56,485.46 536.74,485.43 537.10,485.76 537.28,485.36 537.46,485.86 537.64,485.42 538.00,485.78 538.18,485.59 538.36,485.61 538.53,485.92 538.89,485.48 539.06,485.56 539.24,485.85 539.41,485.80 539.58,485.53 539.76,485.91 539.93,485.53 540.27,485.71 540.62,485.65 540.79,485.87 540.95,485.40 541.12,485.69 541.29,485.55 541.46,485.87 541.63,485.42 541.79,485.53 541.96,485.78 542.13,485.41 542.29,485.43 542.62,485.77 542.79,485.46 542.95,485.92 543.11,485.38" fill="none" stroke="#6248ff" stroke-opacity="0.75" stroke-width="1.0" stroke-linejoin="round" clip-path="url(#c9)"/>
<line x1="322.50" y1="372.50" x2="322.50" y2="487.90" stroke="#939393" stroke-width="1.0" />
<line x1="321.00" y1="486.40" x2="543.00" y2="486.40" stroke="#939393" stroke-width="1.0" />
<line x1="320.50" y1="486.40" x2="322.50" y2="486.40" stroke="#939393" stroke-width="1.0" />
<text x="316.30" y="490.60" font-family="'Liberation Sans', Arial, Helvetica, sans-serif" font-size="10" text-anchor="end" fill="#262626" stroke="#262626" stroke-width="0.28" >0</text>
<line x1="320.50" y1="448.43" x2="322.50" y2="448.43" stroke="#939393" stroke-width="1.0" />
<text x="316.30" y="452.63" font-family="'Liberation Sans', Arial, Helvetica, sans-serif" font-size="10" text-anchor="end" fill="#262626" stroke="#262626" stroke-width="0.28" >0.2</text>
<line x1="320.50" y1="410.47" x2="322.50" y2="410.47" stroke="#939393" stroke-width="1.0" />
<text x="316.30" y="414.67" font-family="'Liberation Sans', Arial, Helvetica, sans-serif" font-size="10" text-anchor="end" fill="#262626" stroke="#262626" stroke-width="0.28" >0.4</text>
<line x1="320.50" y1="372.50" x2="322.50" y2="372.50" stroke="#939393" stroke-width="1.0" />
<text x="316.30" y="376.70" font-family="'Liberation Sans', Arial, Helvetica, sans-serif" font-size="10" text-anchor="end" fill="#262626" stroke="#262626" stroke-width="0.28" >0.6</text>
<line x1="361.57" y1="486.40" x2="361.57" y2="487.70" stroke="#939393" stroke-width="1.0" />
<line x1="384.42" y1="486.40" x2="384.42" y2="487.70" stroke="#939393" stroke-width="1.0" />
<line x1="400.64" y1="486.40" x2="400.64" y2="487.70" stroke="#939393" stroke-width="1.0" />
<line x1="413.22" y1="486.40" x2="413.22" y2="487.70" stroke="#939393" stroke-width="1.0" />
<line x1="423.49" y1="486.40" x2="423.49" y2="487.70" stroke="#939393" stroke-width="1.0" />
<line x1="432.18" y1="486.40" x2="432.18" y2="487.70" stroke="#939393" stroke-width="1.0" />
<line x1="439.71" y1="486.40" x2="439.71" y2="487.70" stroke="#939393" stroke-width="1.0" />
<line x1="446.35" y1="486.40" x2="446.35" y2="487.70" stroke="#939393" stroke-width="1.0" />
<line x1="491.35" y1="486.40" x2="491.35" y2="487.70" stroke="#939393" stroke-width="1.0" />
<line x1="514.21" y1="486.40" x2="514.21" y2="487.70" stroke="#939393" stroke-width="1.0" />
<line x1="530.42" y1="486.40" x2="530.42" y2="487.70" stroke="#939393" stroke-width="1.0" />
<line x1="543.00" y1="486.40" x2="543.00" y2="487.70" stroke="#939393" stroke-width="1.0" />
<line x1="322.50" y1="486.40" x2="322.50" y2="488.40" stroke="#939393" stroke-width="1.0" />
<text x="314.00" y="505.70" font-family="'Liberation Sans', Arial, Helvetica, sans-serif" font-size="10" fill="#262626" stroke="#262626" stroke-width="0.28">10</text>
<text x="325.90" y="499.70" font-family="'Liberation Sans', Arial, Helvetica, sans-serif" font-size="7.9" fill="#262626" stroke="#262626" stroke-width="0.25">0</text>
<line x1="452.28" y1="486.40" x2="452.28" y2="488.40" stroke="#939393" stroke-width="1.0" />
<text x="443.78" y="505.70" font-family="'Liberation Sans', Arial, Helvetica, sans-serif" font-size="10" fill="#262626" stroke="#262626" stroke-width="0.28">10</text>
<text x="455.68" y="499.70" font-family="'Liberation Sans', Arial, Helvetica, sans-serif" font-size="7.9" fill="#262626" stroke="#262626" stroke-width="0.25">1</text>
<text x="432.25" y="364.50" font-family="'Liberation Serif', 'Times New Roman', serif" font-size="10.5" text-anchor="middle" fill="#262626" stroke="#262626" font-weight="bold" stroke-width="0.12" textLength="78.6" lengthAdjust="spacingAndGlyphs">(f) Bridge 3: FFT</text>
<text x="431.15" y="518.50" font-family="'Liberation Serif', 'Times New Roman', serif" font-size="11" text-anchor="middle" fill="#262626" stroke="#262626" stroke-width="0.12" textLength="82.8" lengthAdjust="spacingAndGlyphs">Frequency - [ Hz ]</text>
<text transform="translate(294.50,429.45) rotate(-90)" x="0" y="0" font-family="'Liberation Serif', 'Times New Roman', serif" font-size="11" text-anchor="middle" fill="#262626" stroke="#262626" stroke-width="0.12" textLength="103.6" lengthAdjust="spacingAndGlyphs">Displacement - [ mm ]</text>
<rect x="405.40" y="378.60" width="130.00" height="14.40" fill="#ffffff" stroke="#9a9a9a" stroke-width="1"/>
<line x1="408.00" y1="385.80" x2="430.10" y2="385.80" stroke="#ff4a6a" stroke-width="1.0" stroke-opacity="0.85"/>
<text x="432.60" y="389.20" font-family="'Liberation Sans', Arial, Helvetica, sans-serif" font-size="9.4" text-anchor="start" fill="#262626" stroke="#262626" stroke-width="0.15" textLength="36.4" lengthAdjust="spacingAndGlyphs">Dynamic</text>
<line x1="474.10" y1="385.80" x2="497.00" y2="385.80" stroke="#6248ff" stroke-width="1.0" stroke-opacity="0.75"/>
<text x="498.30" y="389.20" font-family="'Liberation Sans', Arial, Helvetica, sans-serif" font-size="9.4" text-anchor="start" fill="#262626" stroke="#262626" stroke-width="0.15" textLength="33.6" lengthAdjust="spacingAndGlyphs">Q-Static</text>
<rect x="344.10" y="381.70" width="36.20" height="20.50" fill="#fafafe" stroke="#a8a8a8" stroke-width="1"/>
<text x="347.10" y="393.70" font-family="'Liberation Sans', Arial, Helvetica, sans-serif" font-size="9" fill="#404040" stroke="#404040" stroke-width="0.1">X</text>
<text x="355.60" y="393.70" font-family="'Liberation Serif', 'Times New Roman', serif" font-size="9.6" font-weight="bold" fill="#0a8cf0" stroke="#0a8cf0" stroke-width="0.2" textLength="20.3" lengthAdjust="spacingAndGlyphs">1.448</text>
<circle cx="343.37" cy="404.77" r="1.5" fill="#111"/>
<line x1="361.57" y1="549.10" x2="361.57" y2="663.00" stroke="#f6f6f6" stroke-width="1.0" />
<line x1="384.42" y1="549.10" x2="384.42" y2="663.00" stroke="#f6f6f6" stroke-width="1.0" />
<line x1="400.64" y1="549.10" x2="400.64" y2="663.00" stroke="#f6f6f6" stroke-width="1.0" />
<line x1="413.22" y1="549.10" x2="413.22" y2="663.00" stroke="#f6f6f6" stroke-width="1.0" />
<line x1="423.49" y1="549.10" x2="423.49" y2="663.00" stroke="#f6f6f6" stroke-width="1.0" />
<line x1="432.18" y1="549.10" x2="432.18" y2="663.00" stroke="#f6f6f6" stroke-width="1.0" />
<line x1="439.71" y1="549.10" x2="439.71" y2="663.00" stroke="#f6f6f6" stroke-width="1.0" />
<line x1="446.35" y1="549.10" x2="446.35" y2="663.00" stroke="#f6f6f6" stroke-width="1.0" />
<line x1="491.35" y1="549.10" x2="491.35" y2="663.00" stroke="#f6f6f6" stroke-width="1.0" />
<line x1="514.21" y1="549.10" x2="514.21" y2="663.00" stroke="#f6f6f6" stroke-width="1.0" />
<line x1="530.42" y1="549.10" x2="530.42" y2="663.00" stroke="#f6f6f6" stroke-width="1.0" />
<line x1="543.00" y1="549.10" x2="543.00" y2="663.00" stroke="#f6f6f6" stroke-width="1.0" />
<line x1="543.00" y1="549.10" x2="543.00" y2="663.00" stroke="#f6f6f6" stroke-width="1.0" />
<line x1="452.28" y1="549.10" x2="452.28" y2="663.00" stroke="#f0f0f0" stroke-width="1.0" />
<line x1="322.50" y1="640.22" x2="543.00" y2="640.22" stroke="#f0f0f0" stroke-width="1.0" />
<line x1="322.50" y1="617.44" x2="543.00" y2="617.44" stroke="#f0f0f0" stroke-width="1.0" />
<line x1="322.50" y1="594.66" x2="543.00" y2="594.66" stroke="#f0f0f0" stroke-width="1.0" />
<line x1="322.50" y1="571.88" x2="543.00" y2="571.88" stroke="#f0f0f0" stroke-width="1.0" />
<line x1="345.35" y1="549.10" x2="345.35" y2="663.00" stroke="#a6a6a6" stroke-width="1.0" />
<line x1="384.42" y1="549.10" x2="384.42" y2="663.00" stroke="#a6a6a6" stroke-width="1.0" />
<line x1="407.28" y1="549.10" x2="407.28" y2="663.00" stroke="#a6a6a6" stroke-width="1.0" />
<line x1="423.49" y1="549.10" x2="423.49" y2="663.00" stroke="#a6a6a6" stroke-width="1.0" />
<line x1="436.07" y1="549.10" x2="436.07" y2="663.00" stroke="#a6a6a6" stroke-width="1.0" />
<line x1="446.35" y1="549.10" x2="446.35" y2="663.00" stroke="#a6a6a6" stroke-width="1.0" />
<line x1="455.03" y1="549.10" x2="455.03" y2="663.00" stroke="#a6a6a6" stroke-width="1.0" />
<line x1="462.56" y1="549.10" x2="462.56" y2="663.00" stroke="#a6a6a6" stroke-width="1.0" />
<line x1="469.20" y1="549.10" x2="469.20" y2="663.00" stroke="#a6a6a6" stroke-width="1.0" />
<line x1="475.14" y1="549.10" x2="475.14" y2="663.00" stroke="#a6a6a6" stroke-width="1.0" />
<clipPath id="c10"><rect x="322.50" y="548.10" width="220.50" height="115.40"/></clipPath>
<polyline points="314.79,649.33 322.32,650.47 328.96,655.03 334.90,651.61 340.27,648.19 345.17,568.92 349.68,654.12 353.86,658.44 357.75,661.18 361.39,663.00 368.03,660.27 371.07,659.58 373.97,659.36 379.34,660.72 381.84,661.18 384.24,657.08 386.54,663.00 388.75,662.10 390.88,662.27 394.91,662.15 396.82,662.28 398.67,662.15 400.46,662.18 402.19,661.95 403.87,662.26 405.51,662.37 407.10,662.15 408.64,662.84 410.14,662.04 411.61,661.97 413.03,662.48 414.43,662.41 415.78,662.58 418.41,661.85 419.67,662.39 420.91,662.14 422.12,662.03 424.47,662.23 425.61,661.18 426.73,662.84 427.82,660.27 428.90,659.58 429.95,659.81 430.98,660.72 432.00,661.96 433.00,662.20 433.98,661.98 434.94,662.11 435.89,662.04 436.82,662.63 437.74,661.91 438.64,662.31 440.40,662.19 441.26,662.50 442.11,662.42 442.94,662.50 443.77,661.94 444.58,662.09 445.38,658.44 446.17,662.33 446.94,662.19 447.71,662.28 448.47,662.04 449.21,662.17 449.95,662.12 450.68,662.75 451.39,662.46 452.10,662.67 452.80,662.29 453.50,662.05 454.18,662.74 454.85,657.30 455.52,662.53 456.18,662.24 456.83,662.49 457.48,662.08 458.11,661.86 458.74,662.74 459.37,661.91 459.98,662.56 460.59,661.97 461.19,662.37 461.79,662.34 462.38,662.69 462.96,662.21 463.54,662.44 464.11,662.48 464.68,662.03 465.24,661.93 465.80,662.48 466.89,662.18 467.97,662.37 468.49,662.68 469.02,662.34 469.54,662.52 470.05,662.53 470.56,661.97 471.07,662.26 471.57,662.32 472.07,662.62 472.56,662.39 473.53,662.57 474.01,662.38 475.43,662.80 475.89,662.48 476.35,662.33 476.81,662.69 477.26,662.66 478.15,662.37 478.60,662.44 479.03,662.84 479.47,661.77 479.90,662.09 480.33,662.65 480.76,662.19 481.18,662.52 481.60,662.71 482.01,662.15 482.43,662.07 482.84,662.69 483.24,661.87 483.65,662.54 484.05,662.70 484.45,662.05 484.84,662.17 485.23,662.90 485.62,662.11 486.01,661.88 486.40,662.27 487.16,662.33 487.54,662.55 488.28,662.21 488.65,662.49 489.02,662.61 489.38,661.85 489.75,662.68 490.46,662.63 490.82,662.12 491.52,662.39 491.87,661.92 492.22,662.74 492.56,662.04 492.91,662.04 493.25,662.10 493.92,662.84 494.26,662.68 494.59,662.10 494.92,662.62 495.25,662.59 495.58,661.95 495.90,662.31 496.55,662.11 496.86,661.90 497.18,662.59 497.50,662.15 497.81,662.33 498.12,662.15 498.43,662.32 498.74,662.22 499.36,661.85 499.66,662.62 499.96,662.65 500.56,661.94 500.86,662.36 501.16,662.48 501.45,662.19 501.74,662.17 502.03,662.46 502.61,661.93 502.90,662.27 503.18,661.90 503.47,661.97 503.75,662.75 504.03,662.72 504.31,662.10 504.59,662.60 504.87,661.94 505.14,662.29 505.42,662.13 506.23,662.07 506.77,662.29 507.03,662.85 507.30,662.48 507.56,662.48 507.83,662.83 508.09,662.25 508.35,662.55 508.61,661.97 508.87,662.82 509.12,662.55 509.38,662.43 509.63,661.85 509.89,662.48 510.14,662.02 510.39,662.39 510.64,662.59 510.89,662.34 511.14,662.41 511.38,661.88 511.63,662.47 512.12,661.93 512.36,662.48 512.60,662.64 512.84,662.05 513.08,661.95 513.32,662.26 513.56,662.07 513.79,662.82 514.03,661.99 514.26,662.51 514.49,662.14 514.73,662.15 514.96,662.44 515.19,662.25 515.42,662.40 515.65,662.17 515.87,662.52 516.10,662.64 516.33,662.52 516.55,662.06 516.78,662.14 517.00,662.36 517.22,662.28 517.44,661.85 517.66,662.45 517.88,662.72 518.10,662.68 518.54,661.90 518.75,662.31 519.19,662.37 519.40,661.94 519.61,662.81 519.82,662.71 520.04,662.01 520.25,661.99 520.46,662.25 520.67,662.74 520.87,661.80 521.08,662.53 521.29,662.40 521.49,662.68 521.70,662.32 521.90,662.48 522.31,661.91 522.51,662.23 522.92,662.11 523.12,661.91 523.32,662.35 523.51,662.42 523.71,662.18 524.11,662.79 524.30,662.06 524.69,662.40 524.89,662.05 525.08,662.27 525.27,662.32 525.47,662.33 525.66,662.21 526.04,662.15 526.23,662.38 526.60,662.04 526.79,662.37 526.98,661.83 527.35,662.38 527.54,661.87 527.72,661.96 527.90,662.57 528.09,662.31 528.27,661.79 528.45,661.88 528.63,662.38 528.81,662.55 529.00,661.89 529.18,662.37 529.35,662.18 529.53,662.82 529.71,662.29 529.89,662.50 530.24,661.94 530.42,662.26 530.59,662.00 530.77,662.09 530.94,662.41 531.12,662.15 531.29,662.05 531.46,662.29 531.81,662.33 531.98,662.27 532.15,662.04 532.32,662.24 532.49,661.95 532.66,662.08 532.82,662.05 533.16,662.38 533.33,662.23 533.49,662.44 533.66,662.42 533.82,662.24 534.15,662.58 534.32,662.07 534.48,662.20 534.65,662.13 534.81,662.22 535.13,662.13 535.29,661.84 535.45,661.98 535.61,662.47 535.77,661.84 535.93,662.28 536.09,661.87 536.25,662.30 536.41,662.14 536.57,662.64 536.72,662.41 536.88,662.70 537.19,662.31 537.35,662.69 537.50,662.81 537.66,662.42 537.81,662.31 538.12,662.67 538.27,662.36 538.43,662.30 538.73,662.43 538.88,662.19 539.03,662.22 539.18,662.61 539.48,661.91 539.63,662.61 539.78,662.16 539.93,662.36 540.08,662.27 540.22,661.95 540.37,662.08 540.52,662.06 540.67,662.67 540.81,661.89 540.96,662.39 541.10,662.61 541.25,662.61 541.54,662.07 541.68,662.57 541.82,662.25 541.97,662.64 542.11,661.83 542.25,661.79 542.40,662.51 542.54,662.61 542.82,662.17 542.96,662.31 543.10,662.06" fill="none" stroke="#ff4a6a" stroke-opacity="0.85" stroke-width="1.0" stroke-linejoin="round" clip-path="url(#c10)"/>
<polyline points="314.79,649.33 322.32,650.47 328.96,655.03 334.90,651.61 340.27,648.19 345.17,568.92 349.68,654.12 353.86,658.44 357.75,661.18 361.39,663.00 368.03,660.27 371.07,659.58 373.97,659.36 379.34,660.72 381.84,661.18 384.24,657.08 386.54,663.00 388.75,662.09 390.88,662.41 392.93,662.18 394.91,662.07 398.67,662.28 400.46,662.14 402.19,662.17 403.87,662.34 407.10,662.15 408.64,662.61 410.14,662.22 411.61,662.16 413.03,662.39 414.43,662.31 415.78,662.50 418.41,661.99 419.67,662.45 420.91,662.34 422.12,662.05 423.31,662.28 424.47,662.37 425.61,662.20 426.73,662.64 427.82,662.55 428.90,662.06 429.95,662.55 430.98,662.64 432.00,662.03 433.00,662.14 433.98,661.99 434.94,662.14 435.89,662.03 436.82,662.42 437.74,662.14 438.64,662.55 439.53,662.10 440.40,662.16 441.26,662.53 442.94,662.54 443.77,662.10 444.58,662.20 445.38,662.47 446.17,662.21 447.71,662.19 448.47,661.98 449.21,662.08 450.68,662.63 451.39,662.50 452.10,662.61 452.80,662.12 453.50,662.12 454.18,662.51 454.85,662.01 455.52,662.44 456.83,662.26 457.48,661.98 458.11,662.05 458.74,662.56 459.37,662.05 459.98,662.52 460.59,662.11 461.19,662.20 461.79,662.55 462.38,662.62 462.96,662.02 463.54,662.65 464.11,662.56 464.68,661.99 465.24,662.18 466.35,662.35 466.89,662.27 467.43,662.34 467.97,662.61 469.54,662.32 470.05,662.39 470.56,662.17 471.57,662.13 472.07,662.34 472.56,662.39 473.05,662.64 474.01,662.12 474.49,662.42 475.43,662.55 475.89,662.23 476.35,662.32 476.81,662.63 477.26,662.49 477.71,662.61 478.60,662.48 479.03,662.61 479.47,661.98 480.33,662.58 480.76,662.30 481.60,662.53 482.43,662.27 482.84,662.59 483.24,662.01 484.05,662.61 484.45,662.19 484.84,662.01 485.23,662.65 485.62,662.19 486.01,662.09 486.78,662.61 487.16,662.14 487.54,662.43 487.91,662.45 488.28,662.13 488.65,662.65 489.02,662.49 489.38,662.04 489.75,662.55 490.11,662.61 490.46,662.59 490.82,662.30 491.17,662.40 491.52,662.31 491.87,662.03 492.22,662.49 492.56,662.13 492.91,662.26 493.25,662.23 493.59,662.64 494.26,662.55 494.59,662.36 495.25,662.45 495.58,662.07 496.22,662.43 496.86,662.06 497.18,662.53 497.50,662.39 497.81,662.51 498.12,662.31 498.43,662.57 498.74,662.43 499.05,661.98 499.36,662.03 499.66,662.65 500.26,662.10 500.56,662.09 500.86,662.44 501.16,662.21 501.45,662.14 502.03,662.58 502.32,662.12 502.90,662.27 503.47,661.98 503.75,662.51 504.03,662.65 504.31,662.23 504.59,662.53 504.87,662.07 505.14,662.14 505.42,662.34 505.96,662.01 506.23,662.16 506.50,662.47 506.77,662.34 507.03,662.60 507.30,662.23 507.83,662.56 508.35,662.44 508.61,662.10 508.87,662.65 509.38,662.48 509.63,662.09 509.89,662.58 510.14,661.99 510.64,662.37 510.89,662.23 511.38,662.12 511.63,662.49 511.87,662.06 512.12,662.17 512.36,662.59 512.60,662.65 512.84,662.22 513.08,662.10 513.32,662.20 513.56,662.11 513.79,662.66 514.03,662.03 514.26,662.41 514.49,662.38 514.73,662.12 515.19,662.36 515.42,662.60 515.65,662.04 516.10,662.64 516.33,662.30 516.55,662.20 516.78,662.34 517.00,662.24 517.22,662.53 517.44,661.98 517.88,662.62 518.10,662.49 518.32,662.08 518.75,662.28 518.97,662.48 519.19,662.16 519.40,662.10 519.61,662.58 519.82,662.61 520.04,662.14 520.25,662.22 520.46,662.15 520.67,662.53 520.87,662.04 521.08,662.35 521.29,662.13 521.49,662.51 521.70,662.40 522.11,662.38 522.31,662.06 522.51,662.28 522.72,662.11 522.92,662.23 523.12,662.13 523.51,662.64 523.71,662.31 523.91,662.58 524.11,662.65 524.30,662.08 524.50,662.28 524.89,662.27 525.27,662.49 525.85,662.17 526.23,662.48 526.42,662.22 526.60,662.18 526.79,662.53 526.98,662.03 527.17,662.12 527.35,662.46 527.54,662.07 527.72,662.17 527.90,662.49 528.09,662.52 528.27,661.99 528.45,662.07 528.63,662.60 528.81,662.55 529.00,662.01 529.18,662.20 529.35,662.24 529.53,662.62 529.71,662.17 529.89,662.29 530.24,662.14 530.59,662.21 530.77,662.02 531.12,662.35 531.29,662.08 531.81,662.41 531.98,662.41 532.15,662.02 532.32,662.21 532.66,662.33 532.99,661.99 533.16,662.54 533.33,662.30 533.49,662.21 533.66,662.50 533.82,662.42 534.15,662.58 534.32,662.30 534.48,662.39 534.65,662.12 534.81,662.20 534.97,662.12 535.13,662.39 535.29,661.98 535.61,662.43 535.77,662.06 535.93,662.19 536.09,662.02 536.25,662.45 536.41,662.03 536.72,662.60 536.88,662.64 537.04,662.34 537.19,662.24 537.35,662.48 537.50,662.57 537.81,662.53 537.97,662.62 538.27,662.57 538.58,662.26 538.73,662.24 538.88,662.42 539.18,662.48 539.33,662.09 539.48,662.09 539.63,662.35 539.78,662.27 539.93,662.45 540.22,662.05 540.37,662.02 540.67,662.46 540.81,662.12 540.96,662.50 541.10,662.49 541.39,662.28 541.82,662.27 541.97,662.65 542.11,662.06 542.25,662.00 542.40,662.66 542.82,662.09 542.96,662.55 543.10,662.29" fill="none" stroke="#6248ff" stroke-opacity="0.75" stroke-width="1.0" stroke-linejoin="round" clip-path="url(#c10)"/>
<line x1="322.50" y1="549.10" x2="322.50" y2="664.50" stroke="#939393" stroke-width="1.0" />
<line x1="321.00" y1="663.00" x2="543.00" y2="663.00" stroke="#939393" stroke-width="1.0" />
<line x1="320.50" y1="663.00" x2="322.50" y2="663.00" stroke="#939393" stroke-width="1.0" />
<text x="316.30" y="667.20" font-family="'Liberation Sans', Arial, Helvetica, sans-serif" font-size="10" text-anchor="end" fill="#262626" stroke="#262626" stroke-width="0.28" >0</text>
<line x1="320.50" y1="640.22" x2="322.50" y2="640.22" stroke="#939393" stroke-width="1.0" />
<text x="316.30" y="644.42" font-family="'Liberation Sans', Arial, Helvetica, sans-serif" font-size="10" text-anchor="end" fill="#262626" stroke="#262626" stroke-width="0.28" >0.1</text>
<line x1="320.50" y1="617.44" x2="322.50" y2="617.44" stroke="#939393" stroke-width="1.0" />
<text x="316.30" y="621.64" font-family="'Liberation Sans', Arial, Helvetica, sans-serif" font-size="10" text-anchor="end" fill="#262626" stroke="#262626" stroke-width="0.28" >0.2</text>
<line x1="320.50" y1="594.66" x2="322.50" y2="594.66" stroke="#939393" stroke-width="1.0" />
<text x="316.30" y="598.86" font-family="'Liberation Sans', Arial, Helvetica, sans-serif" font-size="10" text-anchor="end" fill="#262626" stroke="#262626" stroke-width="0.28" >0.3</text>
<line x1="320.50" y1="571.88" x2="322.50" y2="571.88" stroke="#939393" stroke-width="1.0" />
<text x="316.30" y="576.08" font-family="'Liberation Sans', Arial, Helvetica, sans-serif" font-size="10" text-anchor="end" fill="#262626" stroke="#262626" stroke-width="0.28" >0.4</text>
<line x1="361.57" y1="663.00" x2="361.57" y2="664.30" stroke="#939393" stroke-width="1.0" />
<line x1="384.42" y1="663.00" x2="384.42" y2="664.30" stroke="#939393" stroke-width="1.0" />
<line x1="400.64" y1="663.00" x2="400.64" y2="664.30" stroke="#939393" stroke-width="1.0" />
<line x1="413.22" y1="663.00" x2="413.22" y2="664.30" stroke="#939393" stroke-width="1.0" />
<line x1="423.49" y1="663.00" x2="423.49" y2="664.30" stroke="#939393" stroke-width="1.0" />
<line x1="432.18" y1="663.00" x2="432.18" y2="664.30" stroke="#939393" stroke-width="1.0" />
<line x1="439.71" y1="663.00" x2="439.71" y2="664.30" stroke="#939393" stroke-width="1.0" />
<line x1="446.35" y1="663.00" x2="446.35" y2="664.30" stroke="#939393" stroke-width="1.0" />
<line x1="491.35" y1="663.00" x2="491.35" y2="664.30" stroke="#939393" stroke-width="1.0" />
<line x1="514.21" y1="663.00" x2="514.21" y2="664.30" stroke="#939393" stroke-width="1.0" />
<line x1="530.42" y1="663.00" x2="530.42" y2="664.30" stroke="#939393" stroke-width="1.0" />
<line x1="543.00" y1="663.00" x2="543.00" y2="664.30" stroke="#939393" stroke-width="1.0" />
<line x1="322.50" y1="663.00" x2="322.50" y2="665.00" stroke="#939393" stroke-width="1.0" />
<text x="314.00" y="682.30" font-family="'Liberation Sans', Arial, Helvetica, sans-serif" font-size="10" fill="#262626" stroke="#262626" stroke-width="0.28">10</text>
<text x="325.90" y="676.30" font-family="'Liberation Sans', Arial, Helvetica, sans-serif" font-size="7.9" fill="#262626" stroke="#262626" stroke-width="0.25">0</text>
<line x1="452.28" y1="663.00" x2="452.28" y2="665.00" stroke="#939393" stroke-width="1.0" />
<text x="443.78" y="682.30" font-family="'Liberation Sans', Arial, Helvetica, sans-serif" font-size="10" fill="#262626" stroke="#262626" stroke-width="0.28">10</text>
<text x="455.68" y="676.30" font-family="'Liberation Sans', Arial, Helvetica, sans-serif" font-size="7.9" fill="#262626" stroke="#262626" stroke-width="0.25">1</text>
<text x="432.25" y="541.10" font-family="'Liberation Serif', 'Times New Roman', serif" font-size="10.5" text-anchor="middle" fill="#262626" stroke="#262626" font-weight="bold" stroke-width="0.12" textLength="78.6" lengthAdjust="spacingAndGlyphs">(h) Bridge 4: FFT</text>
<text x="431.15" y="695.10" font-family="'Liberation Serif', 'Times New Roman', serif" font-size="11" text-anchor="middle" fill="#262626" stroke="#262626" stroke-width="0.12" textLength="82.8" lengthAdjust="spacingAndGlyphs">Frequency - [ Hz ]</text>
<text transform="translate(294.50,606.05) rotate(-90)" x="0" y="0" font-family="'Liberation Serif', 'Times New Roman', serif" font-size="11" text-anchor="middle" fill="#262626" stroke="#262626" stroke-width="0.12" textLength="103.6" lengthAdjust="spacingAndGlyphs">Displacement - [ mm ]</text>
<rect x="405.40" y="555.20" width="130.00" height="14.40" fill="#ffffff" stroke="#9a9a9a" stroke-width="1"/>
<line x1="408.00" y1="562.40" x2="430.10" y2="562.40" stroke="#ff4a6a" stroke-width="1.0" stroke-opacity="0.85"/>
<text x="432.60" y="565.80" font-family="'Liberation Sans', Arial, Helvetica, sans-serif" font-size="9.4" text-anchor="start" fill="#262626" stroke="#262626" stroke-width="0.15" textLength="36.4" lengthAdjust="spacingAndGlyphs">Dynamic</text>
<line x1="474.10" y1="562.40" x2="497.00" y2="562.40" stroke="#6248ff" stroke-width="1.0" stroke-opacity="0.75"/>
<text x="498.30" y="565.80" font-family="'Liberation Sans', Arial, Helvetica, sans-serif" font-size="9.4" text-anchor="start" fill="#262626" stroke="#262626" stroke-width="0.15" textLength="33.6" lengthAdjust="spacingAndGlyphs">Q-Static</text>
<rect x="345.60" y="568.90" width="36.40" height="20.20" fill="#fafafe" stroke="#a8a8a8" stroke-width="1"/>
<text x="348.60" y="580.90" font-family="'Liberation Sans', Arial, Helvetica, sans-serif" font-size="9" fill="#404040" stroke="#404040" stroke-width="0.1">X</text>
<text x="357.10" y="580.90" font-family="'Liberation Serif', 'Times New Roman', serif" font-size="9.6" font-weight="bold" fill="#0a8cf0" stroke="#0a8cf0" stroke-width="0.2" textLength="20.3" lengthAdjust="spacingAndGlyphs">1.495</text>
<circle cx="345.17" cy="568.92" r="1.5" fill="#111"/>
<line x1="361.57" y1="725.70" x2="361.57" y2="839.60" stroke="#f6f6f6" stroke-width="1.0" />
<line x1="384.42" y1="725.70" x2="384.42" y2="839.60" stroke="#f6f6f6" stroke-width="1.0" />
<line x1="400.64" y1="725.70" x2="400.64" y2="839.60" stroke="#f6f6f6" stroke-width="1.0" />
<line x1="413.22" y1="725.70" x2="413.22" y2="839.60" stroke="#f6f6f6" stroke-width="1.0" />
<line x1="423.49" y1="725.70" x2="423.49" y2="839.60" stroke="#f6f6f6" stroke-width="1.0" />
<line x1="432.18" y1="725.70" x2="432.18" y2="839.60" stroke="#f6f6f6" stroke-width="1.0" />
<line x1="439.71" y1="725.70" x2="439.71" y2="839.60" stroke="#f6f6f6" stroke-width="1.0" />
<line x1="446.35" y1="725.70" x2="446.35" y2="839.60" stroke="#f6f6f6" stroke-width="1.0" />
<line x1="491.35" y1="725.70" x2="491.35" y2="839.60" stroke="#f6f6f6" stroke-width="1.0" />
<line x1="514.21" y1="725.70" x2="514.21" y2="839.60" stroke="#f6f6f6" stroke-width="1.0" />
<line x1="530.42" y1="725.70" x2="530.42" y2="839.60" stroke="#f6f6f6" stroke-width="1.0" />
<line x1="543.00" y1="725.70" x2="543.00" y2="839.60" stroke="#f6f6f6" stroke-width="1.0" />
<line x1="543.00" y1="725.70" x2="543.00" y2="839.60" stroke="#f6f6f6" stroke-width="1.0" />
<line x1="452.28" y1="725.70" x2="452.28" y2="839.60" stroke="#f0f0f0" stroke-width="1.0" />
<line x1="322.50" y1="811.12" x2="543.00" y2="811.12" stroke="#f0f0f0" stroke-width="1.0" />
<line x1="322.50" y1="782.65" x2="543.00" y2="782.65" stroke="#f0f0f0" stroke-width="1.0" />
<line x1="322.50" y1="754.17" x2="543.00" y2="754.17" stroke="#f0f0f0" stroke-width="1.0" />
<line x1="322.50" y1="725.70" x2="543.00" y2="725.70" stroke="#f0f0f0" stroke-width="1.0" />
<line x1="345.35" y1="725.70" x2="345.35" y2="839.60" stroke="#a6a6a6" stroke-width="1.0" />
<line x1="384.42" y1="725.70" x2="384.42" y2="839.60" stroke="#a6a6a6" stroke-width="1.0" />
<line x1="407.28" y1="725.70" x2="407.28" y2="839.60" stroke="#a6a6a6" stroke-width="1.0" />
<line x1="423.49" y1="725.70" x2="423.49" y2="839.60" stroke="#a6a6a6" stroke-width="1.0" />
<line x1="436.07" y1="725.70" x2="436.07" y2="839.60" stroke="#a6a6a6" stroke-width="1.0" />
<line x1="446.35" y1="725.70" x2="446.35" y2="839.60" stroke="#a6a6a6" stroke-width="1.0" />
<line x1="455.03" y1="725.70" x2="455.03" y2="839.60" stroke="#a6a6a6" stroke-width="1.0" />
<line x1="462.56" y1="725.70" x2="462.56" y2="839.60" stroke="#a6a6a6" stroke-width="1.0" />
<line x1="469.20" y1="725.70" x2="469.20" y2="839.60" stroke="#a6a6a6" stroke-width="1.0" />
<line x1="475.14" y1="725.70" x2="475.14" y2="839.60" stroke="#a6a6a6" stroke-width="1.0" />
<clipPath id="c11"><rect x="322.50" y="724.70" width="220.50" height="115.40"/></clipPath>
<polyline points="314.88,833.90 323.57,835.04 331.10,839.03 337.74,831.06 343.68,767.27 349.05,796.89 353.95,820.81 358.46,827.07 362.64,830.49 366.53,831.63 370.17,831.63 373.58,831.06 376.81,829.92 379.85,825.93 382.74,821.38 385.49,836.41 388.12,838.46 390.62,839.03 399.66,837.89 403.69,836.75 405.60,831.63 407.45,838.46 409.24,839.12 410.97,838.87 412.65,839.21 414.29,839.36 415.88,838.84 417.42,839.30 418.92,839.07 421.81,839.19 423.21,838.88 424.56,839.02 425.89,838.78 427.19,839.04 428.45,838.94 429.69,839.40 430.90,838.78 432.09,838.90 433.25,839.13 434.39,839.12 435.51,838.79 436.60,838.94 438.73,839.07 439.76,838.90 440.78,839.04 441.78,838.85 443.72,839.17 445.60,838.77 446.52,839.15 447.42,838.92 448.31,839.21 450.04,839.22 450.89,839.05 451.72,839.12 452.55,839.34 453.36,833.90 454.16,839.05 454.94,839.08 456.49,838.94 457.25,839.30 458.73,838.98 459.46,839.39 460.17,838.83 460.88,839.20 461.58,838.91 462.27,839.07 462.96,838.95 463.63,839.18 464.30,839.27 464.96,838.81 465.61,839.04 466.89,838.80 467.52,832.77 468.14,838.90 469.37,838.76 469.97,839.03 470.57,839.12 471.74,839.00 472.32,839.13 472.89,838.78 473.46,836.18 474.02,839.06 474.58,838.84 475.13,838.92 475.67,839.16 476.21,839.05 476.74,839.18 477.27,839.06 478.32,839.28 478.83,839.19 479.34,839.22 479.85,838.79 480.35,838.96 480.85,839.31 481.34,838.90 482.31,839.13 482.79,838.92 483.27,839.20 483.74,839.00 484.67,838.88 485.13,838.94 485.59,838.84 486.49,838.84 486.93,839.19 487.37,839.24 487.81,838.91 488.25,839.09 489.11,838.92 489.53,838.97 489.96,839.23 490.79,839.14 491.20,839.18 491.61,838.94 492.02,838.97 492.43,839.37 493.62,838.88 494.40,838.80 495.18,839.14 495.94,838.88 496.31,838.99 496.69,838.81 497.43,838.90 497.80,839.36 498.16,838.92 498.52,838.98 498.89,838.80 499.60,839.03 499.95,838.98 501.34,839.03 501.69,839.41 502.03,838.85 502.70,838.96 503.04,838.65 503.37,838.71 503.70,838.88 504.03,839.31 504.36,839.12 505.00,839.17 505.32,838.68 505.64,839.00 505.96,839.08 506.28,839.31 506.59,839.07 506.90,839.35 507.21,839.07 507.83,839.01 508.14,838.76 508.44,839.18 508.74,838.98 509.04,839.06 509.34,838.92 509.93,839.22 510.23,838.81 510.52,839.32 510.81,838.82 511.10,839.04 511.68,839.13 511.96,838.84 512.25,838.96 512.53,838.70 512.81,839.09 513.37,838.87 513.65,838.90 513.92,838.78 514.20,839.21 514.74,838.89 515.01,839.12 515.28,838.85 515.55,838.92 515.81,838.77 516.08,839.31 516.61,839.06 516.87,838.79 517.13,839.06 517.39,839.01 517.64,839.17 517.90,839.00 518.16,839.14 518.66,838.75 519.17,838.72 519.42,839.25 519.67,839.05 520.16,839.19 520.41,839.08 520.65,839.14 520.90,838.75 521.14,838.88 521.38,838.71 521.62,839.21 521.86,838.90 522.10,838.91 522.57,839.15 522.81,838.83 523.04,839.18 523.27,839.01 523.51,839.16 523.74,838.85 523.97,838.96 524.20,838.85 524.43,839.34 524.65,839.09 524.88,839.07 525.11,838.78 525.33,838.94 525.56,839.27 525.78,838.82 526.00,839.12 526.22,838.84 526.66,839.32 527.10,838.82 527.32,839.16 527.53,839.13 527.75,839.33 527.96,839.02 528.39,839.05 528.60,839.18 528.81,838.94 529.03,838.94 529.24,839.13 529.44,838.99 529.65,839.11 529.86,839.03 530.27,839.15 530.48,839.02 530.68,838.71 530.89,839.22 531.09,838.91 531.29,839.06 531.70,839.14 531.90,838.70 532.10,839.21 532.49,838.89 532.69,839.00 533.08,838.99 533.28,838.87 533.47,838.91 533.67,839.28 534.05,838.77 534.24,839.43 534.44,838.94 534.63,839.09 534.82,839.12 535.01,838.82 535.20,839.08 535.38,838.92 535.94,839.16 536.50,839.08 536.68,838.68 536.87,839.32 537.05,838.97 537.23,839.04 537.41,838.86 537.77,839.04 537.95,839.25 538.13,838.92 538.31,838.94 538.49,839.33 538.67,839.04 539.02,838.93 539.20,838.74 539.37,838.84 539.72,839.30 539.89,839.05 540.24,839.04 540.41,838.91 540.58,839.14 540.76,839.01 540.93,839.12 541.27,839.09 541.43,838.67 541.60,839.16 541.77,839.03 541.94,839.04 542.27,839.24 542.44,838.82 542.60,838.87 542.77,839.37 542.93,838.87 543.10,839.05" fill="none" stroke="#ff4a6a" stroke-opacity="0.85" stroke-width="1.0" stroke-linejoin="round" clip-path="url(#c11)"/>
<polyline points="314.88,833.90 323.57,835.04 331.10,839.03 337.74,831.06 343.68,767.27 349.05,796.89 353.95,820.81 358.46,827.07 362.64,830.49 366.53,831.63 370.17,831.63 373.58,831.06 376.81,829.92 379.85,825.93 382.74,821.38 385.49,836.41 388.12,838.46 390.62,839.03 399.66,837.89 403.69,836.75 405.60,831.63 407.45,838.46 409.24,838.94 410.97,838.89 414.29,839.24 415.88,839.00 417.42,839.19 418.92,838.93 420.39,839.10 421.81,839.05 423.21,838.81 424.56,838.90 425.89,838.87 427.19,839.01 428.45,838.83 429.69,839.25 430.90,838.85 432.09,839.08 433.25,839.15 435.51,838.83 436.60,839.11 437.68,838.84 438.73,839.05 439.76,838.82 440.78,838.91 441.78,838.90 442.76,839.09 443.72,838.99 444.67,839.15 445.60,838.89 446.52,839.14 447.42,838.95 448.31,839.22 450.04,839.10 453.36,839.24 454.16,839.10 455.72,839.07 456.49,838.85 457.25,839.22 457.99,838.97 459.46,839.25 460.17,838.91 460.88,839.07 461.58,838.81 462.27,838.91 462.96,838.86 464.30,839.10 464.96,838.87 465.61,839.07 466.26,838.86 466.89,838.84 467.52,839.10 468.14,838.93 469.37,838.80 469.97,839.05 470.57,839.17 471.74,839.08 472.32,839.23 472.89,838.94 473.46,839.23 474.58,838.80 475.13,839.07 475.67,839.16 476.21,839.07 477.27,839.17 478.83,839.05 479.34,839.13 480.35,838.87 480.85,839.25 481.34,839.05 481.83,838.98 482.31,839.04 482.79,838.96 483.27,839.16 483.74,838.83 484.20,838.80 485.13,838.99 485.59,838.88 486.04,838.95 486.49,838.86 487.37,839.13 487.81,839.00 488.25,839.03 488.68,839.16 489.11,838.95 489.53,838.93 489.96,839.14 490.38,839.18 490.79,838.99 491.20,839.05 491.61,838.93 492.02,838.92 492.43,839.25 492.83,839.16 493.23,838.86 493.62,838.95 494.40,838.92 495.18,839.11 495.56,839.13 495.94,838.98 496.31,838.98 496.69,838.84 497.06,838.97 497.43,839.00 497.80,839.25 498.16,838.96 498.52,838.86 499.60,839.10 499.95,838.81 500.30,839.12 500.65,838.90 501.00,839.03 501.34,839.00 501.69,839.25 502.03,838.89 502.37,839.05 502.70,838.83 503.04,838.82 503.70,838.95 504.03,839.18 504.68,839.09 505.00,839.18 505.32,838.83 505.64,839.06 505.96,838.94 506.28,839.18 506.59,839.00 506.90,839.22 507.21,839.14 507.52,838.89 507.83,839.06 508.14,838.89 508.44,839.02 509.34,839.09 509.64,839.01 509.93,839.13 510.23,838.88 510.52,839.15 510.81,838.93 511.10,839.09 511.39,839.01 511.68,839.19 511.96,838.84 512.25,839.11 512.53,838.82 512.81,839.18 513.37,838.97 513.65,839.00 513.92,838.87 514.20,839.23 514.47,839.06 514.74,839.01 515.28,839.00 515.55,839.08 515.81,838.81 516.08,839.17 516.61,839.05 516.87,838.82 517.13,839.14 517.39,839.15 517.64,839.01 518.41,839.02 518.66,838.90 519.17,838.86 519.42,839.09 519.67,838.95 519.91,838.98 520.16,839.16 520.41,839.03 520.65,839.06 520.90,838.81 521.14,838.99 521.38,838.89 521.62,839.05 521.86,838.88 522.10,838.84 522.33,839.19 522.57,838.98 523.04,839.02 523.27,838.87 523.51,839.07 523.74,838.86 524.20,838.95 524.43,839.17 524.88,839.10 525.11,838.83 525.33,838.86 525.56,839.25 525.78,838.83 526.00,838.97 526.22,838.83 526.44,839.10 526.66,839.17 527.10,838.85 527.32,839.04 527.53,839.01 527.75,839.23 528.18,838.97 528.39,839.05 529.03,838.88 529.24,839.20 529.44,839.12 529.65,839.20 529.86,838.94 530.27,839.06 530.48,838.87 530.68,838.81 530.89,839.04 531.09,838.95 531.49,838.93 531.70,839.11 531.90,838.81 532.10,839.17 532.29,839.08 532.49,838.83 532.69,839.09 532.89,838.90 533.08,839.06 533.28,839.05 533.47,838.88 533.67,839.12 534.05,838.92 534.24,839.25 534.63,838.99 534.82,839.15 535.01,838.98 535.38,838.92 535.76,838.98 535.94,839.14 536.13,839.07 536.31,839.19 536.50,839.13 536.68,838.82 536.87,839.25 537.05,838.97 537.23,839.06 537.41,838.83 537.59,839.08 537.77,839.12 537.95,839.09 538.31,838.81 538.49,839.19 539.02,838.84 539.37,838.97 539.55,839.21 539.72,839.25 539.89,838.91 540.24,839.18 540.41,838.83 540.58,839.14 540.76,838.83 541.10,839.05 541.43,838.83 541.60,839.10 541.77,838.88 542.11,838.98 542.27,839.14 542.44,838.99 542.60,839.01 542.77,839.19 542.93,838.90 543.10,839.03" fill="none" stroke="#6248ff" stroke-opacity="0.75" stroke-width="1.0" stroke-linejoin="round" clip-path="url(#c11)"/>
<line x1="322.50" y1="725.70" x2="322.50" y2="841.10" stroke="#939393" stroke-width="1.0" />
<line x1="321.00" y1="839.60" x2="543.00" y2="839.60" stroke="#939393" stroke-width="1.0" />
<line x1="320.50" y1="839.60" x2="322.50" y2="839.60" stroke="#939393" stroke-width="1.0" />
<text x="316.30" y="843.80" font-family="'Liberation Sans', Arial, Helvetica, sans-serif" font-size="10" text-anchor="end" fill="#262626" stroke="#262626" stroke-width="0.28" >0</text>
<line x1="320.50" y1="811.12" x2="322.50" y2="811.12" stroke="#939393" stroke-width="1.0" />
<text x="316.30" y="815.32" font-family="'Liberation Sans', Arial, Helvetica, sans-serif" font-size="10" text-anchor="end" fill="#262626" stroke="#262626" stroke-width="0.28" >0.5</text>
<line x1="320.50" y1="782.65" x2="322.50" y2="782.65" stroke="#939393" stroke-width="1.0" />
<text x="316.30" y="786.85" font-family="'Liberation Sans', Arial, Helvetica, sans-serif" font-size="10" text-anchor="end" fill="#262626" stroke="#262626" stroke-width="0.28" >1</text>
<line x1="320.50" y1="754.17" x2="322.50" y2="754.17" stroke="#939393" stroke-width="1.0" />
<text x="316.30" y="758.38" font-family="'Liberation Sans', Arial, Helvetica, sans-serif" font-size="10" text-anchor="end" fill="#262626" stroke="#262626" stroke-width="0.28" >1.5</text>
<line x1="320.50" y1="725.70" x2="322.50" y2="725.70" stroke="#939393" stroke-width="1.0" />
<text x="316.30" y="729.90" font-family="'Liberation Sans', Arial, Helvetica, sans-serif" font-size="10" text-anchor="end" fill="#262626" stroke="#262626" stroke-width="0.28" >2</text>
<line x1="361.57" y1="839.60" x2="361.57" y2="840.90" stroke="#939393" stroke-width="1.0" />
<line x1="384.42" y1="839.60" x2="384.42" y2="840.90" stroke="#939393" stroke-width="1.0" />
<line x1="400.64" y1="839.60" x2="400.64" y2="840.90" stroke="#939393" stroke-width="1.0" />
<line x1="413.22" y1="839.60" x2="413.22" y2="840.90" stroke="#939393" stroke-width="1.0" />
<line x1="423.49" y1="839.60" x2="423.49" y2="840.90" stroke="#939393" stroke-width="1.0" />
<line x1="432.18" y1="839.60" x2="432.18" y2="840.90" stroke="#939393" stroke-width="1.0" />
<line x1="439.71" y1="839.60" x2="439.71" y2="840.90" stroke="#939393" stroke-width="1.0" />
<line x1="446.35" y1="839.60" x2="446.35" y2="840.90" stroke="#939393" stroke-width="1.0" />
<line x1="491.35" y1="839.60" x2="491.35" y2="840.90" stroke="#939393" stroke-width="1.0" />
<line x1="514.21" y1="839.60" x2="514.21" y2="840.90" stroke="#939393" stroke-width="1.0" />
<line x1="530.42" y1="839.60" x2="530.42" y2="840.90" stroke="#939393" stroke-width="1.0" />
<line x1="543.00" y1="839.60" x2="543.00" y2="840.90" stroke="#939393" stroke-width="1.0" />
<line x1="322.50" y1="839.60" x2="322.50" y2="841.60" stroke="#939393" stroke-width="1.0" />
<text x="314.00" y="858.90" font-family="'Liberation Sans', Arial, Helvetica, sans-serif" font-size="10" fill="#262626" stroke="#262626" stroke-width="0.28">10</text>
<text x="325.90" y="852.90" font-family="'Liberation Sans', Arial, Helvetica, sans-serif" font-size="7.9" fill="#262626" stroke="#262626" stroke-width="0.25">0</text>
<line x1="452.28" y1="839.60" x2="452.28" y2="841.60" stroke="#939393" stroke-width="1.0" />
<text x="443.78" y="858.90" font-family="'Liberation Sans', Arial, Helvetica, sans-serif" font-size="10" fill="#262626" stroke="#262626" stroke-width="0.28">10</text>
<text x="455.68" y="852.90" font-family="'Liberation Sans', Arial, Helvetica, sans-serif" font-size="7.9" fill="#262626" stroke="#262626" stroke-width="0.25">1</text>
<text x="432.25" y="717.70" font-family="'Liberation Serif', 'Times New Roman', serif" font-size="10.5" text-anchor="middle" fill="#262626" stroke="#262626" font-weight="bold" stroke-width="0.12" textLength="78.6" lengthAdjust="spacingAndGlyphs">(j) Bridge 5: FFT</text>
<text x="431.15" y="871.70" font-family="'Liberation Serif', 'Times New Roman', serif" font-size="11" text-anchor="middle" fill="#262626" stroke="#262626" stroke-width="0.12" textLength="82.8" lengthAdjust="spacingAndGlyphs">Frequency - [ Hz ]</text>
<text transform="translate(294.50,782.65) rotate(-90)" x="0" y="0" font-family="'Liberation Serif', 'Times New Roman', serif" font-size="11" text-anchor="middle" fill="#262626" stroke="#262626" stroke-width="0.12" textLength="103.6" lengthAdjust="spacingAndGlyphs">Displacement - [ mm ]</text>
<rect x="405.40" y="731.80" width="130.00" height="14.40" fill="#ffffff" stroke="#9a9a9a" stroke-width="1"/>
<line x1="408.00" y1="739.00" x2="430.10" y2="739.00" stroke="#ff4a6a" stroke-width="1.0" stroke-opacity="0.85"/>
<text x="432.60" y="742.40" font-family="'Liberation Sans', Arial, Helvetica, sans-serif" font-size="9.4" text-anchor="start" fill="#262626" stroke="#262626" stroke-width="0.15" textLength="36.4" lengthAdjust="spacingAndGlyphs">Dynamic</text>
<line x1="474.10" y1="739.00" x2="497.00" y2="739.00" stroke="#6248ff" stroke-width="1.0" stroke-opacity="0.75"/>
<text x="498.30" y="742.40" font-family="'Liberation Sans', Arial, Helvetica, sans-serif" font-size="9.4" text-anchor="start" fill="#262626" stroke="#262626" stroke-width="0.15" textLength="33.6" lengthAdjust="spacingAndGlyphs">Q-Static</text>
<rect x="344.30" y="746.10" width="36.20" height="19.80" fill="#fafafe" stroke="#a8a8a8" stroke-width="1"/>
<text x="347.30" y="758.10" font-family="'Liberation Sans', Arial, Helvetica, sans-serif" font-size="9" fill="#404040" stroke="#404040" stroke-width="0.1">X</text>
<text x="355.80" y="758.10" font-family="'Liberation Serif', 'Times New Roman', serif" font-size="9.6" font-weight="bold" fill="#0a8cf0" stroke="#0a8cf0" stroke-width="0.2" textLength="20.3" lengthAdjust="spacingAndGlyphs">1.456</text>
<circle cx="343.68" cy="767.27" r="1.5" fill="#111"/>
<rect x="383.60" y="800.00" width="35.80" height="20.00" fill="#fafafe" stroke="#a8a8a8" stroke-width="1"/>
<text x="386.60" y="812.00" font-family="'Liberation Sans', Arial, Helvetica, sans-serif" font-size="9" fill="#404040" stroke="#404040" stroke-width="0.1">X</text>
<text x="395.10" y="812.00" font-family="'Liberation Serif', 'Times New Roman', serif" font-size="9.6" font-weight="bold" fill="#0a8cf0" stroke="#0a8cf0" stroke-width="0.2" textLength="20.3" lengthAdjust="spacingAndGlyphs">2.913</text>
<circle cx="382.76" cy="821.38" r="1.5" fill="#111"/>
<line x1="361.57" y1="902.30" x2="361.57" y2="1016.20" stroke="#f6f6f6" stroke-width="1.0" />
<line x1="384.42" y1="902.30" x2="384.42" y2="1016.20" stroke="#f6f6f6" stroke-width="1.0" />
<line x1="400.64" y1="902.30" x2="400.64" y2="1016.20" stroke="#f6f6f6" stroke-width="1.0" />
<line x1="413.22" y1="902.30" x2="413.22" y2="1016.20" stroke="#f6f6f6" stroke-width="1.0" />
<line x1="423.49" y1="902.30" x2="423.49" y2="1016.20" stroke="#f6f6f6" stroke-width="1.0" />
<line x1="432.18" y1="902.30" x2="432.18" y2="1016.20" stroke="#f6f6f6" stroke-width="1.0" />
<line x1="439.71" y1="902.30" x2="439.71" y2="1016.20" stroke="#f6f6f6" stroke-width="1.0" />
<line x1="446.35" y1="902.30" x2="446.35" y2="1016.20" stroke="#f6f6f6" stroke-width="1.0" />
<line x1="491.35" y1="902.30" x2="491.35" y2="1016.20" stroke="#f6f6f6" stroke-width="1.0" />
<line x1="514.21" y1="902.30" x2="514.21" y2="1016.20" stroke="#f6f6f6" stroke-width="1.0" />
<line x1="530.42" y1="902.30" x2="530.42" y2="1016.20" stroke="#f6f6f6" stroke-width="1.0" />
<line x1="543.00" y1="902.30" x2="543.00" y2="1016.20" stroke="#f6f6f6" stroke-width="1.0" />
<line x1="543.00" y1="902.30" x2="543.00" y2="1016.20" stroke="#f6f6f6" stroke-width="1.0" />
<line x1="452.28" y1="902.30" x2="452.28" y2="1016.20" stroke="#f0f0f0" stroke-width="1.0" />
<line x1="322.50" y1="987.72" x2="543.00" y2="987.72" stroke="#f0f0f0" stroke-width="1.0" />
<line x1="322.50" y1="959.25" x2="543.00" y2="959.25" stroke="#f0f0f0" stroke-width="1.0" />
<line x1="322.50" y1="930.77" x2="543.00" y2="930.77" stroke="#f0f0f0" stroke-width="1.0" />
<line x1="322.50" y1="902.30" x2="543.00" y2="902.30" stroke="#f0f0f0" stroke-width="1.0" />
<line x1="345.35" y1="902.30" x2="345.35" y2="1016.20" stroke="#a6a6a6" stroke-width="1.0" />
<line x1="384.42" y1="902.30" x2="384.42" y2="1016.20" stroke="#a6a6a6" stroke-width="1.0" />
<line x1="407.28" y1="902.30" x2="407.28" y2="1016.20" stroke="#a6a6a6" stroke-width="1.0" />
<line x1="423.49" y1="902.30" x2="423.49" y2="1016.20" stroke="#a6a6a6" stroke-width="1.0" />
<line x1="436.07" y1="902.30" x2="436.07" y2="1016.20" stroke="#a6a6a6" stroke-width="1.0" />
<line x1="446.35" y1="902.30" x2="446.35" y2="1016.20" stroke="#a6a6a6" stroke-width="1.0" />
<line x1="455.03" y1="902.30" x2="455.03" y2="1016.20" stroke="#a6a6a6" stroke-width="1.0" />
<line x1="462.56" y1="902.30" x2="462.56" y2="1016.20" stroke="#a6a6a6" stroke-width="1.0" />
<line x1="469.20" y1="902.30" x2="469.20" y2="1016.20" stroke="#a6a6a6" stroke-width="1.0" />
<line x1="475.14" y1="902.30" x2="475.14" y2="1016.20" stroke="#a6a6a6" stroke-width="1.0" />
<clipPath id="c12"><rect x="322.50" y="901.30" width="220.50" height="115.40"/></clipPath>
<polyline points="314.79,1006.52 322.32,1007.26 328.96,1010.50 334.90,1007.94 340.27,1005.38 345.17,946.72 349.68,1009.94 353.86,1012.78 357.75,1015.06 361.39,1016.20 368.03,1013.92 371.07,1013.35 373.97,1013.35 381.84,1015.06 384.24,1012.21 386.54,1016.20 388.75,1015.59 390.88,1015.65 392.93,1016.01 396.82,1015.61 398.67,1016.01 400.46,1015.72 402.19,1015.72 403.87,1015.87 405.51,1015.55 407.10,1015.76 408.64,1015.77 410.14,1015.92 411.61,1015.58 414.43,1015.67 417.11,1013.35 418.41,1012.78 419.67,1013.35 420.91,1014.49 422.12,1015.82 424.47,1015.70 426.73,1015.87 427.82,1015.54 428.90,1015.67 429.95,1015.57 430.98,1015.61 432.00,1015.90 433.00,1015.69 433.98,1015.61 434.94,1015.73 435.89,1016.00 436.82,1015.53 437.74,1015.63 438.64,1015.47 440.40,1015.63 441.26,1015.86 442.11,1015.85 443.77,1015.61 444.58,1015.60 445.38,1013.92 446.17,1015.71 446.94,1015.69 447.71,1015.91 448.47,1015.69 451.39,1015.59 453.50,1015.93 454.18,1015.73 454.85,1012.78 455.52,1015.98 456.18,1015.83 456.83,1015.86 457.48,1015.76 458.11,1015.87 458.74,1015.59 459.37,1015.47 459.98,1015.81 460.59,1015.96 461.19,1015.73 461.79,1015.74 462.38,1015.79 462.96,1016.02 463.54,1015.89 464.11,1015.48 464.68,1015.88 465.80,1015.70 466.89,1015.93 467.43,1015.73 467.97,1015.85 469.54,1015.69 470.05,1015.44 470.56,1015.67 471.07,1015.58 472.07,1015.60 472.56,1015.83 473.05,1015.75 474.49,1015.76 474.96,1015.64 475.43,1015.80 475.89,1015.58 476.81,1015.71 477.26,1015.66 477.71,1015.79 478.60,1015.77 479.47,1015.87 479.90,1015.57 480.76,1015.85 481.60,1015.89 482.01,1015.64 482.43,1015.75 483.24,1015.55 483.65,1015.86 484.05,1015.68 484.45,1015.61 484.84,1015.69 485.23,1015.93 485.62,1015.71 486.01,1015.73 486.40,1015.89 486.78,1015.60 487.54,1015.75 487.91,1015.66 488.28,1015.93 488.65,1015.52 489.02,1015.57 489.38,1015.87 490.11,1015.65 490.46,1015.69 490.82,1015.87 491.17,1015.57 491.52,1015.83 491.87,1015.73 492.56,1015.70 492.91,1015.89 493.25,1015.85 493.59,1015.60 493.92,1015.82 494.26,1015.61 494.59,1015.72 495.25,1015.61 495.58,1015.88 495.90,1015.95 496.22,1015.67 496.55,1015.64 496.86,1015.87 497.18,1015.60 497.50,1015.59 497.81,1015.65 498.12,1015.87 499.36,1015.66 499.66,1015.85 499.96,1015.54 500.26,1015.82 500.86,1015.69 501.16,1015.96 501.45,1015.97 501.74,1015.67 502.03,1016.00 502.32,1015.72 502.61,1015.71 502.90,1015.92 503.18,1015.79 503.75,1015.89 504.03,1015.80 504.31,1015.58 504.59,1015.51 504.87,1015.84 505.42,1015.83 505.69,1015.95 505.96,1015.53 506.50,1015.94 506.77,1015.70 507.03,1015.92 507.56,1015.96 507.83,1015.57 508.09,1015.89 508.35,1015.84 508.61,1015.94 508.87,1015.78 509.12,1015.94 509.38,1015.83 509.89,1015.77 510.14,1015.90 510.64,1015.75 511.38,1015.86 511.87,1015.80 512.12,1015.86 512.36,1015.74 512.60,1015.98 512.84,1015.80 513.08,1015.76 513.32,1016.02 513.56,1016.03 513.79,1015.82 514.03,1015.74 514.26,1015.89 514.49,1015.87 514.73,1016.01 514.96,1015.86 515.42,1015.79 515.65,1015.57 515.87,1015.95 516.10,1015.76 516.33,1015.84 516.78,1015.71 517.00,1015.81 517.22,1015.68 517.44,1015.68 517.66,1015.92 517.88,1015.75 518.75,1015.64 519.19,1015.89 519.40,1015.64 519.61,1016.02 519.82,1015.96 520.04,1015.47 520.25,1015.80 520.46,1015.70 520.87,1015.95 521.08,1015.71 521.49,1015.63 521.70,1015.52 522.11,1015.86 522.31,1015.62 522.51,1015.55 522.72,1015.88 523.12,1015.75 523.32,1015.84 523.51,1015.59 523.71,1015.86 524.11,1015.57 524.69,1015.88 524.89,1015.73 525.08,1015.92 525.27,1015.60 525.66,1015.61 525.85,1015.76 526.04,1015.58 526.23,1015.75 526.42,1015.73 526.60,1015.45 526.98,1015.87 527.35,1015.64 527.54,1015.64 527.72,1015.48 528.27,1015.59 528.45,1015.71 528.81,1015.54 529.00,1015.79 529.18,1015.65 529.53,1015.74 529.71,1015.64 529.89,1015.86 530.07,1015.55 530.42,1016.02 530.94,1015.65 531.12,1015.71 531.29,1015.96 531.63,1015.53 531.81,1015.55 532.15,1015.94 532.49,1015.64 532.82,1015.55 532.99,1015.93 533.16,1015.61 533.33,1015.76 533.66,1015.73 533.82,1015.87 533.99,1015.65 534.15,1015.79 534.32,1015.75 534.65,1015.85 534.97,1015.54 535.13,1015.76 535.45,1015.56 535.61,1015.79 535.93,1015.46 536.09,1015.69 536.25,1015.63 536.57,1015.77 536.72,1015.55 536.88,1015.83 537.04,1015.64 537.35,1015.79 537.66,1015.62 537.97,1015.97 538.12,1015.63 538.43,1015.82 538.58,1015.83 538.73,1015.65 539.18,1015.75 539.33,1015.62 539.48,1015.91 539.63,1015.75 539.78,1015.87 540.08,1015.76 540.22,1015.57 540.37,1015.81 540.52,1015.70 540.67,1015.85 540.81,1015.55 540.96,1015.84 541.10,1015.93 541.39,1015.62 541.54,1015.77 541.97,1015.59 542.11,1015.76 542.40,1015.62 542.54,1015.83 542.68,1015.49 542.82,1015.78 543.10,1015.52" fill="none" stroke="#ff4a6a" stroke-opacity="0.85" stroke-width="1.0" stroke-linejoin="round" clip-path="url(#c12)"/>
<polyline points="314.79,1006.52 322.32,1007.26 328.96,1010.50 334.90,1007.94 340.27,1005.38 345.17,946.72 349.68,1009.94 353.86,1012.78 357.75,1015.06 361.39,1016.20 368.03,1013.92 371.07,1013.35 373.97,1013.35 381.84,1015.06 384.24,1012.21 386.54,1016.20 388.75,1015.72 392.93,1015.88 396.82,1015.70 398.67,1015.91 400.46,1015.62 402.19,1015.62 403.87,1015.90 405.51,1015.64 407.10,1015.85 408.64,1015.68 410.14,1015.86 411.61,1015.68 414.43,1015.58 417.11,1015.86 418.41,1015.78 419.67,1015.82 420.91,1015.59 422.12,1015.81 423.31,1015.72 425.61,1015.87 427.82,1015.65 428.90,1015.77 429.95,1015.68 430.98,1015.72 432.00,1015.89 433.00,1015.67 434.94,1015.64 435.89,1015.86 436.82,1015.58 439.53,1015.59 442.11,1015.90 442.94,1015.68 444.58,1015.69 445.38,1015.91 446.17,1015.59 447.71,1015.89 448.47,1015.58 449.95,1015.74 451.39,1015.64 452.80,1015.80 453.50,1015.81 454.18,1015.69 454.85,1015.87 456.18,1015.85 457.48,1015.71 458.11,1015.74 459.37,1015.59 459.98,1015.88 460.59,1015.86 461.19,1015.66 461.79,1015.79 462.38,1015.69 462.96,1015.89 463.54,1015.87 464.11,1015.62 465.24,1015.87 465.80,1015.60 466.35,1015.84 466.89,1015.89 467.43,1015.73 467.97,1015.72 468.49,1015.89 469.02,1015.68 469.54,1015.81 470.05,1015.58 470.56,1015.80 471.07,1015.67 472.07,1015.71 472.56,1015.90 473.05,1015.64 473.53,1015.81 474.49,1015.62 475.43,1015.84 475.89,1015.58 476.81,1015.74 477.26,1015.66 477.71,1015.81 479.47,1015.80 479.90,1015.69 480.76,1015.82 481.18,1015.70 481.60,1015.78 482.84,1015.70 483.24,1015.58 483.65,1015.80 484.45,1015.63 484.84,1015.80 485.23,1015.79 486.01,1015.60 486.40,1015.90 486.78,1015.70 487.16,1015.76 487.91,1015.59 488.28,1015.91 488.65,1015.63 489.02,1015.58 489.38,1015.79 490.11,1015.59 490.82,1015.80 491.17,1015.57 491.52,1015.77 491.87,1015.80 492.22,1015.67 492.91,1015.89 493.25,1015.90 493.59,1015.72 493.92,1015.77 494.26,1015.69 494.59,1015.82 495.25,1015.60 495.58,1015.89 495.90,1015.82 496.22,1015.61 496.55,1015.68 496.86,1015.87 497.18,1015.71 497.50,1015.67 498.12,1015.76 498.43,1015.91 498.74,1015.86 499.05,1015.64 499.66,1015.78 499.96,1015.59 500.26,1015.86 500.56,1015.91 500.86,1015.79 501.16,1015.89 501.45,1015.85 501.74,1015.66 502.03,1015.88 502.32,1015.61 502.90,1015.86 503.47,1015.86 503.75,1015.76 504.03,1015.82 504.31,1015.64 504.59,1015.64 505.14,1015.82 505.42,1015.69 505.69,1015.88 505.96,1015.62 506.23,1015.83 506.50,1015.91 506.77,1015.83 507.56,1015.85 507.83,1015.69 508.09,1015.80 508.35,1015.76 508.61,1015.90 508.87,1015.73 509.12,1015.87 509.38,1015.78 509.63,1015.88 509.89,1015.71 510.14,1015.88 510.39,1015.90 510.89,1015.74 511.63,1015.88 511.87,1015.71 512.12,1015.84 512.60,1015.88 512.84,1015.87 513.08,1015.64 513.32,1015.89 514.03,1015.76 514.26,1015.90 514.49,1015.75 514.73,1015.91 514.96,1015.83 515.42,1015.83 515.65,1015.61 515.87,1015.90 516.10,1015.74 516.33,1015.71 516.55,1015.83 517.00,1015.85 517.44,1015.64 517.66,1015.79 518.10,1015.60 518.32,1015.76 518.54,1015.62 518.75,1015.59 519.19,1015.85 519.40,1015.73 519.61,1015.89 519.82,1015.89 520.04,1015.60 520.25,1015.81 520.46,1015.69 520.87,1015.87 521.08,1015.58 521.49,1015.73 521.70,1015.59 522.11,1015.78 522.51,1015.62 522.72,1015.78 522.92,1015.80 523.32,1015.75 523.51,1015.61 523.71,1015.77 524.30,1015.60 524.69,1015.78 524.89,1015.74 525.08,1015.80 525.27,1015.64 525.47,1015.71 525.66,1015.58 525.85,1015.70 526.04,1015.69 526.23,1015.82 526.60,1015.58 526.98,1015.90 527.17,1015.64 527.35,1015.77 527.72,1015.62 528.09,1015.61 528.45,1015.76 528.63,1015.62 529.00,1015.73 529.18,1015.63 529.53,1015.75 529.71,1015.64 529.89,1015.73 530.07,1015.63 530.24,1015.84 530.42,1015.90 530.94,1015.74 531.12,1015.60 531.29,1015.89 531.81,1015.60 531.98,1015.84 532.15,1015.88 532.32,1015.66 532.82,1015.60 532.99,1015.87 533.16,1015.69 533.66,1015.61 533.82,1015.91 533.99,1015.59 534.32,1015.86 534.48,1015.72 534.65,1015.85 534.81,1015.64 535.45,1015.64 535.61,1015.83 535.93,1015.59 536.25,1015.73 536.41,1015.64 536.57,1015.83 536.72,1015.62 536.88,1015.73 537.04,1015.63 537.19,1015.82 537.35,1015.88 537.50,1015.58 537.66,1015.73 537.81,1015.63 537.97,1015.85 538.12,1015.72 538.58,1015.90 538.73,1015.77 538.88,1015.83 539.03,1015.70 539.18,1015.86 539.33,1015.67 539.48,1015.79 539.63,1015.65 539.78,1015.90 540.22,1015.66 540.52,1015.83 540.81,1015.64 540.96,1015.87 541.25,1015.90 541.39,1015.61 541.68,1015.68 541.97,1015.63 542.11,1015.70 542.25,1015.61 542.40,1015.63 542.54,1015.88 542.68,1015.58 542.82,1015.71 543.10,1015.64" fill="none" stroke="#6248ff" stroke-opacity="0.75" stroke-width="1.0" stroke-linejoin="round" clip-path="url(#c12)"/>
<line x1="322.50" y1="902.30" x2="322.50" y2="1017.70" stroke="#939393" stroke-width="1.0" />
<line x1="321.00" y1="1016.20" x2="543.00" y2="1016.20" stroke="#939393" stroke-width="1.0" />
<line x1="320.50" y1="1016.20" x2="322.50" y2="1016.20" stroke="#939393" stroke-width="1.0" />
<text x="316.30" y="1020.40" font-family="'Liberation Sans', Arial, Helvetica, sans-serif" font-size="10" text-anchor="end" fill="#262626" stroke="#262626" stroke-width="0.28" >0</text>
<line x1="320.50" y1="987.72" x2="322.50" y2="987.72" stroke="#939393" stroke-width="1.0" />
<text x="316.30" y="991.92" font-family="'Liberation Sans', Arial, Helvetica, sans-serif" font-size="10" text-anchor="end" fill="#262626" stroke="#262626" stroke-width="0.28" >0.5</text>
<line x1="320.50" y1="959.25" x2="322.50" y2="959.25" stroke="#939393" stroke-width="1.0" />
<text x="316.30" y="963.45" font-family="'Liberation Sans', Arial, Helvetica, sans-serif" font-size="10" text-anchor="end" fill="#262626" stroke="#262626" stroke-width="0.28" >1</text>
<line x1="320.50" y1="930.77" x2="322.50" y2="930.77" stroke="#939393" stroke-width="1.0" />
<text x="316.30" y="934.98" font-family="'Liberation Sans', Arial, Helvetica, sans-serif" font-size="10" text-anchor="end" fill="#262626" stroke="#262626" stroke-width="0.28" >1.5</text>
<line x1="320.50" y1="902.30" x2="322.50" y2="902.30" stroke="#939393" stroke-width="1.0" />
<text x="316.30" y="906.50" font-family="'Liberation Sans', Arial, Helvetica, sans-serif" font-size="10" text-anchor="end" fill="#262626" stroke="#262626" stroke-width="0.28" >2</text>
<line x1="361.57" y1="1016.20" x2="361.57" y2="1017.50" stroke="#939393" stroke-width="1.0" />
<line x1="384.42" y1="1016.20" x2="384.42" y2="1017.50" stroke="#939393" stroke-width="1.0" />
<line x1="400.64" y1="1016.20" x2="400.64" y2="1017.50" stroke="#939393" stroke-width="1.0" />
<line x1="413.22" y1="1016.20" x2="413.22" y2="1017.50" stroke="#939393" stroke-width="1.0" />
<line x1="423.49" y1="1016.20" x2="423.49" y2="1017.50" stroke="#939393" stroke-width="1.0" />
<line x1="432.18" y1="1016.20" x2="432.18" y2="1017.50" stroke="#939393" stroke-width="1.0" />
<line x1="439.71" y1="1016.20" x2="439.71" y2="1017.50" stroke="#939393" stroke-width="1.0" />
<line x1="446.35" y1="1016.20" x2="446.35" y2="1017.50" stroke="#939393" stroke-width="1.0" />
<line x1="491.35" y1="1016.20" x2="491.35" y2="1017.50" stroke="#939393" stroke-width="1.0" />
<line x1="514.21" y1="1016.20" x2="514.21" y2="1017.50" stroke="#939393" stroke-width="1.0" />
<line x1="530.42" y1="1016.20" x2="530.42" y2="1017.50" stroke="#939393" stroke-width="1.0" />
<line x1="543.00" y1="1016.20" x2="543.00" y2="1017.50" stroke="#939393" stroke-width="1.0" />
<line x1="322.50" y1="1016.20" x2="322.50" y2="1018.20" stroke="#939393" stroke-width="1.0" />
<text x="314.00" y="1035.50" font-family="'Liberation Sans', Arial, Helvetica, sans-serif" font-size="10" fill="#262626" stroke="#262626" stroke-width="0.28">10</text>
<text x="325.90" y="1029.50" font-family="'Liberation Sans', Arial, Helvetica, sans-serif" font-size="7.9" fill="#262626" stroke="#262626" stroke-width="0.25">0</text>
<line x1="452.28" y1="1016.20" x2="452.28" y2="1018.20" stroke="#939393" stroke-width="1.0" />
<text x="443.78" y="1035.50" font-family="'Liberation Sans', Arial, Helvetica, sans-serif" font-size="10" fill="#262626" stroke="#262626" stroke-width="0.28">10</text>
<text x="455.68" y="1029.50" font-family="'Liberation Sans', Arial, Helvetica, sans-serif" font-size="7.9" fill="#262626" stroke="#262626" stroke-width="0.25">1</text>
<text x="432.25" y="894.30" font-family="'Liberation Serif', 'Times New Roman', serif" font-size="10.5" text-anchor="middle" fill="#262626" stroke="#262626" font-weight="bold" stroke-width="0.12" textLength="78.6" lengthAdjust="spacingAndGlyphs">(l) Bridge 6: FFT</text>
<text x="431.15" y="1048.30" font-family="'Liberation Serif', 'Times New Roman', serif" font-size="11" text-anchor="middle" fill="#262626" stroke="#262626" stroke-width="0.12" textLength="82.8" lengthAdjust="spacingAndGlyphs">Frequency - [ Hz ]</text>
<text transform="translate(294.50,959.25) rotate(-90)" x="0" y="0" font-family="'Liberation Serif', 'Times New Roman', serif" font-size="11" text-anchor="middle" fill="#262626" stroke="#262626" stroke-width="0.12" textLength="103.6" lengthAdjust="spacingAndGlyphs">Displacement - [ mm ]</text>
<rect x="405.40" y="908.40" width="130.00" height="14.40" fill="#ffffff" stroke="#9a9a9a" stroke-width="1"/>
<line x1="408.00" y1="915.60" x2="430.10" y2="915.60" stroke="#ff4a6a" stroke-width="1.0" stroke-opacity="0.85"/>
<text x="432.60" y="919.00" font-family="'Liberation Sans', Arial, Helvetica, sans-serif" font-size="9.4" text-anchor="start" fill="#262626" stroke="#262626" stroke-width="0.15" textLength="36.4" lengthAdjust="spacingAndGlyphs">Dynamic</text>
<line x1="474.10" y1="915.60" x2="497.00" y2="915.60" stroke="#6248ff" stroke-width="1.0" stroke-opacity="0.75"/>
<text x="498.30" y="919.00" font-family="'Liberation Sans', Arial, Helvetica, sans-serif" font-size="9.4" text-anchor="start" fill="#262626" stroke="#262626" stroke-width="0.15" textLength="33.6" lengthAdjust="spacingAndGlyphs">Q-Static</text>
<rect x="345.60" y="924.30" width="35.90" height="20.50" fill="#fafafe" stroke="#a8a8a8" stroke-width="1"/>
<text x="348.60" y="936.30" font-family="'Liberation Sans', Arial, Helvetica, sans-serif" font-size="9" fill="#404040" stroke="#404040" stroke-width="0.1">X</text>
<text x="357.10" y="936.30" font-family="'Liberation Serif', 'Times New Roman', serif" font-size="9.6" font-weight="bold" fill="#0a8cf0" stroke="#0a8cf0" stroke-width="0.2" textLength="20.3" lengthAdjust="spacingAndGlyphs">1.495</text>
<circle cx="345.17" cy="946.72" r="1.5" fill="#111"/>
<line x1="167.60" y1="1065.40" x2="167.60" y2="1078.50" stroke="#a6a6a6" stroke-width="1.0" />
<text x="180.00" y="1076.40" font-family="'Liberation Serif', 'Times New Roman', serif" font-size="12" text-anchor="start" fill="#262626" stroke="#262626" stroke-width="0.12" textLength="281" lengthAdjust="spacingAndGlyphs">Wagon Pass Frequency Predicted by Equation (17)</text>
</svg>
</body></html>
